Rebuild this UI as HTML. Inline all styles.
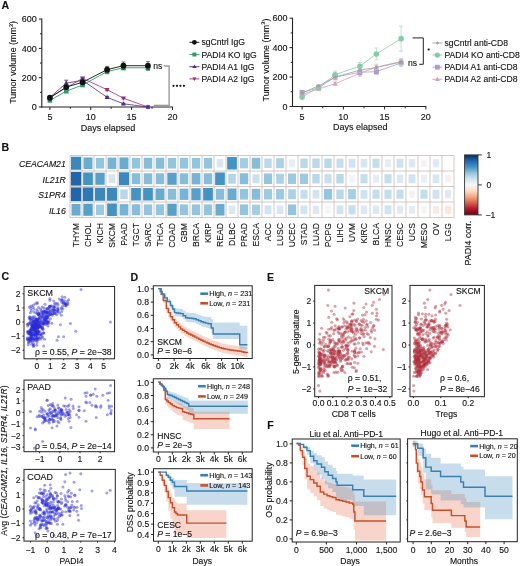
<!DOCTYPE html>
<html><head><meta charset="utf-8"><style>
html,body{margin:0;padding:0;background:#fff;width:520px;height:566px;overflow:hidden;}
svg{display:block;font-family:"Liberation Sans",sans-serif;filter:blur(0.3px);}
text{stroke:#111;stroke-width:0.12px;}
</style></head><body>
<svg width="520" height="566" viewBox="0 0 520 566" fill="#111">
<rect width="520" height="566" fill="#fff"/>
<line x1="41.8" y1="18.6" x2="41.8" y2="107.5" stroke="#222" stroke-width="1.1"/>
<line x1="41.3" y1="107" x2="172.95" y2="107" stroke="#222" stroke-width="1.1"/>
<line x1="38.8" y1="107" x2="41.8" y2="107" stroke="#222" stroke-width="1"/>
<line x1="40" y1="92.35" x2="41.8" y2="92.35" stroke="#222" stroke-width="1"/>
<line x1="38.8" y1="77.7" x2="41.8" y2="77.7" stroke="#222" stroke-width="1"/>
<line x1="40" y1="63.05" x2="41.8" y2="63.05" stroke="#222" stroke-width="1"/>
<line x1="38.8" y1="48.4" x2="41.8" y2="48.4" stroke="#222" stroke-width="1"/>
<line x1="40" y1="33.75" x2="41.8" y2="33.75" stroke="#222" stroke-width="1"/>
<line x1="38.8" y1="19.1" x2="41.8" y2="19.1" stroke="#222" stroke-width="1"/>
<text x="36.8" y="110.2" font-size="9" text-anchor="end">0</text>
<text x="36.8" y="80.9" font-size="9" text-anchor="end">200</text>
<text x="36.8" y="51.6" font-size="9" text-anchor="end">400</text>
<text x="36.8" y="22.3" font-size="9" text-anchor="end">600</text>
<line x1="49.9" y1="107" x2="49.9" y2="110" stroke="#222" stroke-width="1"/>
<line x1="70.33" y1="107" x2="70.33" y2="108.8" stroke="#222" stroke-width="1"/>
<line x1="90.75" y1="107" x2="90.75" y2="110" stroke="#222" stroke-width="1"/>
<line x1="111.17" y1="107" x2="111.17" y2="108.8" stroke="#222" stroke-width="1"/>
<line x1="131.6" y1="107" x2="131.6" y2="110" stroke="#222" stroke-width="1"/>
<line x1="152.03" y1="107" x2="152.03" y2="108.8" stroke="#222" stroke-width="1"/>
<line x1="172.45" y1="107" x2="172.45" y2="110" stroke="#222" stroke-width="1"/>
<text x="49.9" y="120" font-size="9" text-anchor="middle">5</text>
<text x="90.75" y="120" font-size="9" text-anchor="middle">10</text>
<text x="131.6" y="120" font-size="9" text-anchor="middle">15</text>
<text x="172.45" y="120" font-size="9" text-anchor="middle">20</text>
<text x="108.12" y="130.5" font-size="9" text-anchor="middle">Days elapsed</text>
<text x="16.4" y="62.4" font-size="8.9" text-anchor="middle" transform="rotate(-90 16.4 62.4)">Tumor volume (mm<tspan font-size="5.8" dy="-3.4">3</tspan><tspan dy="3.4">)</tspan></text>
<polyline points="49.9,97.33 66.24,87.66 82.58,78.43 107.09,89.71 123.43,98.21 147.94,107" fill="none" stroke="#9b2f6e" stroke-width="0.8"/>
<line x1="49.9" y1="96.6" x2="49.9" y2="98.06" stroke="#9b2f6e" stroke-width="0.8"/>
<line x1="47.9" y1="96.6" x2="51.9" y2="96.6" stroke="#9b2f6e" stroke-width="0.8"/>
<line x1="47.9" y1="98.06" x2="51.9" y2="98.06" stroke="#9b2f6e" stroke-width="0.8"/>
<line x1="66.24" y1="86.2" x2="66.24" y2="89.13" stroke="#9b2f6e" stroke-width="0.8"/>
<line x1="64.24" y1="86.2" x2="68.24" y2="86.2" stroke="#9b2f6e" stroke-width="0.8"/>
<line x1="64.24" y1="89.13" x2="68.24" y2="89.13" stroke="#9b2f6e" stroke-width="0.8"/>
<line x1="82.58" y1="76.97" x2="82.58" y2="79.9" stroke="#9b2f6e" stroke-width="0.8"/>
<line x1="80.58" y1="76.97" x2="84.58" y2="76.97" stroke="#9b2f6e" stroke-width="0.8"/>
<line x1="80.58" y1="79.9" x2="84.58" y2="79.9" stroke="#9b2f6e" stroke-width="0.8"/>
<line x1="107.09" y1="88.83" x2="107.09" y2="90.59" stroke="#9b2f6e" stroke-width="0.8"/>
<line x1="105.09" y1="88.83" x2="109.09" y2="88.83" stroke="#9b2f6e" stroke-width="0.8"/>
<line x1="105.09" y1="90.59" x2="109.09" y2="90.59" stroke="#9b2f6e" stroke-width="0.8"/>
<line x1="123.43" y1="97.48" x2="123.43" y2="98.94" stroke="#9b2f6e" stroke-width="0.8"/>
<line x1="121.43" y1="97.48" x2="125.43" y2="97.48" stroke="#9b2f6e" stroke-width="0.8"/>
<line x1="121.43" y1="98.94" x2="125.43" y2="98.94" stroke="#9b2f6e" stroke-width="0.8"/>
<polygon points="49.9,99.86 47.48,95.68 52.32,95.68" fill="#9b2f6e"/>
<polygon points="66.24,90.19 63.82,86.01 68.66,86.01" fill="#9b2f6e"/>
<polygon points="82.58,80.96 80.16,76.78 85,76.78" fill="#9b2f6e"/>
<polygon points="107.09,92.24 104.67,88.06 109.51,88.06" fill="#9b2f6e"/>
<polygon points="123.43,100.74 121.01,96.56 125.85,96.56" fill="#9b2f6e"/>
<polygon points="147.94,109.53 145.52,105.35 150.36,105.35" fill="#9b2f6e"/>
<polyline points="49.9,97.33 66.24,83.12 82.58,80.34 107.09,97.33 123.43,103.78 147.94,107" fill="none" stroke="#4b2a8c" stroke-width="0.8"/>
<line x1="49.9" y1="96.6" x2="49.9" y2="98.06" stroke="#4b2a8c" stroke-width="0.8"/>
<line x1="47.9" y1="96.6" x2="51.9" y2="96.6" stroke="#4b2a8c" stroke-width="0.8"/>
<line x1="47.9" y1="98.06" x2="51.9" y2="98.06" stroke="#4b2a8c" stroke-width="0.8"/>
<line x1="66.24" y1="80.19" x2="66.24" y2="86.05" stroke="#4b2a8c" stroke-width="0.8"/>
<line x1="64.24" y1="80.19" x2="68.24" y2="80.19" stroke="#4b2a8c" stroke-width="0.8"/>
<line x1="64.24" y1="86.05" x2="68.24" y2="86.05" stroke="#4b2a8c" stroke-width="0.8"/>
<line x1="82.58" y1="78.58" x2="82.58" y2="82.09" stroke="#4b2a8c" stroke-width="0.8"/>
<line x1="80.58" y1="78.58" x2="84.58" y2="78.58" stroke="#4b2a8c" stroke-width="0.8"/>
<line x1="80.58" y1="82.09" x2="84.58" y2="82.09" stroke="#4b2a8c" stroke-width="0.8"/>
<line x1="107.09" y1="96.45" x2="107.09" y2="98.21" stroke="#4b2a8c" stroke-width="0.8"/>
<line x1="105.09" y1="96.45" x2="109.09" y2="96.45" stroke="#4b2a8c" stroke-width="0.8"/>
<line x1="105.09" y1="98.21" x2="109.09" y2="98.21" stroke="#4b2a8c" stroke-width="0.8"/>
<line x1="123.43" y1="103.19" x2="123.43" y2="104.36" stroke="#4b2a8c" stroke-width="0.8"/>
<line x1="121.43" y1="103.19" x2="125.43" y2="103.19" stroke="#4b2a8c" stroke-width="0.8"/>
<line x1="121.43" y1="104.36" x2="125.43" y2="104.36" stroke="#4b2a8c" stroke-width="0.8"/>
<polygon points="49.9,94.8 47.48,98.98 52.32,98.98" fill="#4b2a8c"/>
<polygon points="66.24,80.59 63.82,84.77 68.66,84.77" fill="#4b2a8c"/>
<polygon points="82.58,77.81 80.16,81.99 85,81.99" fill="#4b2a8c"/>
<polygon points="107.09,94.8 104.67,98.98 109.51,98.98" fill="#4b2a8c"/>
<polygon points="123.43,101.25 121.01,105.43 125.85,105.43" fill="#4b2a8c"/>
<polygon points="147.94,104.47 145.52,108.65 150.36,108.65" fill="#4b2a8c"/>
<polyline points="49.9,100.41 66.24,91.18 82.58,85.03 107.09,71.55 123.43,67.74 147.94,67.74" fill="none" stroke="#2e9b6a" stroke-width="0.9"/>
<line x1="49.9" y1="99.53" x2="49.9" y2="101.29" stroke="#2e9b6a" stroke-width="0.8"/>
<line x1="47.9" y1="99.53" x2="51.9" y2="99.53" stroke="#2e9b6a" stroke-width="0.8"/>
<line x1="47.9" y1="101.29" x2="51.9" y2="101.29" stroke="#2e9b6a" stroke-width="0.8"/>
<line x1="66.24" y1="89.71" x2="66.24" y2="92.64" stroke="#2e9b6a" stroke-width="0.8"/>
<line x1="64.24" y1="89.71" x2="68.24" y2="89.71" stroke="#2e9b6a" stroke-width="0.8"/>
<line x1="64.24" y1="92.64" x2="68.24" y2="92.64" stroke="#2e9b6a" stroke-width="0.8"/>
<line x1="82.58" y1="83.56" x2="82.58" y2="86.49" stroke="#2e9b6a" stroke-width="0.8"/>
<line x1="80.58" y1="83.56" x2="84.58" y2="83.56" stroke="#2e9b6a" stroke-width="0.8"/>
<line x1="80.58" y1="86.49" x2="84.58" y2="86.49" stroke="#2e9b6a" stroke-width="0.8"/>
<line x1="107.09" y1="69.35" x2="107.09" y2="73.74" stroke="#2e9b6a" stroke-width="0.8"/>
<line x1="105.09" y1="69.35" x2="109.09" y2="69.35" stroke="#2e9b6a" stroke-width="0.8"/>
<line x1="105.09" y1="73.74" x2="109.09" y2="73.74" stroke="#2e9b6a" stroke-width="0.8"/>
<line x1="123.43" y1="65.54" x2="123.43" y2="69.94" stroke="#2e9b6a" stroke-width="0.8"/>
<line x1="121.43" y1="65.54" x2="125.43" y2="65.54" stroke="#2e9b6a" stroke-width="0.8"/>
<line x1="121.43" y1="69.94" x2="125.43" y2="69.94" stroke="#2e9b6a" stroke-width="0.8"/>
<line x1="147.94" y1="65.1" x2="147.94" y2="70.38" stroke="#2e9b6a" stroke-width="0.8"/>
<line x1="145.94" y1="65.1" x2="149.94" y2="65.1" stroke="#2e9b6a" stroke-width="0.8"/>
<line x1="145.94" y1="70.38" x2="149.94" y2="70.38" stroke="#2e9b6a" stroke-width="0.8"/>
<rect x="47.6" y="98.11" width="4.6" height="4.6" fill="#2e9b6a"/>
<rect x="63.94" y="88.88" width="4.6" height="4.6" fill="#2e9b6a"/>
<rect x="80.28" y="82.73" width="4.6" height="4.6" fill="#2e9b6a"/>
<rect x="104.79" y="69.25" width="4.6" height="4.6" fill="#2e9b6a"/>
<rect x="121.13" y="65.44" width="4.6" height="4.6" fill="#2e9b6a"/>
<rect x="145.64" y="65.44" width="4.6" height="4.6" fill="#2e9b6a"/>
<polyline points="49.9,97.77 66.24,87.08 82.58,82.24 107.09,69.64 123.43,65.69 147.94,65.69" fill="none" stroke="#111" stroke-width="0.9"/>
<line x1="49.9" y1="96.6" x2="49.9" y2="98.94" stroke="#555" stroke-width="0.8"/>
<line x1="47.9" y1="96.6" x2="51.9" y2="96.6" stroke="#555" stroke-width="0.8"/>
<line x1="47.9" y1="98.94" x2="51.9" y2="98.94" stroke="#555" stroke-width="0.8"/>
<line x1="66.24" y1="84.88" x2="66.24" y2="89.27" stroke="#555" stroke-width="0.8"/>
<line x1="64.24" y1="84.88" x2="68.24" y2="84.88" stroke="#555" stroke-width="0.8"/>
<line x1="64.24" y1="89.27" x2="68.24" y2="89.27" stroke="#555" stroke-width="0.8"/>
<line x1="82.58" y1="80.48" x2="82.58" y2="84" stroke="#555" stroke-width="0.8"/>
<line x1="80.58" y1="80.48" x2="84.58" y2="80.48" stroke="#555" stroke-width="0.8"/>
<line x1="80.58" y1="84" x2="84.58" y2="84" stroke="#555" stroke-width="0.8"/>
<line x1="107.09" y1="66.42" x2="107.09" y2="72.87" stroke="#555" stroke-width="0.8"/>
<line x1="105.09" y1="66.42" x2="109.09" y2="66.42" stroke="#555" stroke-width="0.8"/>
<line x1="105.09" y1="72.87" x2="109.09" y2="72.87" stroke="#555" stroke-width="0.8"/>
<line x1="123.43" y1="62.02" x2="123.43" y2="69.35" stroke="#555" stroke-width="0.8"/>
<line x1="121.43" y1="62.02" x2="125.43" y2="62.02" stroke="#555" stroke-width="0.8"/>
<line x1="121.43" y1="69.35" x2="125.43" y2="69.35" stroke="#555" stroke-width="0.8"/>
<line x1="147.94" y1="61.58" x2="147.94" y2="69.79" stroke="#555" stroke-width="0.8"/>
<line x1="145.94" y1="61.58" x2="149.94" y2="61.58" stroke="#555" stroke-width="0.8"/>
<line x1="145.94" y1="69.79" x2="149.94" y2="69.79" stroke="#555" stroke-width="0.8"/>
<circle cx="49.9" cy="97.77" r="2.9" fill="#111"/>
<circle cx="66.24" cy="87.08" r="2.9" fill="#111"/>
<circle cx="82.58" cy="82.24" r="2.9" fill="#111"/>
<circle cx="107.09" cy="69.64" r="2.9" fill="#111"/>
<circle cx="123.43" cy="65.69" r="2.9" fill="#111"/>
<circle cx="147.94" cy="65.69" r="2.9" fill="#111"/>
<line x1="189.4" y1="42.3" x2="199.4" y2="42.3" stroke="#111" stroke-width="0.9"/>
<circle cx="194.4" cy="42.3" r="2.4" fill="#111"/>
<text x="201.5" y="45.4" font-size="8.6">sgCntrl IgG</text>
<line x1="189.4" y1="54.5" x2="199.4" y2="54.5" stroke="#2e9b6a" stroke-width="0.9"/>
<rect x="192.4" y="52.5" width="4" height="4" fill="#2e9b6a"/>
<text x="201.5" y="57.6" font-size="8.6">PADI4 KO IgG</text>
<line x1="189.4" y1="66.7" x2="199.4" y2="66.7" stroke="#4b2a8c" stroke-width="0.9"/>
<polygon points="194.4,64.51 192.31,68.12 196.49,68.12" fill="#4b2a8c"/>
<text x="201.5" y="69.8" font-size="8.6">PADI4 A1 IgG</text>
<line x1="189.4" y1="78.9" x2="199.4" y2="78.9" stroke="#9b2f6e" stroke-width="0.9"/>
<polygon points="194.4,81.08 192.31,77.47 196.49,77.47" fill="#9b2f6e"/>
<text x="201.5" y="82" font-size="8.6">PADI4 A2 IgG</text>
<text x="153.2" y="68.6" font-size="8.6">ns</text>
<polyline points="163.8,66 169.1,66 169.1,105.8" fill="none" stroke="#9c9c9c" stroke-width="1.4"/>
<line x1="153.8" y1="105.6" x2="169.6" y2="105.6" stroke="#999" stroke-width="1.8"/>
<circle cx="173.5" cy="85.8" r="1.1" fill="#111"/>
<circle cx="176.97" cy="85.8" r="1.1" fill="#111"/>
<circle cx="180.44" cy="85.8" r="1.1" fill="#111"/>
<circle cx="183.91" cy="85.8" r="1.1" fill="#111"/>
<line x1="292.5" y1="17.7" x2="292.5" y2="107" stroke="#222" stroke-width="1.1"/>
<line x1="292" y1="106.5" x2="426.35" y2="106.5" stroke="#222" stroke-width="1.1"/>
<line x1="289.5" y1="106.5" x2="292.5" y2="106.5" stroke="#222" stroke-width="1"/>
<line x1="290.7" y1="91.78" x2="292.5" y2="91.78" stroke="#222" stroke-width="1"/>
<line x1="289.5" y1="77.07" x2="292.5" y2="77.07" stroke="#222" stroke-width="1"/>
<line x1="290.7" y1="62.35" x2="292.5" y2="62.35" stroke="#222" stroke-width="1"/>
<line x1="289.5" y1="47.63" x2="292.5" y2="47.63" stroke="#222" stroke-width="1"/>
<line x1="290.7" y1="32.92" x2="292.5" y2="32.92" stroke="#222" stroke-width="1"/>
<line x1="289.5" y1="18.2" x2="292.5" y2="18.2" stroke="#222" stroke-width="1"/>
<text x="287.5" y="109.7" font-size="9" text-anchor="end">0</text>
<text x="287.5" y="80.27" font-size="9" text-anchor="end">200</text>
<text x="287.5" y="50.83" font-size="9" text-anchor="end">400</text>
<text x="287.5" y="21.4" font-size="9" text-anchor="end">600</text>
<line x1="302.1" y1="106.5" x2="302.1" y2="109.5" stroke="#222" stroke-width="1"/>
<line x1="322.73" y1="106.5" x2="322.73" y2="108.3" stroke="#222" stroke-width="1"/>
<line x1="343.35" y1="106.5" x2="343.35" y2="109.5" stroke="#222" stroke-width="1"/>
<line x1="363.98" y1="106.5" x2="363.98" y2="108.3" stroke="#222" stroke-width="1"/>
<line x1="384.6" y1="106.5" x2="384.6" y2="109.5" stroke="#222" stroke-width="1"/>
<line x1="405.23" y1="106.5" x2="405.23" y2="108.3" stroke="#222" stroke-width="1"/>
<line x1="425.85" y1="106.5" x2="425.85" y2="109.5" stroke="#222" stroke-width="1"/>
<text x="302.1" y="119.5" font-size="9" text-anchor="middle">5</text>
<text x="343.35" y="119.5" font-size="9" text-anchor="middle">10</text>
<text x="384.6" y="119.5" font-size="9" text-anchor="middle">15</text>
<text x="425.85" y="119.5" font-size="9" text-anchor="middle">20</text>
<text x="360.18" y="130" font-size="9" text-anchor="middle">Days elapsed</text>
<text x="268.9" y="60" font-size="8.9" text-anchor="middle" transform="rotate(-90 268.9 60)">Tumor volume (mm<tspan font-size="5.8" dy="-3.4">3</tspan><tspan dy="3.4">)</tspan></text>
<polyline points="302.1,94.43 318.6,88.99 335.1,83.69 359.85,73.24 376.35,67.06 401.1,61.61" fill="none" stroke="#dca0ae" stroke-width="0.8"/>
<line x1="302.1" y1="93.55" x2="302.1" y2="95.32" stroke="#ecc0cc" stroke-width="0.8"/>
<line x1="300.1" y1="93.55" x2="304.1" y2="93.55" stroke="#ecc0cc" stroke-width="0.8"/>
<line x1="300.1" y1="95.32" x2="304.1" y2="95.32" stroke="#ecc0cc" stroke-width="0.8"/>
<line x1="318.6" y1="87.81" x2="318.6" y2="90.16" stroke="#ecc0cc" stroke-width="0.8"/>
<line x1="316.6" y1="87.81" x2="320.6" y2="87.81" stroke="#ecc0cc" stroke-width="0.8"/>
<line x1="316.6" y1="90.16" x2="320.6" y2="90.16" stroke="#ecc0cc" stroke-width="0.8"/>
<line x1="335.1" y1="81.92" x2="335.1" y2="85.46" stroke="#ecc0cc" stroke-width="0.8"/>
<line x1="333.1" y1="81.92" x2="337.1" y2="81.92" stroke="#ecc0cc" stroke-width="0.8"/>
<line x1="333.1" y1="85.46" x2="337.1" y2="85.46" stroke="#ecc0cc" stroke-width="0.8"/>
<line x1="359.85" y1="70.3" x2="359.85" y2="76.18" stroke="#ecc0cc" stroke-width="0.8"/>
<line x1="357.85" y1="70.3" x2="361.85" y2="70.3" stroke="#ecc0cc" stroke-width="0.8"/>
<line x1="357.85" y1="76.18" x2="361.85" y2="76.18" stroke="#ecc0cc" stroke-width="0.8"/>
<line x1="376.35" y1="64.12" x2="376.35" y2="70" stroke="#ecc0cc" stroke-width="0.8"/>
<line x1="374.35" y1="64.12" x2="378.35" y2="64.12" stroke="#ecc0cc" stroke-width="0.8"/>
<line x1="374.35" y1="70" x2="378.35" y2="70" stroke="#ecc0cc" stroke-width="0.8"/>
<line x1="401.1" y1="58.67" x2="401.1" y2="64.56" stroke="#ecc0cc" stroke-width="0.8"/>
<line x1="399.1" y1="58.67" x2="403.1" y2="58.67" stroke="#ecc0cc" stroke-width="0.8"/>
<line x1="399.1" y1="64.56" x2="403.1" y2="64.56" stroke="#ecc0cc" stroke-width="0.8"/>
<polygon points="302.1,91.79 299.57,96.16 304.63,96.16" fill="#dca0ae"/>
<polygon points="318.6,86.34 316.07,90.71 321.13,90.71" fill="#dca0ae"/>
<polygon points="335.1,81.04 332.57,85.41 337.63,85.41" fill="#dca0ae"/>
<polygon points="359.85,70.6 357.32,74.97 362.38,74.97" fill="#dca0ae"/>
<polygon points="376.35,64.41 373.82,68.78 378.88,68.78" fill="#dca0ae"/>
<polygon points="401.1,58.97 398.57,63.34 403.63,63.34" fill="#dca0ae"/>
<polyline points="302.1,92.52 318.6,87.66 335.1,77.07 359.85,72.36 376.35,71.62 401.1,62.94" fill="none" stroke="#aa9cd2" stroke-width="0.8"/>
<line x1="302.1" y1="91.34" x2="302.1" y2="93.7" stroke="#c8bee4" stroke-width="0.8"/>
<line x1="300.1" y1="91.34" x2="304.1" y2="91.34" stroke="#c8bee4" stroke-width="0.8"/>
<line x1="300.1" y1="93.7" x2="304.1" y2="93.7" stroke="#c8bee4" stroke-width="0.8"/>
<line x1="318.6" y1="86.19" x2="318.6" y2="89.13" stroke="#c8bee4" stroke-width="0.8"/>
<line x1="316.6" y1="86.19" x2="320.6" y2="86.19" stroke="#c8bee4" stroke-width="0.8"/>
<line x1="316.6" y1="89.13" x2="320.6" y2="89.13" stroke="#c8bee4" stroke-width="0.8"/>
<line x1="335.1" y1="74.12" x2="335.1" y2="80.01" stroke="#c8bee4" stroke-width="0.8"/>
<line x1="333.1" y1="74.12" x2="337.1" y2="74.12" stroke="#c8bee4" stroke-width="0.8"/>
<line x1="333.1" y1="80.01" x2="337.1" y2="80.01" stroke="#c8bee4" stroke-width="0.8"/>
<line x1="359.85" y1="68.68" x2="359.85" y2="76.04" stroke="#c8bee4" stroke-width="0.8"/>
<line x1="357.85" y1="68.68" x2="361.85" y2="68.68" stroke="#c8bee4" stroke-width="0.8"/>
<line x1="357.85" y1="76.04" x2="361.85" y2="76.04" stroke="#c8bee4" stroke-width="0.8"/>
<line x1="376.35" y1="68.68" x2="376.35" y2="74.56" stroke="#c8bee4" stroke-width="0.8"/>
<line x1="374.35" y1="68.68" x2="378.35" y2="68.68" stroke="#c8bee4" stroke-width="0.8"/>
<line x1="374.35" y1="74.56" x2="378.35" y2="74.56" stroke="#c8bee4" stroke-width="0.8"/>
<line x1="401.1" y1="59.26" x2="401.1" y2="66.62" stroke="#c8bee4" stroke-width="0.8"/>
<line x1="399.1" y1="59.26" x2="403.1" y2="59.26" stroke="#c8bee4" stroke-width="0.8"/>
<line x1="399.1" y1="66.62" x2="403.1" y2="66.62" stroke="#c8bee4" stroke-width="0.8"/>
<rect x="299.6" y="90.02" width="5" height="5" fill="#aa9cd2"/>
<rect x="316.1" y="85.16" width="5" height="5" fill="#aa9cd2"/>
<rect x="332.6" y="74.57" width="5" height="5" fill="#aa9cd2"/>
<rect x="357.35" y="69.86" width="5" height="5" fill="#aa9cd2"/>
<rect x="373.85" y="69.12" width="5" height="5" fill="#aa9cd2"/>
<rect x="398.6" y="60.44" width="5" height="5" fill="#aa9cd2"/>
<polyline points="302.1,97.08 318.6,87.22 335.1,74.71 359.85,66.18 376.35,53.96 401.1,38.66" fill="none" stroke="#86cba8" stroke-width="0.8"/>
<line x1="302.1" y1="96.2" x2="302.1" y2="97.96" stroke="#b0dcc6" stroke-width="0.8"/>
<line x1="300.1" y1="96.2" x2="304.1" y2="96.2" stroke="#b0dcc6" stroke-width="0.8"/>
<line x1="300.1" y1="97.96" x2="304.1" y2="97.96" stroke="#b0dcc6" stroke-width="0.8"/>
<line x1="318.6" y1="85.75" x2="318.6" y2="88.69" stroke="#b0dcc6" stroke-width="0.8"/>
<line x1="316.6" y1="85.75" x2="320.6" y2="85.75" stroke="#b0dcc6" stroke-width="0.8"/>
<line x1="316.6" y1="88.69" x2="320.6" y2="88.69" stroke="#b0dcc6" stroke-width="0.8"/>
<line x1="335.1" y1="71.03" x2="335.1" y2="78.39" stroke="#b0dcc6" stroke-width="0.8"/>
<line x1="333.1" y1="71.03" x2="337.1" y2="71.03" stroke="#b0dcc6" stroke-width="0.8"/>
<line x1="333.1" y1="78.39" x2="337.1" y2="78.39" stroke="#b0dcc6" stroke-width="0.8"/>
<line x1="359.85" y1="62.5" x2="359.85" y2="69.86" stroke="#b0dcc6" stroke-width="0.8"/>
<line x1="357.85" y1="62.5" x2="361.85" y2="62.5" stroke="#b0dcc6" stroke-width="0.8"/>
<line x1="357.85" y1="69.86" x2="361.85" y2="69.86" stroke="#b0dcc6" stroke-width="0.8"/>
<line x1="376.35" y1="48.07" x2="376.35" y2="59.85" stroke="#b0dcc6" stroke-width="0.8"/>
<line x1="374.35" y1="48.07" x2="378.35" y2="48.07" stroke="#b0dcc6" stroke-width="0.8"/>
<line x1="374.35" y1="59.85" x2="378.35" y2="59.85" stroke="#b0dcc6" stroke-width="0.8"/>
<line x1="401.1" y1="26.15" x2="401.1" y2="51.17" stroke="#b0dcc6" stroke-width="0.8"/>
<line x1="399.1" y1="26.15" x2="403.1" y2="26.15" stroke="#b0dcc6" stroke-width="0.8"/>
<line x1="399.1" y1="51.17" x2="403.1" y2="51.17" stroke="#b0dcc6" stroke-width="0.8"/>
<circle cx="302.1" cy="97.08" r="2.8" fill="#86cba8"/>
<circle cx="318.6" cy="87.22" r="2.8" fill="#86cba8"/>
<circle cx="335.1" cy="74.71" r="2.8" fill="#86cba8"/>
<circle cx="359.85" cy="66.18" r="2.8" fill="#86cba8"/>
<circle cx="376.35" cy="53.96" r="2.8" fill="#86cba8"/>
<circle cx="401.1" cy="38.66" r="2.8" fill="#86cba8"/>
<polyline points="302.1,92.96 318.6,85.9 335.1,77.07 359.85,70.15 376.35,67.5 401.1,62.06" fill="none" stroke="#a0a0a0" stroke-width="0.8"/>
<line x1="302.1" y1="92.08" x2="302.1" y2="93.84" stroke="#c0c0c0" stroke-width="0.8"/>
<line x1="300.1" y1="92.08" x2="304.1" y2="92.08" stroke="#c0c0c0" stroke-width="0.8"/>
<line x1="300.1" y1="93.84" x2="304.1" y2="93.84" stroke="#c0c0c0" stroke-width="0.8"/>
<line x1="318.6" y1="84.72" x2="318.6" y2="87.07" stroke="#c0c0c0" stroke-width="0.8"/>
<line x1="316.6" y1="84.72" x2="320.6" y2="84.72" stroke="#c0c0c0" stroke-width="0.8"/>
<line x1="316.6" y1="87.07" x2="320.6" y2="87.07" stroke="#c0c0c0" stroke-width="0.8"/>
<line x1="335.1" y1="75.3" x2="335.1" y2="78.83" stroke="#c0c0c0" stroke-width="0.8"/>
<line x1="333.1" y1="75.3" x2="337.1" y2="75.3" stroke="#c0c0c0" stroke-width="0.8"/>
<line x1="333.1" y1="78.83" x2="337.1" y2="78.83" stroke="#c0c0c0" stroke-width="0.8"/>
<line x1="359.85" y1="67.94" x2="359.85" y2="72.36" stroke="#c0c0c0" stroke-width="0.8"/>
<line x1="357.85" y1="67.94" x2="361.85" y2="67.94" stroke="#c0c0c0" stroke-width="0.8"/>
<line x1="357.85" y1="72.36" x2="361.85" y2="72.36" stroke="#c0c0c0" stroke-width="0.8"/>
<line x1="376.35" y1="65.29" x2="376.35" y2="69.71" stroke="#c0c0c0" stroke-width="0.8"/>
<line x1="374.35" y1="65.29" x2="378.35" y2="65.29" stroke="#c0c0c0" stroke-width="0.8"/>
<line x1="374.35" y1="69.71" x2="378.35" y2="69.71" stroke="#c0c0c0" stroke-width="0.8"/>
<line x1="401.1" y1="59.41" x2="401.1" y2="64.7" stroke="#c0c0c0" stroke-width="0.8"/>
<line x1="399.1" y1="59.41" x2="403.1" y2="59.41" stroke="#c0c0c0" stroke-width="0.8"/>
<line x1="399.1" y1="64.7" x2="403.1" y2="64.7" stroke="#c0c0c0" stroke-width="0.8"/>
<polygon points="302.1,90.96 304.1,92.96 302.1,94.96 300.1,92.96" fill="#a0a0a0"/>
<polygon points="318.6,83.9 320.6,85.9 318.6,87.9 316.6,85.9" fill="#a0a0a0"/>
<polygon points="335.1,75.07 337.1,77.07 335.1,79.07 333.1,77.07" fill="#a0a0a0"/>
<polygon points="359.85,68.15 361.85,70.15 359.85,72.15 357.85,70.15" fill="#a0a0a0"/>
<polygon points="376.35,65.5 378.35,67.5 376.35,69.5 374.35,67.5" fill="#a0a0a0"/>
<polygon points="401.1,60.06 403.1,62.06 401.1,64.06 399.1,62.06" fill="#a0a0a0"/>
<line x1="432.4" y1="43" x2="442.4" y2="43" stroke="#a0a0a0" stroke-width="0.9"/>
<polygon points="437.4,41.3 439.1,43 437.4,44.7 435.7,43" fill="#a0a0a0"/>
<text x="444.5" y="46.1" font-size="8.6">sgCntrl anti-CD8</text>
<line x1="432.4" y1="55.1" x2="442.4" y2="55.1" stroke="#86cba8" stroke-width="0.9"/>
<circle cx="437.4" cy="55.1" r="2.6" fill="#86cba8"/>
<text x="444.5" y="58.2" font-size="8.6">PADI4 KO anti-CD8</text>
<line x1="432.4" y1="67.2" x2="442.4" y2="67.2" stroke="#aa9cd2" stroke-width="0.9"/>
<rect x="435" y="64.8" width="4.8" height="4.8" fill="#aa9cd2"/>
<text x="444.5" y="70.3" font-size="8.6">PADI4 A1 anti-CD8</text>
<line x1="432.4" y1="79.3" x2="442.4" y2="79.3" stroke="#dca0ae" stroke-width="0.9"/>
<polygon points="437.4,76.77 434.98,80.95 439.82,80.95" fill="#dca0ae"/>
<text x="444.5" y="82.4" font-size="8.6">PADI4 A2 anti-CD8</text>
<polyline points="412.5,37.9 423.3,37.9 423.3,64.3 419.2,64.3" fill="none" stroke="#222" stroke-width="1"/>
<text x="407.9" y="65.8" font-size="8.6">ns</text>
<circle cx="428.7" cy="49.5" r="1.1" fill="#111"/>
<text x="1.4" y="8.9" font-size="10.6" font-weight="bold">A</text>
<text x="1.4" y="150.8" font-size="10.6" font-weight="bold">B</text>
<text x="1.4" y="280.4" font-size="10.6" font-weight="bold">C</text>
<text x="130.6" y="280.6" font-size="10.6" font-weight="bold">D</text>
<text x="266.9" y="280.7" font-size="10.6" font-weight="bold">E</text>
<text x="267.2" y="428.6" font-size="10.6" font-weight="bold">F</text>
<rect x="70" y="155.5" width="384" height="62" fill="#fff"/>
<rect x="70.96" y="156.74" width="10.08" height="13.02" fill="#3a88bd"/>
<rect x="83.5" y="157.44" width="9" height="11.62" fill="#6aacd0"/>
<rect x="95.86" y="157.9" width="8.28" height="10.69" fill="#92c5de"/>
<rect x="107.61" y="157.58" width="8.78" height="11.35" fill="#76b4d5"/>
<rect x="119.5" y="157.44" width="9" height="11.62" fill="#6aacd0"/>
<rect x="131.86" y="157.9" width="8.28" height="10.69" fill="#92c5de"/>
<rect x="143.75" y="157.76" width="8.5" height="10.97" fill="#86beda"/>
<rect x="155.75" y="157.76" width="8.5" height="10.97" fill="#86beda"/>
<rect x="167.86" y="157.9" width="8.28" height="10.69" fill="#92c5de"/>
<rect x="179.86" y="157.9" width="8.28" height="10.69" fill="#92c5de"/>
<rect x="191.86" y="157.9" width="8.28" height="10.69" fill="#92c5de"/>
<rect x="203.86" y="157.9" width="8.28" height="10.69" fill="#92c5de"/>
<rect x="216.72" y="159.02" width="6.55" height="8.46" fill="#d9e9f1"/>
<rect x="227.14" y="156.97" width="9.72" height="12.56" fill="#4393c3"/>
<rect x="240.04" y="158.13" width="7.92" height="10.23" fill="#a2cde2"/>
<rect x="251.75" y="157.76" width="8.5" height="10.97" fill="#86beda"/>
<rect x="264.31" y="158.48" width="7.39" height="9.54" fill="#b9d9e9"/>
<rect x="276.14" y="158.27" width="7.72" height="9.97" fill="#abd1e5"/>
<rect x="288.97" y="159.33" width="6.06" height="7.83" fill="#e6eff4"/>
<rect x="300.31" y="158.48" width="7.39" height="9.54" fill="#b9d9e9"/>
<rect x="312.31" y="158.48" width="7.39" height="9.54" fill="#b9d9e9"/>
<rect x="324.31" y="158.48" width="7.39" height="9.54" fill="#b9d9e9"/>
<rect x="336.44" y="158.65" width="7.12" height="9.2" fill="#c5dfec"/>
<rect x="348.57" y="158.82" width="6.86" height="8.86" fill="#d0e5f0"/>
<rect x="360.67" y="158.94" width="6.67" height="8.61" fill="#d6e7f1"/>
<rect x="372.44" y="158.65" width="7.13" height="9.21" fill="#c4dfec"/>
<rect x="384.93" y="159.28" width="6.15" height="7.94" fill="#e3eef3"/>
<rect x="396.55" y="158.8" width="6.9" height="8.91" fill="#cee4ef"/>
<rect x="408.75" y="159.06" width="6.49" height="8.39" fill="#dae9f2"/>
<rect x="421.21" y="159.65" width="5.57" height="7.2" fill="#f2f5f6"/>
<rect x="432.84" y="159.17" width="6.32" height="8.17" fill="#dfebf3"/>
<rect x="70.69" y="171.89" width="10.62" height="13.72" fill="#2166ac"/>
<rect x="83.14" y="172.47" width="9.72" height="12.56" fill="#4393c3"/>
<rect x="95.32" y="172.71" width="9.36" height="12.09" fill="#57a0ca"/>
<rect x="108.62" y="174.38" width="6.77" height="8.74" fill="#d3e6f0"/>
<rect x="118.96" y="172.24" width="10.08" height="13.02" fill="#3a88bd"/>
<rect x="131.75" y="173.26" width="8.5" height="10.97" fill="#86beda"/>
<rect x="143.75" y="173.26" width="8.5" height="10.97" fill="#86beda"/>
<rect x="155.75" y="173.26" width="8.5" height="10.97" fill="#86beda"/>
<rect x="167.32" y="172.71" width="9.36" height="12.09" fill="#57a0ca"/>
<rect x="179.75" y="173.26" width="8.5" height="10.97" fill="#86beda"/>
<rect x="191.61" y="173.08" width="8.78" height="11.35" fill="#76b4d5"/>
<rect x="203.75" y="173.26" width="8.5" height="10.97" fill="#86beda"/>
<rect x="215.14" y="172.47" width="9.72" height="12.56" fill="#4393c3"/>
<rect x="228.22" y="173.87" width="7.56" height="9.77" fill="#b2d5e7"/>
<rect x="239.75" y="173.26" width="8.5" height="10.97" fill="#86beda"/>
<rect x="252.51" y="174.24" width="6.98" height="9.02" fill="#cbe2ee"/>
<rect x="263.88" y="173.42" width="8.25" height="10.65" fill="#93c6de"/>
<rect x="276.14" y="173.77" width="7.72" height="9.97" fill="#abd1e5"/>
<rect x="287.98" y="173.55" width="8.05" height="10.4" fill="#9ccae1"/>
<rect x="299.98" y="173.55" width="8.05" height="10.4" fill="#9ccae1"/>
<rect x="312.31" y="173.98" width="7.39" height="9.54" fill="#b9d9e9"/>
<rect x="324.44" y="174.15" width="7.12" height="9.2" fill="#c5dfec"/>
<rect x="336.31" y="173.98" width="7.39" height="9.54" fill="#b9d9e9"/>
<rect x="349.2" y="175.13" width="5.6" height="7.23" fill="#f2f5f6"/>
<rect x="360.44" y="174.15" width="7.13" height="9.21" fill="#c4dfec"/>
<rect x="372.93" y="174.78" width="6.15" height="7.94" fill="#e3eef3"/>
<rect x="384.44" y="174.15" width="7.13" height="9.21" fill="#c4dfec"/>
<rect x="396.75" y="174.56" width="6.49" height="8.39" fill="#dae9f2"/>
<rect x="408.55" y="174.3" width="6.9" height="8.91" fill="#cee4ef"/>
<rect x="421.01" y="174.89" width="5.98" height="7.72" fill="#e8f0f4"/>
<rect x="432.67" y="174.44" width="6.67" height="8.61" fill="#d6e7f1"/>
<rect x="445.16" y="175.08" width="5.69" height="7.35" fill="#f8f1ed"/>
<rect x="70.69" y="187.39" width="10.62" height="13.72" fill="#2166ac"/>
<rect x="82.71" y="187.41" width="10.58" height="13.67" fill="#2f78b5"/>
<rect x="94.96" y="187.74" width="10.08" height="13.02" fill="#3a88bd"/>
<rect x="106.96" y="187.74" width="10.08" height="13.02" fill="#3a88bd"/>
<rect x="120.29" y="189.46" width="7.42" height="9.58" fill="#b8d8e9"/>
<rect x="131.14" y="187.97" width="9.72" height="12.56" fill="#4393c3"/>
<rect x="143.14" y="187.97" width="9.72" height="12.56" fill="#4393c3"/>
<rect x="155.5" y="188.44" width="9" height="11.62" fill="#6aacd0"/>
<rect x="167.75" y="188.76" width="8.5" height="10.97" fill="#86beda"/>
<rect x="179.61" y="188.58" width="8.78" height="11.35" fill="#76b4d5"/>
<rect x="191.32" y="188.21" width="9.36" height="12.09" fill="#57a0ca"/>
<rect x="203.14" y="187.97" width="9.72" height="12.56" fill="#4393c3"/>
<rect x="215.75" y="188.76" width="8.5" height="10.97" fill="#86beda"/>
<rect x="227.5" y="188.44" width="9" height="11.62" fill="#6aacd0"/>
<rect x="239.86" y="188.9" width="8.28" height="10.69" fill="#92c5de"/>
<rect x="251.75" y="188.76" width="8.5" height="10.97" fill="#86beda"/>
<rect x="263.98" y="189.05" width="8.05" height="10.4" fill="#9ccae1"/>
<rect x="275.98" y="189.05" width="8.05" height="10.4" fill="#9ccae1"/>
<rect x="288.14" y="189.27" width="7.72" height="9.97" fill="#abd1e5"/>
<rect x="300.44" y="189.65" width="7.12" height="9.2" fill="#c5dfec"/>
<rect x="312.57" y="189.82" width="6.86" height="8.86" fill="#d0e5f0"/>
<rect x="323.88" y="188.92" width="8.25" height="10.65" fill="#93c6de"/>
<rect x="336.31" y="189.48" width="7.39" height="9.54" fill="#b9d9e9"/>
<rect x="348.07" y="189.18" width="7.85" height="10.14" fill="#a5cfe3"/>
<rect x="360.55" y="189.8" width="6.9" height="8.91" fill="#cee4ef"/>
<rect x="372.44" y="189.65" width="7.13" height="9.21" fill="#c4dfec"/>
<rect x="384.44" y="189.65" width="7.13" height="9.21" fill="#c4dfec"/>
<rect x="396.44" y="189.65" width="7.13" height="9.21" fill="#c4dfec"/>
<rect x="409.16" y="190.58" width="5.69" height="7.35" fill="#f8f1ed"/>
<rect x="420.44" y="189.65" width="7.13" height="9.21" fill="#c4dfec"/>
<rect x="432.55" y="189.8" width="6.9" height="8.91" fill="#cee4ef"/>
<rect x="444.84" y="190.17" width="6.32" height="8.17" fill="#dfebf3"/>
<rect x="71.5" y="203.94" width="9" height="11.62" fill="#6aacd0"/>
<rect x="83.32" y="203.71" width="9.36" height="12.09" fill="#57a0ca"/>
<rect x="95.97" y="204.54" width="8.06" height="10.42" fill="#9bcae1"/>
<rect x="107.14" y="203.47" width="9.72" height="12.56" fill="#4393c3"/>
<rect x="119.61" y="204.08" width="8.78" height="11.35" fill="#76b4d5"/>
<rect x="131.75" y="204.26" width="8.5" height="10.97" fill="#86beda"/>
<rect x="143.86" y="204.4" width="8.28" height="10.69" fill="#92c5de"/>
<rect x="155.86" y="204.4" width="8.28" height="10.69" fill="#92c5de"/>
<rect x="167.32" y="203.71" width="9.36" height="12.09" fill="#57a0ca"/>
<rect x="179.86" y="204.4" width="8.28" height="10.69" fill="#92c5de"/>
<rect x="191.86" y="204.4" width="8.28" height="10.69" fill="#92c5de"/>
<rect x="203.86" y="204.4" width="8.28" height="10.69" fill="#92c5de"/>
<rect x="215.5" y="203.94" width="9" height="11.62" fill="#6aacd0"/>
<rect x="228.72" y="205.52" width="6.55" height="8.46" fill="#d9e9f1"/>
<rect x="239.86" y="204.4" width="8.28" height="10.69" fill="#92c5de"/>
<rect x="252.04" y="204.63" width="7.92" height="10.23" fill="#a2cde2"/>
<rect x="264.57" y="205.32" width="6.86" height="8.86" fill="#d0e5f0"/>
<rect x="276.67" y="205.45" width="6.66" height="8.6" fill="#d6e7f1"/>
<rect x="287.88" y="204.42" width="8.25" height="10.65" fill="#93c6de"/>
<rect x="300.57" y="205.32" width="6.86" height="8.86" fill="#d0e5f0"/>
<rect x="312.77" y="205.58" width="6.46" height="8.34" fill="#dbeaf2"/>
<rect x="325.2" y="206.13" width="5.6" height="7.23" fill="#f2f5f6"/>
<rect x="336.57" y="205.32" width="6.86" height="8.86" fill="#d0e5f0"/>
<rect x="348.44" y="205.15" width="7.12" height="9.2" fill="#c5dfec"/>
<rect x="360.75" y="205.56" width="6.49" height="8.39" fill="#dae9f2"/>
<rect x="372.75" y="205.56" width="6.49" height="8.39" fill="#dae9f2"/>
<rect x="384.55" y="205.3" width="6.9" height="8.91" fill="#cee4ef"/>
<rect x="396.84" y="205.67" width="6.32" height="8.17" fill="#dfebf3"/>
<rect x="408.93" y="205.78" width="6.15" height="7.94" fill="#e3eef3"/>
<rect x="421.24" y="206.19" width="5.52" height="7.12" fill="#f4f6f6"/>
<rect x="432.95" y="205.82" width="6.09" height="7.87" fill="#faeae0"/>
<rect x="444.87" y="205.7" width="6.26" height="8.09" fill="#fbe6da"/>
<path d="M70 155.5V217.5M82 155.5V217.5M94 155.5V217.5M106 155.5V217.5M118 155.5V217.5M130 155.5V217.5M142 155.5V217.5M154 155.5V217.5M166 155.5V217.5M178 155.5V217.5M190 155.5V217.5M202 155.5V217.5M214 155.5V217.5M226 155.5V217.5M238 155.5V217.5M250 155.5V217.5M262 155.5V217.5M274 155.5V217.5M286 155.5V217.5M298 155.5V217.5M310 155.5V217.5M322 155.5V217.5M334 155.5V217.5M346 155.5V217.5M358 155.5V217.5M370 155.5V217.5M382 155.5V217.5M394 155.5V217.5M406 155.5V217.5M418 155.5V217.5M430 155.5V217.5M442 155.5V217.5M454 155.5V217.5M70 155.5H454M70 171H454M70 186.5H454M70 202H454M70 217.5H454" stroke="#cdbdb9" stroke-width="0.85" fill="none"/>
<text x="65.8" y="167.35" font-size="8.7" text-anchor="end" font-style="italic">CEACAM21</text>
<text x="65.8" y="182.85" font-size="8.7" text-anchor="end" font-style="italic">IL21R</text>
<text x="65.8" y="198.35" font-size="8.7" text-anchor="end" font-style="italic">S1PR4</text>
<text x="65.8" y="213.85" font-size="8.7" text-anchor="end" font-style="italic">IL16</text>
<text x="79.1" y="223" font-size="8.6" text-anchor="end" transform="rotate(-90 79.1 223)">THYM</text>
<text x="91.1" y="223" font-size="8.6" text-anchor="end" transform="rotate(-90 91.1 223)">CHOL</text>
<text x="103.1" y="223" font-size="8.6" text-anchor="end" transform="rotate(-90 103.1 223)">KICH</text>
<text x="115.1" y="223" font-size="8.6" text-anchor="end" transform="rotate(-90 115.1 223)">SKCM</text>
<text x="127.1" y="223" font-size="8.6" text-anchor="end" transform="rotate(-90 127.1 223)">PAAD</text>
<text x="139.1" y="223" font-size="8.6" text-anchor="end" transform="rotate(-90 139.1 223)">TGCT</text>
<text x="151.1" y="223" font-size="8.6" text-anchor="end" transform="rotate(-90 151.1 223)">SARC</text>
<text x="163.1" y="223" font-size="8.6" text-anchor="end" transform="rotate(-90 163.1 223)">THCA</text>
<text x="175.1" y="223" font-size="8.6" text-anchor="end" transform="rotate(-90 175.1 223)">COAD</text>
<text x="187.1" y="223" font-size="8.6" text-anchor="end" transform="rotate(-90 187.1 223)">GBM</text>
<text x="199.1" y="223" font-size="8.6" text-anchor="end" transform="rotate(-90 199.1 223)">BRCA</text>
<text x="211.1" y="223" font-size="8.6" text-anchor="end" transform="rotate(-90 211.1 223)">KIRP</text>
<text x="223.1" y="223" font-size="8.6" text-anchor="end" transform="rotate(-90 223.1 223)">READ</text>
<text x="235.1" y="223" font-size="8.6" text-anchor="end" transform="rotate(-90 235.1 223)">DLBC</text>
<text x="247.1" y="223" font-size="8.6" text-anchor="end" transform="rotate(-90 247.1 223)">PRAD</text>
<text x="259.1" y="223" font-size="8.6" text-anchor="end" transform="rotate(-90 259.1 223)">ESCA</text>
<text x="271.1" y="223" font-size="8.6" text-anchor="end" transform="rotate(-90 271.1 223)">ACC</text>
<text x="283.1" y="223" font-size="8.6" text-anchor="end" transform="rotate(-90 283.1 223)">LUSC</text>
<text x="295.1" y="223" font-size="8.6" text-anchor="end" transform="rotate(-90 295.1 223)">UCEC</text>
<text x="307.1" y="223" font-size="8.6" text-anchor="end" transform="rotate(-90 307.1 223)">STAD</text>
<text x="319.1" y="223" font-size="8.6" text-anchor="end" transform="rotate(-90 319.1 223)">LUAD</text>
<text x="331.1" y="223" font-size="8.6" text-anchor="end" transform="rotate(-90 331.1 223)">PCPG</text>
<text x="343.1" y="223" font-size="8.6" text-anchor="end" transform="rotate(-90 343.1 223)">LIHC</text>
<text x="355.1" y="223" font-size="8.6" text-anchor="end" transform="rotate(-90 355.1 223)">UVM</text>
<text x="367.1" y="223" font-size="8.6" text-anchor="end" transform="rotate(-90 367.1 223)">KIRC</text>
<text x="379.1" y="223" font-size="8.6" text-anchor="end" transform="rotate(-90 379.1 223)">BLCA</text>
<text x="391.1" y="223" font-size="8.6" text-anchor="end" transform="rotate(-90 391.1 223)">HNSC</text>
<text x="403.1" y="223" font-size="8.6" text-anchor="end" transform="rotate(-90 403.1 223)">CESC</text>
<text x="415.1" y="223" font-size="8.6" text-anchor="end" transform="rotate(-90 415.1 223)">UCS</text>
<text x="427.1" y="223" font-size="8.6" text-anchor="end" transform="rotate(-90 427.1 223)">MESO</text>
<text x="439.1" y="223" font-size="8.6" text-anchor="end" transform="rotate(-90 439.1 223)">OV</text>
<text x="451.1" y="223" font-size="8.6" text-anchor="end" transform="rotate(-90 451.1 223)">LGG</text>
<defs><linearGradient id="cb" x1="0" y1="0" x2="0" y2="1"><stop offset="0" stop-color="#053061"/><stop offset="0.1" stop-color="#2166ac"/><stop offset="0.2" stop-color="#4393c3"/><stop offset="0.3" stop-color="#92c5de"/><stop offset="0.4" stop-color="#d1e5f0"/><stop offset="0.5" stop-color="#f7f7f7"/><stop offset="0.6" stop-color="#fddbc7"/><stop offset="0.7" stop-color="#f4a582"/><stop offset="0.8" stop-color="#d6604d"/><stop offset="0.9" stop-color="#b2182b"/><stop offset="1" stop-color="#67001f"/></linearGradient></defs>
<rect x="464.6" y="154.9" width="13.4" height="60" fill="url(#cb)" stroke="#333" stroke-width="0.9"/>
<line x1="478" y1="154.9" x2="481.8" y2="154.9" stroke="#333" stroke-width="1"/>
<line x1="478" y1="184.9" x2="481.8" y2="184.9" stroke="#333" stroke-width="1"/>
<line x1="478" y1="214.9" x2="481.8" y2="214.9" stroke="#333" stroke-width="1"/>
<text x="486.5" y="158.1" font-size="8.6">1</text>
<text x="486.5" y="188.1" font-size="8.6">0</text>
<text x="485.6" y="218.1" font-size="8.6">−1</text>
<text x="471.5" y="220.8" font-size="8.9" text-anchor="end" transform="rotate(-90 471.5 220.8)">PADI4 corr.</text>
<clipPath id="c1"><rect x="24" y="286.5" width="90.6" height="72.3"/></clipPath>
<g fill="#2c2cd8" fill-opacity="0.45" clip-path="url(#c1)">
<circle cx="37.36" cy="327.19" r="1.5"/>
<circle cx="31.72" cy="338.78" r="1.5"/>
<circle cx="37.83" cy="328.67" r="1.5"/>
<circle cx="33.15" cy="324.98" r="1.5"/>
<circle cx="38.2" cy="324.37" r="1.5"/>
<circle cx="43.77" cy="323.13" r="1.5"/>
<circle cx="28.28" cy="344.77" r="1.5"/>
<circle cx="39.62" cy="324.52" r="1.5"/>
<circle cx="36.97" cy="338.51" r="1.5"/>
<circle cx="34" cy="334.95" r="1.5"/>
<circle cx="47.97" cy="316.3" r="1.5"/>
<circle cx="45.87" cy="318.65" r="1.5"/>
<circle cx="38.24" cy="334.6" r="1.5"/>
<circle cx="37.96" cy="337.65" r="1.5"/>
<circle cx="45.58" cy="322.94" r="1.5"/>
<circle cx="61.74" cy="311.44" r="1.5"/>
<circle cx="37.94" cy="325.95" r="1.5"/>
<circle cx="43.64" cy="314.36" r="1.5"/>
<circle cx="52.97" cy="310.58" r="1.5"/>
<circle cx="34.09" cy="338.32" r="1.5"/>
<circle cx="33.39" cy="319.81" r="1.5"/>
<circle cx="49.03" cy="320.93" r="1.5"/>
<circle cx="43.26" cy="323.63" r="1.5"/>
<circle cx="36.6" cy="319.37" r="1.5"/>
<circle cx="34.97" cy="329.03" r="1.5"/>
<circle cx="54.19" cy="312.93" r="1.5"/>
<circle cx="40.36" cy="323.98" r="1.5"/>
<circle cx="30.7" cy="334.52" r="1.5"/>
<circle cx="49.29" cy="315.15" r="1.5"/>
<circle cx="43.48" cy="311.43" r="1.5"/>
<circle cx="37.3" cy="336.09" r="1.5"/>
<circle cx="40.3" cy="339.32" r="1.5"/>
<circle cx="35.12" cy="325.18" r="1.5"/>
<circle cx="66.09" cy="304.48" r="1.5"/>
<circle cx="39.04" cy="324.92" r="1.5"/>
<circle cx="35.81" cy="321.46" r="1.5"/>
<circle cx="31.05" cy="329.67" r="1.5"/>
<circle cx="30.96" cy="338.23" r="1.5"/>
<circle cx="46.89" cy="316.28" r="1.5"/>
<circle cx="33.32" cy="346.53" r="1.5"/>
<circle cx="45.43" cy="312.35" r="1.5"/>
<circle cx="31.95" cy="328.04" r="1.5"/>
<circle cx="29.14" cy="317.54" r="1.5"/>
<circle cx="36.84" cy="326.64" r="1.5"/>
<circle cx="31.32" cy="334.92" r="1.5"/>
<circle cx="36.95" cy="330.62" r="1.5"/>
<circle cx="30.04" cy="332.32" r="1.5"/>
<circle cx="46.82" cy="322.22" r="1.5"/>
<circle cx="34.97" cy="326.7" r="1.5"/>
<circle cx="34.65" cy="339.5" r="1.5"/>
<circle cx="32.14" cy="335.39" r="1.5"/>
<circle cx="30.96" cy="337.33" r="1.5"/>
<circle cx="52.53" cy="313.72" r="1.5"/>
<circle cx="33.09" cy="321.54" r="1.5"/>
<circle cx="37.16" cy="331.53" r="1.5"/>
<circle cx="41.32" cy="322.71" r="1.5"/>
<circle cx="30.73" cy="317.53" r="1.5"/>
<circle cx="33.82" cy="328.03" r="1.5"/>
<circle cx="34.23" cy="321.66" r="1.5"/>
<circle cx="35.14" cy="326.44" r="1.5"/>
<circle cx="49.43" cy="312.12" r="1.5"/>
<circle cx="33.48" cy="319.28" r="1.5"/>
<circle cx="46.83" cy="312.95" r="1.5"/>
<circle cx="44.7" cy="311.6" r="1.5"/>
<circle cx="34.14" cy="338.81" r="1.5"/>
<circle cx="45.61" cy="311.33" r="1.5"/>
<circle cx="59.7" cy="313.11" r="1.5"/>
<circle cx="28.69" cy="341.89" r="1.5"/>
<circle cx="37.25" cy="339.21" r="1.5"/>
<circle cx="27.69" cy="332.34" r="1.5"/>
<circle cx="35.53" cy="334" r="1.5"/>
<circle cx="29.21" cy="340.97" r="1.5"/>
<circle cx="28.82" cy="332.45" r="1.5"/>
<circle cx="40.86" cy="327.35" r="1.5"/>
<circle cx="31.21" cy="328.02" r="1.5"/>
<circle cx="32.27" cy="325.83" r="1.5"/>
<circle cx="62.17" cy="299.44" r="1.5"/>
<circle cx="36.66" cy="338.12" r="1.5"/>
<circle cx="34.11" cy="328.23" r="1.5"/>
<circle cx="38" cy="314.33" r="1.5"/>
<circle cx="37.18" cy="330.99" r="1.5"/>
<circle cx="27.98" cy="339.3" r="1.5"/>
<circle cx="33.68" cy="327.4" r="1.5"/>
<circle cx="30.46" cy="319.67" r="1.5"/>
<circle cx="38.63" cy="324.21" r="1.5"/>
<circle cx="37.65" cy="319.78" r="1.5"/>
<circle cx="39.13" cy="319.02" r="1.5"/>
<circle cx="32.79" cy="340.36" r="1.5"/>
<circle cx="36.3" cy="337.38" r="1.5"/>
<circle cx="57.19" cy="311.34" r="1.5"/>
<circle cx="44.6" cy="339.18" r="1.5"/>
<circle cx="39.44" cy="322.39" r="1.5"/>
<circle cx="30.86" cy="331.86" r="1.5"/>
<circle cx="49.58" cy="314.78" r="1.5"/>
<circle cx="54.27" cy="313.43" r="1.5"/>
<circle cx="46.8" cy="312.01" r="1.5"/>
<circle cx="38.24" cy="326.25" r="1.5"/>
<circle cx="35.82" cy="312.63" r="1.5"/>
<circle cx="42.32" cy="325.39" r="1.5"/>
<circle cx="33.07" cy="323.66" r="1.5"/>
<circle cx="37.89" cy="333.94" r="1.5"/>
<circle cx="36.83" cy="328.68" r="1.5"/>
<circle cx="35.66" cy="325.23" r="1.5"/>
<circle cx="28.97" cy="340.06" r="1.5"/>
<circle cx="45.87" cy="313.4" r="1.5"/>
<circle cx="54.2" cy="306.97" r="1.5"/>
<circle cx="33.26" cy="328.2" r="1.5"/>
<circle cx="31.23" cy="310.76" r="1.5"/>
<circle cx="35.44" cy="335.73" r="1.5"/>
<circle cx="40.05" cy="331.84" r="1.5"/>
<circle cx="50.78" cy="306.18" r="1.5"/>
<circle cx="54.2" cy="307.3" r="1.5"/>
<circle cx="60.92" cy="308.78" r="1.5"/>
<circle cx="29.76" cy="316.78" r="1.5"/>
<circle cx="46.74" cy="323.5" r="1.5"/>
<circle cx="33.84" cy="329.58" r="1.5"/>
<circle cx="39.12" cy="325.89" r="1.5"/>
<circle cx="37.03" cy="325.81" r="1.5"/>
<circle cx="41.8" cy="316.33" r="1.5"/>
<circle cx="37.79" cy="321.1" r="1.5"/>
<circle cx="28.03" cy="324.06" r="1.5"/>
<circle cx="43.88" cy="332.89" r="1.5"/>
<circle cx="34.68" cy="321.26" r="1.5"/>
<circle cx="66.33" cy="305.11" r="1.5"/>
<circle cx="30.47" cy="332.18" r="1.5"/>
<circle cx="30.54" cy="341.42" r="1.5"/>
<circle cx="48.61" cy="307.65" r="1.5"/>
<circle cx="34.02" cy="328.76" r="1.5"/>
<circle cx="34.56" cy="338.87" r="1.5"/>
<circle cx="29.44" cy="333.18" r="1.5"/>
<circle cx="39.14" cy="338.02" r="1.5"/>
<circle cx="32.26" cy="325.34" r="1.5"/>
<circle cx="34.64" cy="325.14" r="1.5"/>
<circle cx="30.29" cy="322.9" r="1.5"/>
<circle cx="41.41" cy="310.44" r="1.5"/>
<circle cx="42.75" cy="323.44" r="1.5"/>
<circle cx="35.18" cy="303.84" r="1.5"/>
<circle cx="36.02" cy="331.64" r="1.5"/>
<circle cx="38.69" cy="326.98" r="1.5"/>
<circle cx="47.03" cy="308.83" r="1.5"/>
<circle cx="40.22" cy="326.63" r="1.5"/>
<circle cx="34.12" cy="332.36" r="1.5"/>
<circle cx="32.04" cy="338.81" r="1.5"/>
<circle cx="30" cy="322.37" r="1.5"/>
<circle cx="29.16" cy="337.89" r="1.5"/>
<circle cx="31.31" cy="334.69" r="1.5"/>
<circle cx="53.82" cy="308.69" r="1.5"/>
<circle cx="35.65" cy="320.97" r="1.5"/>
<circle cx="36.17" cy="326.2" r="1.5"/>
<circle cx="30.82" cy="329.7" r="1.5"/>
<circle cx="46.73" cy="317.38" r="1.5"/>
<circle cx="28.59" cy="342.63" r="1.5"/>
<circle cx="28.37" cy="331.38" r="1.5"/>
<circle cx="48.53" cy="323.53" r="1.5"/>
<circle cx="32.47" cy="325.3" r="1.5"/>
<circle cx="32.14" cy="323.65" r="1.5"/>
<circle cx="32.41" cy="337.94" r="1.5"/>
<circle cx="30.3" cy="312.77" r="1.5"/>
<circle cx="35.02" cy="327.02" r="1.5"/>
<circle cx="38.65" cy="307.46" r="1.5"/>
<circle cx="31.03" cy="339.63" r="1.5"/>
<circle cx="29.83" cy="323.09" r="1.5"/>
<circle cx="31.38" cy="333.08" r="1.5"/>
<circle cx="52.3" cy="308.91" r="1.5"/>
<circle cx="30.87" cy="340.42" r="1.5"/>
<circle cx="35.25" cy="335.3" r="1.5"/>
<circle cx="52.23" cy="315.29" r="1.5"/>
<circle cx="31.82" cy="333.07" r="1.5"/>
<circle cx="37.11" cy="325.83" r="1.5"/>
<circle cx="30.67" cy="330.69" r="1.5"/>
<circle cx="50.93" cy="314.59" r="1.5"/>
<circle cx="32.35" cy="334.6" r="1.5"/>
<circle cx="32.48" cy="338.55" r="1.5"/>
<circle cx="42.83" cy="318.3" r="1.5"/>
<circle cx="35.97" cy="334.36" r="1.5"/>
<circle cx="35.58" cy="324.18" r="1.5"/>
<circle cx="37.31" cy="324.26" r="1.5"/>
<circle cx="29.8" cy="333.88" r="1.5"/>
<circle cx="27.75" cy="331.23" r="1.5"/>
<circle cx="36.15" cy="329.11" r="1.5"/>
<circle cx="31.31" cy="335.02" r="1.5"/>
<circle cx="38.08" cy="322.18" r="1.5"/>
<circle cx="38.51" cy="327.61" r="1.5"/>
<circle cx="42.29" cy="317.03" r="1.5"/>
<circle cx="39.37" cy="319.91" r="1.5"/>
<circle cx="32.96" cy="322.53" r="1.5"/>
<circle cx="41.09" cy="334.18" r="1.5"/>
<circle cx="42.14" cy="312.7" r="1.5"/>
<circle cx="39.29" cy="315.25" r="1.5"/>
<circle cx="36.23" cy="322.4" r="1.5"/>
<circle cx="29.28" cy="337.63" r="1.5"/>
<circle cx="50.69" cy="311.93" r="1.5"/>
<circle cx="57.59" cy="308.77" r="1.5"/>
<circle cx="35.55" cy="332.49" r="1.5"/>
<circle cx="41.04" cy="320.87" r="1.5"/>
<circle cx="47.16" cy="317.15" r="1.5"/>
<circle cx="44.15" cy="310.82" r="1.5"/>
<circle cx="40.77" cy="319" r="1.5"/>
<circle cx="31.19" cy="324.38" r="1.5"/>
<circle cx="36.92" cy="340.03" r="1.5"/>
<circle cx="34.72" cy="334.79" r="1.5"/>
<circle cx="27.42" cy="324.14" r="1.5"/>
<circle cx="40.62" cy="322.24" r="1.5"/>
<circle cx="44.43" cy="319.95" r="1.5"/>
<circle cx="42.19" cy="307.08" r="1.5"/>
<circle cx="48.9" cy="313.12" r="1.5"/>
<circle cx="44.76" cy="319.02" r="1.5"/>
<circle cx="46.12" cy="318.8" r="1.5"/>
<circle cx="36.97" cy="313.38" r="1.5"/>
<circle cx="37.11" cy="333.45" r="1.5"/>
<circle cx="35.95" cy="318.99" r="1.5"/>
<circle cx="47.78" cy="322.97" r="1.5"/>
<circle cx="40.21" cy="335.14" r="1.5"/>
<circle cx="47.69" cy="312.65" r="1.5"/>
<circle cx="34.02" cy="329.75" r="1.5"/>
<circle cx="48.41" cy="321.93" r="1.5"/>
<circle cx="39.04" cy="317.69" r="1.5"/>
<circle cx="39.52" cy="322.41" r="1.5"/>
<circle cx="34.81" cy="324.98" r="1.5"/>
<circle cx="46.23" cy="320.82" r="1.5"/>
<circle cx="49.88" cy="300.28" r="1.5"/>
<circle cx="37.85" cy="311.16" r="1.5"/>
<circle cx="36.4" cy="324.57" r="1.5"/>
<circle cx="41.29" cy="335.06" r="1.5"/>
<circle cx="29.47" cy="338.66" r="1.5"/>
<circle cx="36.27" cy="320.23" r="1.5"/>
<circle cx="34.92" cy="334.83" r="1.5"/>
<circle cx="34.74" cy="316.75" r="1.5"/>
<circle cx="37.14" cy="328.06" r="1.5"/>
<circle cx="35.69" cy="340.39" r="1.5"/>
<circle cx="31.04" cy="305.96" r="1.5"/>
<circle cx="46.7" cy="311.76" r="1.5"/>
<circle cx="62.73" cy="305.92" r="1.5"/>
<circle cx="49.89" cy="309.71" r="1.5"/>
<circle cx="33.81" cy="312.09" r="1.5"/>
<circle cx="42.42" cy="336.96" r="1.5"/>
<circle cx="43.16" cy="316.57" r="1.5"/>
<circle cx="43.63" cy="333" r="1.5"/>
<circle cx="40.5" cy="324.96" r="1.5"/>
<circle cx="49.95" cy="306.54" r="1.5"/>
<circle cx="61.39" cy="315.19" r="1.5"/>
<circle cx="31.71" cy="334.19" r="1.5"/>
<circle cx="37.99" cy="321.34" r="1.5"/>
<circle cx="29.22" cy="332.57" r="1.5"/>
<circle cx="35.06" cy="331.55" r="1.5"/>
<circle cx="33.2" cy="328.51" r="1.5"/>
<circle cx="59.16" cy="299.01" r="1.5"/>
<circle cx="43.88" cy="308.08" r="1.5"/>
<circle cx="36.91" cy="327.72" r="1.5"/>
<circle cx="38.09" cy="324.93" r="1.5"/>
<circle cx="30.83" cy="308.47" r="1.5"/>
<circle cx="36.81" cy="320.59" r="1.5"/>
<circle cx="43.9" cy="321.04" r="1.5"/>
<circle cx="46.26" cy="316.55" r="1.5"/>
<circle cx="54.64" cy="310.03" r="1.5"/>
<circle cx="33.74" cy="345.65" r="1.5"/>
<circle cx="32.87" cy="322.35" r="1.5"/>
<circle cx="42.83" cy="332.89" r="1.5"/>
<circle cx="44.36" cy="324.23" r="1.5"/>
<circle cx="42.16" cy="337.65" r="1.5"/>
<circle cx="34.68" cy="332.87" r="1.5"/>
<circle cx="40.53" cy="309.03" r="1.5"/>
<circle cx="35.85" cy="332.77" r="1.5"/>
<circle cx="31.58" cy="325.46" r="1.5"/>
<circle cx="33.01" cy="328.87" r="1.5"/>
<circle cx="27.96" cy="333.65" r="1.5"/>
<circle cx="40.4" cy="317.05" r="1.5"/>
<circle cx="37.65" cy="320.89" r="1.5"/>
<circle cx="40.73" cy="334.08" r="1.5"/>
<circle cx="36.1" cy="324" r="1.5"/>
<circle cx="29.74" cy="330.07" r="1.5"/>
<circle cx="30.3" cy="333.32" r="1.5"/>
<circle cx="36.66" cy="324.58" r="1.5"/>
<circle cx="33.03" cy="335.07" r="1.5"/>
<circle cx="37.05" cy="302.6" r="1.5"/>
<circle cx="31.17" cy="337.87" r="1.5"/>
<circle cx="44.74" cy="322.49" r="1.5"/>
<circle cx="37.12" cy="333.36" r="1.5"/>
<circle cx="34.01" cy="340.75" r="1.5"/>
<circle cx="34.41" cy="328.92" r="1.5"/>
<circle cx="28.45" cy="324.3" r="1.5"/>
<circle cx="42.32" cy="327.88" r="1.5"/>
<circle cx="43.09" cy="329.4" r="1.5"/>
<circle cx="32.17" cy="327.02" r="1.5"/>
<circle cx="49.2" cy="308.3" r="1.5"/>
<circle cx="33.26" cy="305.27" r="1.5"/>
<circle cx="44.55" cy="319.55" r="1.5"/>
<circle cx="40.12" cy="326.62" r="1.5"/>
<circle cx="28.54" cy="331.92" r="1.5"/>
<circle cx="38.23" cy="321.37" r="1.5"/>
<circle cx="45.05" cy="311.77" r="1.5"/>
<circle cx="63.41" cy="301.98" r="1.5"/>
<circle cx="38.6" cy="331.7" r="1.5"/>
<circle cx="36.5" cy="318.97" r="1.5"/>
<circle cx="34.25" cy="329.89" r="1.5"/>
<circle cx="38.32" cy="333.8" r="1.5"/>
<circle cx="37.18" cy="333.38" r="1.5"/>
<circle cx="35.56" cy="335.84" r="1.5"/>
<circle cx="38.85" cy="313.93" r="1.5"/>
<circle cx="67.36" cy="301.26" r="1.5"/>
<circle cx="44.25" cy="318.33" r="1.5"/>
<circle cx="54.54" cy="303.77" r="1.5"/>
<circle cx="36.97" cy="323.49" r="1.5"/>
<circle cx="32.86" cy="321.69" r="1.5"/>
<circle cx="37.63" cy="329.1" r="1.5"/>
<circle cx="27.64" cy="325.91" r="1.5"/>
<circle cx="38.55" cy="314.97" r="1.5"/>
<circle cx="34.13" cy="329.18" r="1.5"/>
<circle cx="49.59" cy="306.21" r="1.5"/>
<circle cx="33.05" cy="316.71" r="1.5"/>
<circle cx="36.6" cy="328.58" r="1.5"/>
<circle cx="46.41" cy="320.58" r="1.5"/>
<circle cx="40.86" cy="327.24" r="1.5"/>
<circle cx="40.38" cy="326.77" r="1.5"/>
<circle cx="33.91" cy="327.37" r="1.5"/>
<circle cx="33.47" cy="317.78" r="1.5"/>
<circle cx="39.12" cy="313.18" r="1.5"/>
<circle cx="42.66" cy="327.07" r="1.5"/>
<circle cx="45" cy="304.17" r="1.5"/>
<circle cx="56.85" cy="314.78" r="1.5"/>
<circle cx="43.44" cy="313.96" r="1.5"/>
<circle cx="36.8" cy="319.54" r="1.5"/>
<circle cx="36.75" cy="345.14" r="1.5"/>
<circle cx="43.12" cy="312.42" r="1.5"/>
<circle cx="35.64" cy="322.89" r="1.5"/>
<circle cx="31.62" cy="344.3" r="1.5"/>
<circle cx="37.14" cy="326.34" r="1.5"/>
<circle cx="47.51" cy="308.68" r="1.5"/>
<circle cx="37.49" cy="319.72" r="1.5"/>
<circle cx="47.94" cy="317.88" r="1.5"/>
<circle cx="36.13" cy="333.79" r="1.5"/>
<circle cx="47.57" cy="312.97" r="1.5"/>
<circle cx="32.05" cy="325.51" r="1.5"/>
<circle cx="34.36" cy="323.91" r="1.5"/>
<circle cx="58.05" cy="311.78" r="1.5"/>
<circle cx="34.61" cy="326.52" r="1.5"/>
<circle cx="37.74" cy="340.13" r="1.5"/>
<circle cx="35.67" cy="322.89" r="1.5"/>
<circle cx="32.57" cy="330.79" r="1.5"/>
<circle cx="39.63" cy="337.64" r="1.5"/>
<circle cx="30.91" cy="339.32" r="1.5"/>
<circle cx="55.18" cy="305.93" r="1.5"/>
<circle cx="29.7" cy="334.21" r="1.5"/>
<circle cx="36.88" cy="309.82" r="1.5"/>
<circle cx="38.95" cy="331.76" r="1.5"/>
<circle cx="42.6" cy="313.81" r="1.5"/>
<circle cx="37.01" cy="342.43" r="1.5"/>
<circle cx="35.18" cy="329.75" r="1.5"/>
<circle cx="32.22" cy="341.94" r="1.5"/>
<circle cx="38.31" cy="314.2" r="1.5"/>
<circle cx="30.72" cy="334.13" r="1.5"/>
<circle cx="47.28" cy="321.77" r="1.5"/>
<circle cx="45.87" cy="320.64" r="1.5"/>
<circle cx="30.69" cy="336.97" r="1.5"/>
<circle cx="27.46" cy="339.18" r="1.5"/>
<circle cx="41.58" cy="311.75" r="1.5"/>
<circle cx="30.55" cy="319.35" r="1.5"/>
<circle cx="32.46" cy="329.87" r="1.5"/>
<circle cx="35.36" cy="324.97" r="1.5"/>
<circle cx="39.62" cy="313.38" r="1.5"/>
<circle cx="27.63" cy="339.87" r="1.5"/>
<circle cx="38.42" cy="331.74" r="1.5"/>
<circle cx="33.04" cy="325.14" r="1.5"/>
<circle cx="32.82" cy="307.14" r="1.5"/>
<circle cx="29.38" cy="307.02" r="1.5"/>
<circle cx="44.73" cy="320.35" r="1.5"/>
<circle cx="33.62" cy="332.94" r="1.5"/>
<circle cx="44.3" cy="322.53" r="1.5"/>
<circle cx="30.34" cy="339.16" r="1.5"/>
<circle cx="35.99" cy="322.69" r="1.5"/>
<circle cx="41.81" cy="320.66" r="1.5"/>
<circle cx="36.38" cy="318.92" r="1.5"/>
<circle cx="30.83" cy="329.86" r="1.5"/>
<circle cx="32.45" cy="335.16" r="1.5"/>
<circle cx="38.66" cy="313.99" r="1.5"/>
<circle cx="32.27" cy="335.83" r="1.5"/>
<circle cx="47.95" cy="325.92" r="1.5"/>
<circle cx="32.37" cy="325.94" r="1.5"/>
<circle cx="37.38" cy="303.47" r="1.5"/>
<circle cx="51.01" cy="311.09" r="1.5"/>
<circle cx="42.95" cy="328.66" r="1.5"/>
<circle cx="37.76" cy="325" r="1.5"/>
<circle cx="38.12" cy="331.5" r="1.5"/>
<circle cx="36.42" cy="321.73" r="1.5"/>
<circle cx="47.8" cy="322.27" r="1.5"/>
<circle cx="42.13" cy="329.1" r="1.5"/>
<circle cx="34.67" cy="322.47" r="1.5"/>
<circle cx="33.31" cy="344.89" r="1.5"/>
<circle cx="34.9" cy="330.21" r="1.5"/>
<circle cx="32.13" cy="329.16" r="1.5"/>
<circle cx="36.71" cy="326.63" r="1.5"/>
<circle cx="31.9" cy="327.17" r="1.5"/>
<circle cx="43.19" cy="323.95" r="1.5"/>
<circle cx="46.33" cy="308.83" r="1.5"/>
<circle cx="52.28" cy="313.7" r="1.5"/>
<circle cx="45.19" cy="316.74" r="1.5"/>
<circle cx="33.68" cy="343.79" r="1.5"/>
<circle cx="31.72" cy="321.09" r="1.5"/>
<circle cx="47.11" cy="318.19" r="1.5"/>
<circle cx="32.02" cy="331.53" r="1.5"/>
<circle cx="42.83" cy="321.94" r="1.5"/>
<circle cx="37.09" cy="332.54" r="1.5"/>
<circle cx="29.4" cy="318.7" r="1.5"/>
<circle cx="39.23" cy="317.74" r="1.5"/>
<circle cx="50.52" cy="318.71" r="1.5"/>
<circle cx="34.9" cy="321.07" r="1.5"/>
<circle cx="49.5" cy="306.32" r="1.5"/>
<circle cx="51.9" cy="323.32" r="1.5"/>
<circle cx="36.35" cy="329.02" r="1.5"/>
<circle cx="46.18" cy="324.56" r="1.5"/>
<circle cx="53.05" cy="310.41" r="1.5"/>
<circle cx="46.36" cy="314.82" r="1.5"/>
<circle cx="27.11" cy="337.75" r="1.5"/>
<circle cx="31.28" cy="318.53" r="1.5"/>
<circle cx="33.96" cy="309.1" r="1.5"/>
<circle cx="34.16" cy="325.27" r="1.5"/>
<circle cx="41.04" cy="315.27" r="1.5"/>
<circle cx="33.94" cy="325.99" r="1.5"/>
<circle cx="44.59" cy="316.28" r="1.5"/>
<circle cx="36.63" cy="331.64" r="1.5"/>
<circle cx="64.89" cy="297.35" r="1.5"/>
<circle cx="67.8" cy="304.53" r="1.5"/>
<circle cx="65.4" cy="303.67" r="1.5"/>
<circle cx="61.04" cy="300.24" r="1.5"/>
<circle cx="50.59" cy="313.76" r="1.5"/>
<circle cx="65.02" cy="303.59" r="1.5"/>
<circle cx="62.87" cy="308.9" r="1.5"/>
<circle cx="63.3" cy="302.64" r="1.5"/>
<circle cx="62.17" cy="296.7" r="1.5"/>
<circle cx="65.18" cy="305.52" r="1.5"/>
<circle cx="53.1" cy="306.49" r="1.5"/>
<circle cx="61.61" cy="307.65" r="1.5"/>
<circle cx="58.09" cy="310.2" r="1.5"/>
<circle cx="54.01" cy="312.29" r="1.5"/>
<circle cx="53.76" cy="301.01" r="1.5"/>
<circle cx="49.87" cy="298.81" r="1.5"/>
<circle cx="57.5" cy="303.54" r="1.5"/>
<circle cx="54.71" cy="309.79" r="1.5"/>
<circle cx="55.91" cy="303.27" r="1.5"/>
<circle cx="65.67" cy="303.55" r="1.5"/>
<circle cx="61.81" cy="300.37" r="1.5"/>
<circle cx="61.78" cy="302.54" r="1.5"/>
<circle cx="68.68" cy="299.68" r="1.5"/>
<circle cx="51.29" cy="305.64" r="1.5"/>
<circle cx="57.87" cy="307.88" r="1.5"/>
<circle cx="48.44" cy="311.12" r="1.5"/>
<circle cx="55.26" cy="313.81" r="1.5"/>
<circle cx="67.91" cy="303.05" r="1.5"/>
<circle cx="48.29" cy="315.49" r="1.5"/>
<circle cx="63.54" cy="303.64" r="1.5"/>
<circle cx="65.99" cy="306.05" r="1.5"/>
<circle cx="57.9" cy="304.99" r="1.5"/>
<circle cx="64.45" cy="300.73" r="1.5"/>
<circle cx="56.35" cy="312.08" r="1.5"/>
<circle cx="54.36" cy="310.35" r="1.5"/>
<circle cx="57.82" cy="309.44" r="1.5"/>
<circle cx="81.06" cy="289.57" r="1.5"/>
<circle cx="110.42" cy="322" r="1.5"/>
<circle cx="70.38" cy="323.41" r="1.5"/>
<circle cx="75.72" cy="331.17" r="1.5"/>
<circle cx="60.36" cy="324.82" r="1.5"/>
<circle cx="58.36" cy="336.81" r="1.5"/>
<circle cx="63.7" cy="336.81" r="1.5"/>
<circle cx="57.02" cy="340.33" r="1.5"/>
<circle cx="43.67" cy="345.97" r="1.5"/>
</g>
<rect x="24" y="286.5" width="90.6" height="72.3" fill="none" stroke="#222" stroke-width="1"/>
<line x1="22.5" y1="293.8" x2="24" y2="293.8" stroke="#222" stroke-width="1"/>
<text x="20.5" y="296.9" font-size="8.6" text-anchor="end">2</text>
<line x1="22.5" y1="307.9" x2="24" y2="307.9" stroke="#222" stroke-width="1"/>
<text x="20.5" y="311" font-size="8.6" text-anchor="end">1</text>
<line x1="22.5" y1="322" x2="24" y2="322" stroke="#222" stroke-width="1"/>
<text x="20.5" y="325.1" font-size="8.6" text-anchor="end">0</text>
<line x1="22.5" y1="336.1" x2="24" y2="336.1" stroke="#222" stroke-width="1"/>
<text x="20.5" y="339.2" font-size="8.6" text-anchor="end">−1</text>
<line x1="22.5" y1="350.2" x2="24" y2="350.2" stroke="#222" stroke-width="1"/>
<text x="20.5" y="353.3" font-size="8.6" text-anchor="end">−2</text>
<line x1="37" y1="358.8" x2="37" y2="360.3" stroke="#222" stroke-width="1"/>
<text x="37" y="368.9" font-size="8.6" text-anchor="middle">0</text>
<line x1="50.35" y1="358.8" x2="50.35" y2="360.3" stroke="#222" stroke-width="1"/>
<text x="50.35" y="368.9" font-size="8.6" text-anchor="middle">1</text>
<line x1="63.7" y1="358.8" x2="63.7" y2="360.3" stroke="#222" stroke-width="1"/>
<text x="63.7" y="368.9" font-size="8.6" text-anchor="middle">2</text>
<line x1="77.05" y1="358.8" x2="77.05" y2="360.3" stroke="#222" stroke-width="1"/>
<text x="77.05" y="368.9" font-size="8.6" text-anchor="middle">3</text>
<line x1="90.4" y1="358.8" x2="90.4" y2="360.3" stroke="#222" stroke-width="1"/>
<text x="90.4" y="368.9" font-size="8.6" text-anchor="middle">4</text>
<line x1="103.75" y1="358.8" x2="103.75" y2="360.3" stroke="#222" stroke-width="1"/>
<text x="103.75" y="368.9" font-size="8.6" text-anchor="middle">5</text>
<text x="27.3" y="296.2" font-size="8.9">SKCM</text>
<text x="111.7" y="355.2" font-size="8.7" text-anchor="end">ρ = 0.55, <tspan font-style="italic">P</tspan> = 2e−38</text>
<clipPath id="c2"><rect x="24" y="380.1" width="90.6" height="71.6"/></clipPath>
<g fill="#2c2cd8" fill-opacity="0.45" clip-path="url(#c2)">
<circle cx="60.98" cy="411.67" r="1.5"/>
<circle cx="70.28" cy="417.51" r="1.5"/>
<circle cx="62" cy="414.66" r="1.5"/>
<circle cx="50.35" cy="408.8" r="1.5"/>
<circle cx="67.94" cy="406.34" r="1.5"/>
<circle cx="39.06" cy="416.38" r="1.5"/>
<circle cx="68.28" cy="414.83" r="1.5"/>
<circle cx="47.38" cy="413.9" r="1.5"/>
<circle cx="30.51" cy="427.88" r="1.5"/>
<circle cx="78.99" cy="417.13" r="1.5"/>
<circle cx="69.04" cy="405.12" r="1.5"/>
<circle cx="43.73" cy="417.81" r="1.5"/>
<circle cx="55.38" cy="410.23" r="1.5"/>
<circle cx="51.66" cy="405.36" r="1.5"/>
<circle cx="54.73" cy="408.55" r="1.5"/>
<circle cx="39.36" cy="415.29" r="1.5"/>
<circle cx="47.13" cy="400.2" r="1.5"/>
<circle cx="58.28" cy="407.82" r="1.5"/>
<circle cx="55.9" cy="414.91" r="1.5"/>
<circle cx="65.37" cy="406.19" r="1.5"/>
<circle cx="54.51" cy="410.17" r="1.5"/>
<circle cx="76.52" cy="414.64" r="1.5"/>
<circle cx="46.8" cy="413.68" r="1.5"/>
<circle cx="56.25" cy="413.61" r="1.5"/>
<circle cx="35.16" cy="428.99" r="1.5"/>
<circle cx="41.59" cy="416.17" r="1.5"/>
<circle cx="66.62" cy="412.6" r="1.5"/>
<circle cx="44.6" cy="417.39" r="1.5"/>
<circle cx="58.89" cy="422.82" r="1.5"/>
<circle cx="53.14" cy="415.38" r="1.5"/>
<circle cx="43.61" cy="414.96" r="1.5"/>
<circle cx="50.36" cy="412.88" r="1.5"/>
<circle cx="48.75" cy="421.23" r="1.5"/>
<circle cx="49.01" cy="409.64" r="1.5"/>
<circle cx="61.05" cy="419.65" r="1.5"/>
<circle cx="60.07" cy="413.34" r="1.5"/>
<circle cx="48.14" cy="405.4" r="1.5"/>
<circle cx="44.94" cy="418.99" r="1.5"/>
<circle cx="56.48" cy="415.83" r="1.5"/>
<circle cx="52.77" cy="406.12" r="1.5"/>
<circle cx="63.71" cy="413.76" r="1.5"/>
<circle cx="78.99" cy="410.57" r="1.5"/>
<circle cx="61.91" cy="410.12" r="1.5"/>
<circle cx="53.4" cy="406.17" r="1.5"/>
<circle cx="52.07" cy="427.63" r="1.5"/>
<circle cx="45.43" cy="419.79" r="1.5"/>
<circle cx="44.95" cy="421.04" r="1.5"/>
<circle cx="44.01" cy="421.71" r="1.5"/>
<circle cx="49.91" cy="419.2" r="1.5"/>
<circle cx="49.6" cy="419.15" r="1.5"/>
<circle cx="60.95" cy="409.76" r="1.5"/>
<circle cx="49.87" cy="419.42" r="1.5"/>
<circle cx="51.83" cy="412.49" r="1.5"/>
<circle cx="41.93" cy="412.37" r="1.5"/>
<circle cx="69.69" cy="414.98" r="1.5"/>
<circle cx="58.66" cy="411.27" r="1.5"/>
<circle cx="71.08" cy="399.33" r="1.5"/>
<circle cx="61.47" cy="409.54" r="1.5"/>
<circle cx="68.18" cy="414.63" r="1.5"/>
<circle cx="51.33" cy="413.8" r="1.5"/>
<circle cx="60.69" cy="417.73" r="1.5"/>
<circle cx="78.99" cy="406.87" r="1.5"/>
<circle cx="41.88" cy="409.39" r="1.5"/>
<circle cx="65.15" cy="416.33" r="1.5"/>
<circle cx="70.2" cy="411.5" r="1.5"/>
<circle cx="57.82" cy="405.04" r="1.5"/>
<circle cx="61.16" cy="414.92" r="1.5"/>
<circle cx="66.15" cy="409.61" r="1.5"/>
<circle cx="47.24" cy="420.72" r="1.5"/>
<circle cx="57.79" cy="417.58" r="1.5"/>
<circle cx="45.13" cy="417.76" r="1.5"/>
<circle cx="47.04" cy="400.29" r="1.5"/>
<circle cx="47.62" cy="416.61" r="1.5"/>
<circle cx="52.32" cy="416.57" r="1.5"/>
<circle cx="55.19" cy="416.29" r="1.5"/>
<circle cx="58.23" cy="413.24" r="1.5"/>
<circle cx="39.67" cy="411.21" r="1.5"/>
<circle cx="73.39" cy="408.39" r="1.5"/>
<circle cx="65.22" cy="397.92" r="1.5"/>
<circle cx="60.95" cy="410.37" r="1.5"/>
<circle cx="50.19" cy="404.38" r="1.5"/>
<circle cx="52.85" cy="411.36" r="1.5"/>
<circle cx="59.18" cy="408.18" r="1.5"/>
<circle cx="57.83" cy="421.43" r="1.5"/>
<circle cx="37.05" cy="416.63" r="1.5"/>
<circle cx="61.1" cy="412.14" r="1.5"/>
<circle cx="78.99" cy="410.17" r="1.5"/>
<circle cx="35.38" cy="429.79" r="1.5"/>
<circle cx="63.63" cy="405.67" r="1.5"/>
<circle cx="57.41" cy="414.79" r="1.5"/>
<circle cx="52.63" cy="415.94" r="1.5"/>
<circle cx="67.38" cy="412.24" r="1.5"/>
<circle cx="41.97" cy="416.43" r="1.5"/>
<circle cx="55.36" cy="410.1" r="1.5"/>
<circle cx="68.3" cy="418.54" r="1.5"/>
<circle cx="51.78" cy="419.21" r="1.5"/>
<circle cx="49.58" cy="411.83" r="1.5"/>
<circle cx="54.88" cy="411.84" r="1.5"/>
<circle cx="49.31" cy="416.11" r="1.5"/>
<circle cx="69.15" cy="413.96" r="1.5"/>
<circle cx="44.7" cy="419.81" r="1.5"/>
<circle cx="62.44" cy="411.84" r="1.5"/>
<circle cx="41.26" cy="407.6" r="1.5"/>
<circle cx="60.41" cy="418.54" r="1.5"/>
<circle cx="52.69" cy="403.46" r="1.5"/>
<circle cx="30.51" cy="411.59" r="1.5"/>
<circle cx="53.68" cy="415.85" r="1.5"/>
<circle cx="43.11" cy="409.81" r="1.5"/>
<circle cx="49.31" cy="423.03" r="1.5"/>
<circle cx="69.07" cy="421.33" r="1.5"/>
<circle cx="42.6" cy="423.07" r="1.5"/>
<circle cx="43.17" cy="417.38" r="1.5"/>
<circle cx="68.1" cy="412.57" r="1.5"/>
<circle cx="54.9" cy="416.04" r="1.5"/>
<circle cx="69.11" cy="409.69" r="1.5"/>
<circle cx="56.96" cy="425.97" r="1.5"/>
<circle cx="44.95" cy="411.32" r="1.5"/>
<circle cx="53.08" cy="422.09" r="1.5"/>
<circle cx="66" cy="415.06" r="1.5"/>
<circle cx="63.12" cy="413.98" r="1.5"/>
<circle cx="53.75" cy="420.31" r="1.5"/>
<circle cx="54.23" cy="421.59" r="1.5"/>
<circle cx="52.62" cy="419.55" r="1.5"/>
<circle cx="47.97" cy="414.03" r="1.5"/>
<circle cx="73" cy="405.91" r="1.5"/>
<circle cx="111.53" cy="406.24" r="1.5"/>
<circle cx="108.15" cy="400.32" r="1.5"/>
<circle cx="96.2" cy="417.43" r="1.5"/>
<circle cx="96.81" cy="396.3" r="1.5"/>
<circle cx="95.8" cy="405.54" r="1.5"/>
<circle cx="90.8" cy="394.91" r="1.5"/>
<circle cx="110.96" cy="413.72" r="1.5"/>
<circle cx="85.98" cy="396.15" r="1.5"/>
<circle cx="89.84" cy="402.59" r="1.5"/>
<circle cx="102.76" cy="395.35" r="1.5"/>
<circle cx="100.71" cy="407.37" r="1.5"/>
<circle cx="91.92" cy="405.24" r="1.5"/>
<circle cx="110.54" cy="385.41" r="1.5"/>
<circle cx="95.62" cy="406.7" r="1.5"/>
<circle cx="100.9" cy="405.84" r="1.5"/>
<circle cx="86.61" cy="402.87" r="1.5"/>
<circle cx="109.23" cy="408.04" r="1.5"/>
<circle cx="86.95" cy="392.7" r="1.5"/>
<circle cx="95.18" cy="389" r="1.5"/>
<circle cx="109.08" cy="405.83" r="1.5"/>
<circle cx="110.76" cy="412.91" r="1.5"/>
<circle cx="109.6" cy="392.83" r="1.5"/>
<circle cx="107.44" cy="393.27" r="1.5"/>
<circle cx="90.64" cy="395.26" r="1.5"/>
<circle cx="84.94" cy="392.94" r="1.5"/>
<circle cx="96.82" cy="406.96" r="1.5"/>
<circle cx="85.83" cy="402.12" r="1.5"/>
<circle cx="111.2" cy="410.54" r="1.5"/>
<circle cx="84.27" cy="410.78" r="1.5"/>
<circle cx="93.24" cy="394.15" r="1.5"/>
<circle cx="42.63" cy="441.38" r="1.5"/>
<circle cx="34.35" cy="447.96" r="1.5"/>
<circle cx="70.91" cy="427.51" r="1.5"/>
<circle cx="86.06" cy="421.16" r="1.5"/>
<circle cx="107.27" cy="414.81" r="1.5"/>
</g>
<rect x="24" y="380.1" width="90.6" height="71.6" fill="none" stroke="#222" stroke-width="1"/>
<line x1="22.5" y1="389.4" x2="24" y2="389.4" stroke="#222" stroke-width="1"/>
<text x="20.5" y="392.5" font-size="8.6" text-anchor="end">2</text>
<line x1="22.5" y1="400.95" x2="24" y2="400.95" stroke="#222" stroke-width="1"/>
<text x="20.5" y="404.05" font-size="8.6" text-anchor="end">1</text>
<line x1="22.5" y1="412.5" x2="24" y2="412.5" stroke="#222" stroke-width="1"/>
<text x="20.5" y="415.6" font-size="8.6" text-anchor="end">0</text>
<line x1="22.5" y1="424.05" x2="24" y2="424.05" stroke="#222" stroke-width="1"/>
<text x="20.5" y="427.15" font-size="8.6" text-anchor="end">−1</text>
<line x1="22.5" y1="435.6" x2="24" y2="435.6" stroke="#222" stroke-width="1"/>
<text x="20.5" y="438.7" font-size="8.6" text-anchor="end">−2</text>
<line x1="22.5" y1="447.15" x2="24" y2="447.15" stroke="#222" stroke-width="1"/>
<text x="20.5" y="450.25" font-size="8.6" text-anchor="end">−3</text>
<line x1="39.6" y1="451.7" x2="39.6" y2="453.2" stroke="#222" stroke-width="1"/>
<text x="39.6" y="462" font-size="8.6" text-anchor="middle">−1</text>
<line x1="59.8" y1="451.7" x2="59.8" y2="453.2" stroke="#222" stroke-width="1"/>
<text x="59.8" y="462" font-size="8.6" text-anchor="middle">0</text>
<line x1="80" y1="451.7" x2="80" y2="453.2" stroke="#222" stroke-width="1"/>
<text x="80" y="462" font-size="8.6" text-anchor="middle">1</text>
<line x1="100.2" y1="451.7" x2="100.2" y2="453.2" stroke="#222" stroke-width="1"/>
<text x="100.2" y="462" font-size="8.6" text-anchor="middle">2</text>
<text x="27.3" y="390.4" font-size="8.9">PAAD</text>
<text x="111.7" y="449.4" font-size="8.7" text-anchor="end">ρ = 0.54, <tspan font-style="italic">P</tspan> = 2e−14</text>
<clipPath id="c3"><rect x="24" y="469.4" width="91.3" height="71.7"/></clipPath>
<g fill="#2c2cd8" fill-opacity="0.45" clip-path="url(#c3)">
<circle cx="40.43" cy="524.92" r="1.5"/>
<circle cx="70.18" cy="511.5" r="1.5"/>
<circle cx="47.95" cy="503.17" r="1.5"/>
<circle cx="40.74" cy="527.16" r="1.5"/>
<circle cx="55.24" cy="508.35" r="1.5"/>
<circle cx="65.36" cy="498.06" r="1.5"/>
<circle cx="52.1" cy="512.14" r="1.5"/>
<circle cx="34.93" cy="510.52" r="1.5"/>
<circle cx="50.94" cy="519.66" r="1.5"/>
<circle cx="61.07" cy="493.38" r="1.5"/>
<circle cx="42.23" cy="500.25" r="1.5"/>
<circle cx="39.4" cy="509.42" r="1.5"/>
<circle cx="57.45" cy="524.22" r="1.5"/>
<circle cx="48.61" cy="519.56" r="1.5"/>
<circle cx="36.09" cy="503.03" r="1.5"/>
<circle cx="43.37" cy="493.98" r="1.5"/>
<circle cx="39.58" cy="508.78" r="1.5"/>
<circle cx="50.19" cy="496.78" r="1.5"/>
<circle cx="48.31" cy="515.36" r="1.5"/>
<circle cx="58.8" cy="508.59" r="1.5"/>
<circle cx="54.35" cy="507.87" r="1.5"/>
<circle cx="31.44" cy="509.63" r="1.5"/>
<circle cx="51.3" cy="523.58" r="1.5"/>
<circle cx="56.24" cy="498.22" r="1.5"/>
<circle cx="51.8" cy="495.63" r="1.5"/>
<circle cx="57.58" cy="518.27" r="1.5"/>
<circle cx="41.66" cy="524.36" r="1.5"/>
<circle cx="37.62" cy="508.75" r="1.5"/>
<circle cx="56.58" cy="513.7" r="1.5"/>
<circle cx="36.46" cy="535.6" r="1.5"/>
<circle cx="30.4" cy="506.13" r="1.5"/>
<circle cx="57.54" cy="505.55" r="1.5"/>
<circle cx="39.9" cy="516.24" r="1.5"/>
<circle cx="44.11" cy="489.89" r="1.5"/>
<circle cx="33.11" cy="511.97" r="1.5"/>
<circle cx="33.84" cy="520.49" r="1.5"/>
<circle cx="35.54" cy="511.72" r="1.5"/>
<circle cx="43.56" cy="520.8" r="1.5"/>
<circle cx="50.93" cy="516.19" r="1.5"/>
<circle cx="30.4" cy="510.25" r="1.5"/>
<circle cx="54.78" cy="513.18" r="1.5"/>
<circle cx="35.29" cy="517.17" r="1.5"/>
<circle cx="36.45" cy="496.19" r="1.5"/>
<circle cx="54.03" cy="499.58" r="1.5"/>
<circle cx="46.45" cy="502.08" r="1.5"/>
<circle cx="31.71" cy="508.53" r="1.5"/>
<circle cx="65.79" cy="500.23" r="1.5"/>
<circle cx="38.52" cy="497.73" r="1.5"/>
<circle cx="49.69" cy="509.27" r="1.5"/>
<circle cx="49.21" cy="491.1" r="1.5"/>
<circle cx="61.43" cy="515.36" r="1.5"/>
<circle cx="42.61" cy="513.38" r="1.5"/>
<circle cx="57.36" cy="520.57" r="1.5"/>
<circle cx="39.72" cy="514.99" r="1.5"/>
<circle cx="58.51" cy="501.76" r="1.5"/>
<circle cx="39.51" cy="497.53" r="1.5"/>
<circle cx="43.55" cy="517.13" r="1.5"/>
<circle cx="66.31" cy="504.77" r="1.5"/>
<circle cx="50.4" cy="512.4" r="1.5"/>
<circle cx="48.31" cy="516.64" r="1.5"/>
<circle cx="69.8" cy="515.53" r="1.5"/>
<circle cx="50.84" cy="508.19" r="1.5"/>
<circle cx="38.97" cy="528.73" r="1.5"/>
<circle cx="54.61" cy="506.74" r="1.5"/>
<circle cx="35.29" cy="512.57" r="1.5"/>
<circle cx="58.57" cy="513.22" r="1.5"/>
<circle cx="59.36" cy="516.47" r="1.5"/>
<circle cx="41.42" cy="524.71" r="1.5"/>
<circle cx="40.87" cy="493.08" r="1.5"/>
<circle cx="48.98" cy="522.36" r="1.5"/>
<circle cx="47.34" cy="494.48" r="1.5"/>
<circle cx="37.34" cy="506.39" r="1.5"/>
<circle cx="52.93" cy="511.8" r="1.5"/>
<circle cx="30.4" cy="525.31" r="1.5"/>
<circle cx="42.84" cy="500.66" r="1.5"/>
<circle cx="43.13" cy="493.88" r="1.5"/>
<circle cx="44.45" cy="519.54" r="1.5"/>
<circle cx="50.3" cy="511.84" r="1.5"/>
<circle cx="34.82" cy="502.63" r="1.5"/>
<circle cx="53.13" cy="504.92" r="1.5"/>
<circle cx="45.38" cy="490.67" r="1.5"/>
<circle cx="40.65" cy="516.96" r="1.5"/>
<circle cx="33.42" cy="507.96" r="1.5"/>
<circle cx="35.27" cy="524.98" r="1.5"/>
<circle cx="50.83" cy="488.34" r="1.5"/>
<circle cx="37.48" cy="519.33" r="1.5"/>
<circle cx="47.85" cy="531.1" r="1.5"/>
<circle cx="57.9" cy="508.2" r="1.5"/>
<circle cx="57.61" cy="508.41" r="1.5"/>
<circle cx="62.93" cy="486.99" r="1.5"/>
<circle cx="44.21" cy="513.79" r="1.5"/>
<circle cx="36.26" cy="512.64" r="1.5"/>
<circle cx="57.49" cy="501.29" r="1.5"/>
<circle cx="50.32" cy="493.44" r="1.5"/>
<circle cx="58.53" cy="507.43" r="1.5"/>
<circle cx="47.31" cy="499.55" r="1.5"/>
<circle cx="59.25" cy="501.57" r="1.5"/>
<circle cx="55.73" cy="510.42" r="1.5"/>
<circle cx="54.42" cy="507.11" r="1.5"/>
<circle cx="52.28" cy="508.14" r="1.5"/>
<circle cx="51.21" cy="517.63" r="1.5"/>
<circle cx="49.55" cy="497.27" r="1.5"/>
<circle cx="49.48" cy="522.65" r="1.5"/>
<circle cx="57.18" cy="495.73" r="1.5"/>
<circle cx="42.04" cy="501.73" r="1.5"/>
<circle cx="64.7" cy="506.14" r="1.5"/>
<circle cx="46.13" cy="517.46" r="1.5"/>
<circle cx="57.13" cy="509.38" r="1.5"/>
<circle cx="46.29" cy="505.34" r="1.5"/>
<circle cx="44.71" cy="503.1" r="1.5"/>
<circle cx="67.68" cy="501.67" r="1.5"/>
<circle cx="44.08" cy="500.84" r="1.5"/>
<circle cx="34.33" cy="518.46" r="1.5"/>
<circle cx="40" cy="509.27" r="1.5"/>
<circle cx="44" cy="525.84" r="1.5"/>
<circle cx="68.92" cy="496.7" r="1.5"/>
<circle cx="49.28" cy="507.69" r="1.5"/>
<circle cx="56.62" cy="511.36" r="1.5"/>
<circle cx="37.1" cy="500.97" r="1.5"/>
<circle cx="50.75" cy="502.06" r="1.5"/>
<circle cx="53.97" cy="535.47" r="1.5"/>
<circle cx="65.36" cy="504.67" r="1.5"/>
<circle cx="40.18" cy="525.71" r="1.5"/>
<circle cx="53.28" cy="497.75" r="1.5"/>
<circle cx="50.25" cy="484.65" r="1.5"/>
<circle cx="36.9" cy="517.42" r="1.5"/>
<circle cx="47" cy="509.04" r="1.5"/>
<circle cx="44.54" cy="512.85" r="1.5"/>
<circle cx="30.4" cy="510.6" r="1.5"/>
<circle cx="53.23" cy="501.88" r="1.5"/>
<circle cx="52.65" cy="495.76" r="1.5"/>
<circle cx="42.78" cy="520.49" r="1.5"/>
<circle cx="33.71" cy="497.84" r="1.5"/>
<circle cx="62.12" cy="514.98" r="1.5"/>
<circle cx="49.88" cy="506.33" r="1.5"/>
<circle cx="57.45" cy="495.79" r="1.5"/>
<circle cx="61.42" cy="499.12" r="1.5"/>
<circle cx="41.95" cy="520.22" r="1.5"/>
<circle cx="55.39" cy="514.47" r="1.5"/>
<circle cx="44.77" cy="514.85" r="1.5"/>
<circle cx="46.57" cy="510.38" r="1.5"/>
<circle cx="46.34" cy="498.75" r="1.5"/>
<circle cx="47.19" cy="522.33" r="1.5"/>
<circle cx="58.43" cy="502.29" r="1.5"/>
<circle cx="48.45" cy="503.45" r="1.5"/>
<circle cx="45.65" cy="504.67" r="1.5"/>
<circle cx="44.41" cy="505.88" r="1.5"/>
<circle cx="50.64" cy="494.02" r="1.5"/>
<circle cx="38.18" cy="507.27" r="1.5"/>
<circle cx="42.13" cy="502.65" r="1.5"/>
<circle cx="46.67" cy="504.35" r="1.5"/>
<circle cx="41.5" cy="493.68" r="1.5"/>
<circle cx="46.01" cy="528.56" r="1.5"/>
<circle cx="41.04" cy="498.78" r="1.5"/>
<circle cx="67.4" cy="507.09" r="1.5"/>
<circle cx="60.6" cy="509.02" r="1.5"/>
<circle cx="51.74" cy="518.02" r="1.5"/>
<circle cx="46.66" cy="528.09" r="1.5"/>
<circle cx="69.28" cy="507.79" r="1.5"/>
<circle cx="50.46" cy="515.59" r="1.5"/>
<circle cx="46.32" cy="505.12" r="1.5"/>
<circle cx="50.26" cy="523.3" r="1.5"/>
<circle cx="50.28" cy="494.96" r="1.5"/>
<circle cx="61.42" cy="503.42" r="1.5"/>
<circle cx="47.01" cy="512.19" r="1.5"/>
<circle cx="68.36" cy="511.22" r="1.5"/>
<circle cx="38.31" cy="519.68" r="1.5"/>
<circle cx="54.2" cy="518.95" r="1.5"/>
<circle cx="37.1" cy="517.62" r="1.5"/>
<circle cx="65.52" cy="504.96" r="1.5"/>
<circle cx="43.87" cy="512.3" r="1.5"/>
<circle cx="46.61" cy="523.67" r="1.5"/>
<circle cx="56.52" cy="509.92" r="1.5"/>
<circle cx="59.85" cy="515.19" r="1.5"/>
<circle cx="35.99" cy="511.03" r="1.5"/>
<circle cx="43.71" cy="492.42" r="1.5"/>
<circle cx="33.14" cy="507.22" r="1.5"/>
<circle cx="48.58" cy="512.42" r="1.5"/>
<circle cx="46.18" cy="525.83" r="1.5"/>
<circle cx="43.68" cy="524.42" r="1.5"/>
<circle cx="40.3" cy="527.94" r="1.5"/>
<circle cx="43.31" cy="503.63" r="1.5"/>
<circle cx="39.68" cy="519.11" r="1.5"/>
<circle cx="52.53" cy="507.74" r="1.5"/>
<circle cx="62.48" cy="511.87" r="1.5"/>
<circle cx="30.4" cy="513.13" r="1.5"/>
<circle cx="46.03" cy="496.34" r="1.5"/>
<circle cx="42.98" cy="517.48" r="1.5"/>
<circle cx="52.16" cy="511.77" r="1.5"/>
<circle cx="37.61" cy="520.04" r="1.5"/>
<circle cx="45.72" cy="501.56" r="1.5"/>
<circle cx="36.72" cy="522.41" r="1.5"/>
<circle cx="54.22" cy="518.97" r="1.5"/>
<circle cx="48.2" cy="523" r="1.5"/>
<circle cx="45.57" cy="523.88" r="1.5"/>
<circle cx="50.93" cy="504.17" r="1.5"/>
<circle cx="44.72" cy="485.28" r="1.5"/>
<circle cx="31.54" cy="523.44" r="1.5"/>
<circle cx="53.2" cy="498.89" r="1.5"/>
<circle cx="50.11" cy="506.52" r="1.5"/>
<circle cx="45.65" cy="520.87" r="1.5"/>
<circle cx="57.13" cy="509.87" r="1.5"/>
<circle cx="59.48" cy="508.84" r="1.5"/>
<circle cx="36.19" cy="519.28" r="1.5"/>
<circle cx="39.33" cy="492.9" r="1.5"/>
<circle cx="62.8" cy="524.32" r="1.5"/>
<circle cx="61.5" cy="502.33" r="1.5"/>
<circle cx="39.76" cy="508.39" r="1.5"/>
<circle cx="35.3" cy="518.42" r="1.5"/>
<circle cx="40.77" cy="509.91" r="1.5"/>
<circle cx="42.18" cy="502.44" r="1.5"/>
<circle cx="31.23" cy="512.32" r="1.5"/>
<circle cx="47.51" cy="505.56" r="1.5"/>
<circle cx="34.3" cy="506.26" r="1.5"/>
<circle cx="35" cy="532.67" r="1.5"/>
<circle cx="56.43" cy="492.93" r="1.5"/>
<circle cx="40.31" cy="489.25" r="1.5"/>
<circle cx="46.48" cy="500.33" r="1.5"/>
<circle cx="53.54" cy="498.2" r="1.5"/>
<circle cx="55.4" cy="521.36" r="1.5"/>
<circle cx="43.8" cy="511.74" r="1.5"/>
<circle cx="47.64" cy="517.53" r="1.5"/>
<circle cx="38.88" cy="517.58" r="1.5"/>
<circle cx="64.81" cy="495.77" r="1.5"/>
<circle cx="53.75" cy="515.88" r="1.5"/>
<circle cx="36.08" cy="513.84" r="1.5"/>
<circle cx="47.24" cy="528.33" r="1.5"/>
<circle cx="54.39" cy="509.42" r="1.5"/>
<circle cx="52.03" cy="507.6" r="1.5"/>
<circle cx="65.64" cy="511.87" r="1.5"/>
<circle cx="61.03" cy="513.2" r="1.5"/>
<circle cx="41.76" cy="492.7" r="1.5"/>
<circle cx="46.3" cy="521.75" r="1.5"/>
<circle cx="34.28" cy="523.28" r="1.5"/>
<circle cx="49.71" cy="516.97" r="1.5"/>
<circle cx="48.72" cy="497.63" r="1.5"/>
<circle cx="74.08" cy="482.32" r="1.5"/>
<circle cx="48.18" cy="506.22" r="1.5"/>
<circle cx="30.4" cy="521.02" r="1.5"/>
<circle cx="40.43" cy="515.63" r="1.5"/>
<circle cx="48.33" cy="499.04" r="1.5"/>
<circle cx="34.54" cy="521.85" r="1.5"/>
<circle cx="38.46" cy="497.78" r="1.5"/>
<circle cx="43.51" cy="496.84" r="1.5"/>
<circle cx="50.65" cy="508.15" r="1.5"/>
<circle cx="45.53" cy="503.84" r="1.5"/>
<circle cx="38.24" cy="504.7" r="1.5"/>
<circle cx="55.14" cy="492.52" r="1.5"/>
<circle cx="41.76" cy="521.37" r="1.5"/>
<circle cx="42.17" cy="499.48" r="1.5"/>
<circle cx="71.77" cy="504.99" r="1.5"/>
<circle cx="73.77" cy="509.97" r="1.5"/>
<circle cx="76.98" cy="507.3" r="1.5"/>
<circle cx="68.05" cy="495.73" r="1.5"/>
<circle cx="70.74" cy="496.77" r="1.5"/>
<circle cx="68.93" cy="490.34" r="1.5"/>
<circle cx="78.54" cy="520.27" r="1.5"/>
<circle cx="70.71" cy="507.21" r="1.5"/>
<circle cx="74.89" cy="507.42" r="1.5"/>
<circle cx="72.33" cy="501.53" r="1.5"/>
<circle cx="70.93" cy="507.8" r="1.5"/>
<circle cx="81.5" cy="508.41" r="1.5"/>
<circle cx="75.03" cy="495.4" r="1.5"/>
<circle cx="77.2" cy="501.47" r="1.5"/>
<circle cx="78.01" cy="514.98" r="1.5"/>
<circle cx="79.78" cy="489.85" r="1.5"/>
<circle cx="71.34" cy="493.25" r="1.5"/>
<circle cx="68.55" cy="509.03" r="1.5"/>
<circle cx="74.42" cy="494.91" r="1.5"/>
<circle cx="69.93" cy="510.64" r="1.5"/>
<circle cx="67.67" cy="491.95" r="1.5"/>
<circle cx="81.27" cy="505.45" r="1.5"/>
<circle cx="76.83" cy="511.32" r="1.5"/>
<circle cx="73.63" cy="507.01" r="1.5"/>
<circle cx="69.42" cy="510.95" r="1.5"/>
<circle cx="92.06" cy="491.06" r="1.5"/>
<circle cx="106.84" cy="492.93" r="1.5"/>
<circle cx="110.2" cy="490.35" r="1.5"/>
<circle cx="65.68" cy="474.56" r="1.5"/>
<circle cx="70.05" cy="473.12" r="1.5"/>
<circle cx="80.8" cy="473.84" r="1.5"/>
<circle cx="64.84" cy="481.74" r="1.5"/>
</g>
<rect x="24" y="469.4" width="91.3" height="71.7" fill="none" stroke="#222" stroke-width="1"/>
<line x1="22.5" y1="480.3" x2="24" y2="480.3" stroke="#222" stroke-width="1"/>
<text x="20.5" y="483.4" font-size="8.6" text-anchor="end">2</text>
<line x1="22.5" y1="494.65" x2="24" y2="494.65" stroke="#222" stroke-width="1"/>
<text x="20.5" y="497.75" font-size="8.6" text-anchor="end">1</text>
<line x1="22.5" y1="509" x2="24" y2="509" stroke="#222" stroke-width="1"/>
<text x="20.5" y="512.1" font-size="8.6" text-anchor="end">0</text>
<line x1="22.5" y1="523.35" x2="24" y2="523.35" stroke="#222" stroke-width="1"/>
<text x="20.5" y="526.45" font-size="8.6" text-anchor="end">−1</text>
<line x1="22.5" y1="537.7" x2="24" y2="537.7" stroke="#222" stroke-width="1"/>
<text x="20.5" y="540.8" font-size="8.6" text-anchor="end">−2</text>
<line x1="30.4" y1="541.1" x2="30.4" y2="542.6" stroke="#222" stroke-width="1"/>
<text x="30.4" y="552.8" font-size="8.6" text-anchor="middle">−1</text>
<line x1="47.2" y1="541.1" x2="47.2" y2="542.6" stroke="#222" stroke-width="1"/>
<text x="47.2" y="552.8" font-size="8.6" text-anchor="middle">0</text>
<line x1="64" y1="541.1" x2="64" y2="542.6" stroke="#222" stroke-width="1"/>
<text x="64" y="552.8" font-size="8.6" text-anchor="middle">1</text>
<line x1="80.8" y1="541.1" x2="80.8" y2="542.6" stroke="#222" stroke-width="1"/>
<text x="80.8" y="552.8" font-size="8.6" text-anchor="middle">2</text>
<line x1="97.6" y1="541.1" x2="97.6" y2="542.6" stroke="#222" stroke-width="1"/>
<text x="97.6" y="552.8" font-size="8.6" text-anchor="middle">3</text>
<line x1="114.4" y1="541.1" x2="114.4" y2="542.6" stroke="#222" stroke-width="1"/>
<text x="114.4" y="552.8" font-size="8.6" text-anchor="middle">4</text>
<text x="27.3" y="480" font-size="8.9">COAD</text>
<text x="111.7" y="538.2" font-size="8.7" text-anchor="end">ρ = 0.48, <tspan font-style="italic">P</tspan> = 7e−17</text>
<text x="71.5" y="564" font-size="8.6" text-anchor="middle">PADI4</text>
<text x="7.4" y="460.5" font-size="8.6" text-anchor="middle" transform="rotate(-90 7.4 460.5)">Avg (<tspan font-style="italic">CEACAM21, IL16, S1PR4, IL21R</tspan>)</text>
<clipPath id="k1"><rect x="153.3" y="285.8" width="98.9" height="72.7"/></clipPath>
<g clip-path="url(#k1)">
<polygon points="158.2,288.6 161.2,288.6 161.2,293.12 163.2,293.12 163.2,297.96 166.3,297.96 166.3,304.49 168.35,304.49 168.35,308.5 170.4,308.5 170.4,312.51 172.45,312.51 172.45,315.49 174.5,315.49 174.5,318.47 176.53,318.47 176.53,320.46 178.57,320.46 178.57,322.45 180.6,322.45 180.6,324.43 182.63,324.43 182.63,325.77 184.67,325.77 184.67,327.11 186.7,327.11 186.7,328.44 188.72,328.44 188.72,329.45 190.75,329.45 190.75,330.45 192.78,330.45 192.78,331.45 194.8,331.45 194.8,332.45 196.85,332.45 196.85,333.45 198.9,333.45 198.9,334.46 200.95,334.46 200.95,335.46 203,335.46 203,336.46 205.05,336.46 205.05,337.34 207.1,337.34 207.1,338.22 209.15,338.22 209.15,339.1 211.2,339.1 211.2,339.98 213.22,339.98 213.22,340.67 215.24,340.67 215.24,341.35 217.26,341.35 217.26,342.04 219.28,342.04 219.28,342.72 221.3,342.72 221.3,343.4 223.34,343.4 223.34,343.8 225.38,343.8 225.38,344.19 227.42,344.19 227.42,344.58 229.46,344.58 229.46,344.97 231.5,344.97 231.5,345.36 233.55,345.36 233.55,345.6 235.6,345.6 235.6,345.85 237.65,345.85 237.65,346.09 239.7,346.09 239.7,346.34 241.62,346.34 241.62,346.75 243.55,346.75 243.55,347.17 245.47,347.17 245.47,347.58 247.4,347.58 247.4,348 247.4,357.5 247.4,357.07 245.47,357.07 245.47,356.64 243.55,356.64 243.55,356.21 241.62,356.21 241.62,355.78 239.7,355.78 239.7,355.53 237.65,355.53 237.65,355.28 235.6,355.28 235.6,355.02 233.55,355.02 233.55,354.77 231.5,354.77 231.5,354.37 229.46,354.37 229.46,353.96 227.42,353.96 227.42,353.56 225.38,353.56 225.38,353.15 223.34,353.15 223.34,352.75 221.3,352.75 221.3,352.04 219.28,352.04 219.28,351.33 217.26,351.33 217.26,350.62 215.24,350.62 215.24,349.92 213.22,349.92 213.22,349.21 211.2,349.21 211.2,348.3 209.15,348.3 209.15,347.39 207.1,347.39 207.1,346.48 205.05,346.48 205.05,345.57 203,345.57 203,344.53 200.95,344.53 200.95,343.5 198.9,343.5 198.9,342.46 196.85,342.46 196.85,341.42 194.8,341.42 194.8,340.39 192.78,340.39 192.78,339.35 190.75,339.35 190.75,338.31 188.72,338.31 188.72,337.28 186.7,337.28 186.7,335.9 184.67,335.9 184.67,334.51 182.63,334.51 182.63,333.13 180.6,333.13 180.6,331.08 178.57,331.08 178.57,329.02 176.53,329.02 176.53,326.97 174.5,326.97 174.5,323.88 172.45,323.88 172.45,320.8 170.4,320.8 170.4,316.65 168.35,316.65 168.35,312.51 166.3,312.51 166.3,302.84 163.2,302.84 163.2,295.48 161.2,295.48 161.2,288.6 158.2,288.6" fill="#e8704e" fill-opacity="0.3"/>
<polygon points="158.2,288.6 160.2,288.6 160.2,290.93 162.2,290.93 162.2,293.26 164.75,293.26 164.75,296.17 167.3,296.17 167.3,299.07 170.4,299.07 170.4,302.42 172.45,302.42 172.45,305.33 174.5,305.33 174.5,308.23 176.53,308.23 176.53,308.51 178.57,308.51 178.57,308.78 180.6,308.78 180.6,309.05 183.15,309.05 183.15,310.76 185.7,310.76 185.7,312.47 187.72,312.47 187.72,312.68 189.75,312.68 189.75,312.89 191.78,312.89 191.78,313.1 193.8,313.1 193.8,313.3 196.2,313.3 196.2,314.16 198.6,314.16 198.6,315.03 201,315.03 201,315.89 203.37,315.89 203.37,316.4 205.73,316.4 205.73,316.75 208.1,316.75 208.1,317.11 211.2,317.11 211.2,319.3 213.2,319.3 213.2,322.56 239.7,322.56 239.7,325.8 247.4,325.8 247.4,349.3 239.7,349.3 239.7,338.99 213.2,338.99 213.2,332.64 211.2,332.64 211.2,328.36 208.1,328.36 208.1,327.67 205.73,327.67 205.73,326.97 203.37,326.97 203.37,326.24 201,326.24 201,325.09 198.6,325.09 198.6,323.95 196.2,323.95 196.2,322.8 193.8,322.8 193.8,322.52 191.78,322.52 191.78,322.24 189.75,322.24 189.75,321.96 187.72,321.96 187.72,321.69 185.7,321.69 185.7,319.41 183.15,319.41 183.15,317.13 180.6,317.13 180.6,316.76 178.57,316.76 178.57,316.38 176.53,316.38 176.53,316 174.5,316 174.5,311.94 172.45,311.94 172.45,307.89 170.4,307.89 170.4,303.21 167.3,303.21 167.3,299.16 164.75,299.16 164.75,295.11 162.2,295.11 162.2,291.85 160.2,291.85 160.2,288.6 158.2,288.6" fill="#4a8fc0" fill-opacity="0.3"/>
<polyline points="158.2,288.6 161.2,288.6 161.2,294.3 163.2,294.3 163.2,300.4 166.3,300.4 166.3,308.5 168.35,308.5 168.35,312.6 170.4,312.6 170.4,316.7 172.45,316.7 172.45,319.75 174.5,319.75 174.5,322.8 176.53,322.8 176.53,324.83 178.57,324.83 178.57,326.87 180.6,326.87 180.6,328.9 182.63,328.9 182.63,330.27 184.67,330.27 184.67,331.63 186.7,331.63 186.7,333 188.72,333 188.72,334.02 190.75,334.02 190.75,335.05 192.78,335.05 192.78,336.08 194.8,336.08 194.8,337.1 196.85,337.1 196.85,338.12 198.9,338.12 198.9,339.15 200.95,339.15 200.95,340.18 203,340.18 203,341.2 205.05,341.2 205.05,342.1 207.1,342.1 207.1,343 209.15,343 209.15,343.9 211.2,343.9 211.2,344.8 213.22,344.8 213.22,345.5 215.24,345.5 215.24,346.2 217.26,346.2 217.26,346.9 219.28,346.9 219.28,347.6 221.3,347.6 221.3,348.3 223.34,348.3 223.34,348.7 225.38,348.7 225.38,349.1 227.42,349.1 227.42,349.5 229.46,349.5 229.46,349.9 231.5,349.9 231.5,350.3 233.55,350.3 233.55,350.55 235.6,350.55 235.6,350.8 237.65,350.8 237.65,351.05 239.7,351.05 239.7,351.3 241.62,351.3 241.62,351.73 243.55,351.73 243.55,352.15 245.47,352.15 245.47,352.57 247.4,352.57 247.4,353" fill="none" stroke="#c4512a" stroke-width="1.45" stroke-linejoin="miter"/>
<polyline points="158.2,288.6 160.2,288.6 160.2,291.45 162.2,291.45 162.2,294.3 164.75,294.3 164.75,297.85 167.3,297.85 167.3,301.4 170.4,301.4 170.4,305.5 172.45,305.5 172.45,309.05 174.5,309.05 174.5,312.6 176.53,312.6 176.53,312.93 178.57,312.93 178.57,313.27 180.6,313.27 180.6,313.6 183.15,313.6 183.15,315.65 185.7,315.65 185.7,317.7 187.72,317.7 187.72,317.95 189.75,317.95 189.75,318.2 191.78,318.2 191.78,318.45 193.8,318.45 193.8,318.7 196.2,318.7 196.2,319.73 198.6,319.73 198.6,320.77 201,320.77 201,321.8 203.37,321.8 203.37,322.47 205.73,322.47 205.73,323.13 208.1,323.13 208.1,323.8 211.2,323.8 211.2,327.9 213.2,327.9 213.2,334 239.7,334 239.7,344.8 247.4,344.8" fill="none" stroke="#3a80b0" stroke-width="1.45" stroke-linejoin="miter"/>
</g>
<rect x="153.3" y="285.8" width="98.9" height="72.7" fill="none" stroke="#222" stroke-width="1"/>
<line x1="150.8" y1="288.9" x2="153.3" y2="288.9" stroke="#222" stroke-width="1"/>
<text x="149" y="292" font-size="8.6" text-anchor="end">1.0</text>
<line x1="150.8" y1="302.1" x2="153.3" y2="302.1" stroke="#222" stroke-width="1"/>
<text x="149" y="305.2" font-size="8.6" text-anchor="end">0.8</text>
<line x1="150.8" y1="315.3" x2="153.3" y2="315.3" stroke="#222" stroke-width="1"/>
<text x="149" y="318.4" font-size="8.6" text-anchor="end">0.6</text>
<line x1="150.8" y1="328.5" x2="153.3" y2="328.5" stroke="#222" stroke-width="1"/>
<text x="149" y="331.6" font-size="8.6" text-anchor="end">0.4</text>
<line x1="150.8" y1="341.7" x2="153.3" y2="341.7" stroke="#222" stroke-width="1"/>
<text x="149" y="344.8" font-size="8.6" text-anchor="end">0.2</text>
<line x1="150.8" y1="354.9" x2="153.3" y2="354.9" stroke="#222" stroke-width="1"/>
<text x="149" y="358" font-size="8.6" text-anchor="end">0.0</text>
<line x1="158.4" y1="358.5" x2="158.4" y2="361" stroke="#222" stroke-width="1"/>
<text x="158.4" y="369" font-size="8.6" text-anchor="middle">0</text>
<line x1="174.2" y1="358.5" x2="174.2" y2="361" stroke="#222" stroke-width="1"/>
<text x="174.2" y="369" font-size="8.6" text-anchor="middle">2k</text>
<line x1="190" y1="358.5" x2="190" y2="361" stroke="#222" stroke-width="1"/>
<text x="190" y="369" font-size="8.6" text-anchor="middle">4k</text>
<line x1="205.8" y1="358.5" x2="205.8" y2="361" stroke="#222" stroke-width="1"/>
<text x="205.8" y="369" font-size="8.6" text-anchor="middle">6k</text>
<line x1="221.6" y1="358.5" x2="221.6" y2="361" stroke="#222" stroke-width="1"/>
<text x="221.6" y="369" font-size="8.6" text-anchor="middle">8k</text>
<line x1="237.4" y1="358.5" x2="237.4" y2="361" stroke="#222" stroke-width="1"/>
<text x="237.4" y="369" font-size="8.6" text-anchor="middle">10k</text>
<line x1="200.3" y1="293.7" x2="208.1" y2="293.7" stroke="#3a80b0" stroke-width="2.6"/>
<text x="209.3" y="296.3" font-size="7.2">High, <tspan font-style="italic">n</tspan> = 231</text>
<line x1="200.3" y1="303.3" x2="208.1" y2="303.3" stroke="#c4512a" stroke-width="2.6"/>
<text x="209.3" y="305.9" font-size="7.2">Low, <tspan font-style="italic">n</tspan> = 231</text>
<text x="157.2" y="344.5" font-size="8.6">SKCM</text>
<text x="157.2" y="354.3" font-size="8.6"><tspan font-style="italic">P</tspan> = 9e−6</text>
<clipPath id="k2"><rect x="153.3" y="378.8" width="98.9" height="73.2"/></clipPath>
<g clip-path="url(#k2)">
<polygon points="158.2,382.1 160.2,382.1 160.2,383.7 162.2,383.7 162.2,385.31 163.9,385.31 163.9,388.51 165.3,388.51 165.3,395.71 166.8,395.71 166.8,396.91 168.3,396.91 168.3,398.15 170.35,398.15 170.35,399.44 172.4,399.44 172.4,400.73 174.45,400.73 174.45,401.56 176.5,401.56 176.5,402.39 178.55,402.39 178.55,402.81 180.6,402.81 180.6,403.22 182.6,403.22 182.6,405.8 184.63,405.8 184.63,406.35 186.67,406.35 186.67,406.91 188.7,406.91 188.7,407.46 190.75,407.46 190.75,407.88 192.8,407.88 192.8,408.29 193.8,408.29 193.8,411.7 229.5,411.7 229.5,429 193.8,429 193.8,423.74 192.8,423.74 192.8,423.1 190.75,423.1 190.75,422.45 188.7,422.45 188.7,421.6 186.67,421.6 186.67,420.74 184.63,420.74 184.63,419.89 182.6,419.89 182.6,415.91 180.6,415.91 180.6,415.27 178.55,415.27 178.55,414.63 176.5,414.63 176.5,413.34 174.45,413.34 174.45,412.06 172.4,412.06 172.4,410.07 170.35,410.07 170.35,408.08 168.3,408.08 168.3,406.16 166.8,406.16 166.8,404.24 165.3,404.24 165.3,392.53 163.9,392.53 163.9,387.32 162.2,387.32 162.2,384.71 160.2,384.71 160.2,382.1 158.2,382.1" fill="#e8704e" fill-opacity="0.3"/>
<polygon points="158.2,382.1 159.7,382.1 159.7,383.2 161.2,383.2 161.2,384.3 162.75,384.3 162.75,385.36 164.3,385.36 164.3,386.43 165.8,386.43 165.8,388.63 167.3,388.63 167.3,390.85 168.85,390.85 168.85,391.26 170.4,391.26 170.4,391.67 172.45,391.67 172.45,392.49 174.5,392.49 174.5,393.31 176.5,393.31 176.5,394.16 178.5,394.16 178.5,395.02 180.55,395.02 180.55,395.84 182.6,395.84 182.6,396.66 184.65,396.66 184.65,397.48 186.7,397.48 186.7,398.29 188.7,398.29 188.7,400.5 247.8,400.5 247.8,413.7 188.7,413.7 188.7,410.22 186.7,410.22 186.7,408.93 184.65,408.93 184.65,407.63 182.6,407.63 182.6,406.34 180.55,406.34 180.55,405.05 178.5,405.05 178.5,403.7 176.5,403.7 176.5,402.34 174.5,402.34 174.5,401.05 172.45,401.05 172.45,399.76 170.4,399.76 170.4,399.12 168.85,399.12 168.85,398.47 167.3,398.47 167.3,394.35 165.8,394.35 165.8,390.22 164.3,390.22 164.3,388.23 162.75,388.23 162.75,386.23 161.2,386.23 161.2,384.16 159.7,384.16 159.7,382.1 158.2,382.1" fill="#4a8fc0" fill-opacity="0.3"/>
<polyline points="158.2,382.1 160.2,382.1 160.2,384.15 162.2,384.15 162.2,386.2 163.9,386.2 163.9,390.3 165.3,390.3 165.3,399.5 166.8,399.5 166.8,401 168.3,401 168.3,402.5 170.35,402.5 170.35,404.05 172.4,404.05 172.4,405.6 174.45,405.6 174.45,406.6 176.5,406.6 176.5,407.6 178.55,407.6 178.55,408.1 180.6,408.1 180.6,408.6 182.6,408.6 182.6,411.7 184.63,411.7 184.63,412.37 186.67,412.37 186.67,413.03 188.7,413.03 188.7,413.7 190.75,413.7 190.75,414.2 192.8,414.2 192.8,414.7 193.8,414.7 193.8,418.8 229.5,418.8" fill="none" stroke="#c4512a" stroke-width="1.45" stroke-linejoin="miter"/>
<polyline points="158.2,382.1 159.7,382.1 159.7,383.65 161.2,383.65 161.2,385.2 162.75,385.2 162.75,386.7 164.3,386.7 164.3,388.2 165.8,388.2 165.8,391.3 167.3,391.3 167.3,394.4 168.85,394.4 168.85,394.9 170.4,394.9 170.4,395.4 172.45,395.4 172.45,396.4 174.5,396.4 174.5,397.4 176.5,397.4 176.5,398.45 178.5,398.45 178.5,399.5 180.55,399.5 180.55,400.5 182.6,400.5 182.6,401.5 184.65,401.5 184.65,402.5 186.7,402.5 186.7,403.5 188.7,403.5 188.7,406.2 247.8,406.2" fill="none" stroke="#3a80b0" stroke-width="1.45" stroke-linejoin="miter"/>
</g>
<rect x="153.3" y="378.8" width="98.9" height="73.2" fill="none" stroke="#222" stroke-width="1"/>
<line x1="150.8" y1="382.4" x2="153.3" y2="382.4" stroke="#222" stroke-width="1"/>
<text x="149" y="385.5" font-size="8.6" text-anchor="end">1.0</text>
<line x1="150.8" y1="395.5" x2="153.3" y2="395.5" stroke="#222" stroke-width="1"/>
<text x="149" y="398.6" font-size="8.6" text-anchor="end">0.8</text>
<line x1="150.8" y1="408.6" x2="153.3" y2="408.6" stroke="#222" stroke-width="1"/>
<text x="149" y="411.7" font-size="8.6" text-anchor="end">0.6</text>
<line x1="150.8" y1="421.7" x2="153.3" y2="421.7" stroke="#222" stroke-width="1"/>
<text x="149" y="424.8" font-size="8.6" text-anchor="end">0.4</text>
<line x1="150.8" y1="434.8" x2="153.3" y2="434.8" stroke="#222" stroke-width="1"/>
<text x="149" y="437.9" font-size="8.6" text-anchor="end">0.2</text>
<line x1="150.8" y1="447.9" x2="153.3" y2="447.9" stroke="#222" stroke-width="1"/>
<text x="149" y="451" font-size="8.6" text-anchor="end">0.0</text>
<line x1="158.3" y1="452" x2="158.3" y2="454.5" stroke="#222" stroke-width="1"/>
<text x="158.3" y="461.9" font-size="8.6" text-anchor="middle">0</text>
<line x1="172.3" y1="452" x2="172.3" y2="454.5" stroke="#222" stroke-width="1"/>
<text x="172.3" y="461.9" font-size="8.6" text-anchor="middle">1k</text>
<line x1="186.3" y1="452" x2="186.3" y2="454.5" stroke="#222" stroke-width="1"/>
<text x="186.3" y="461.9" font-size="8.6" text-anchor="middle">2k</text>
<line x1="200.3" y1="452" x2="200.3" y2="454.5" stroke="#222" stroke-width="1"/>
<text x="200.3" y="461.9" font-size="8.6" text-anchor="middle">3k</text>
<line x1="214.3" y1="452" x2="214.3" y2="454.5" stroke="#222" stroke-width="1"/>
<text x="214.3" y="461.9" font-size="8.6" text-anchor="middle">4k</text>
<line x1="228.3" y1="452" x2="228.3" y2="454.5" stroke="#222" stroke-width="1"/>
<text x="228.3" y="461.9" font-size="8.6" text-anchor="middle">5k</text>
<line x1="242.3" y1="452" x2="242.3" y2="454.5" stroke="#222" stroke-width="1"/>
<text x="242.3" y="461.9" font-size="8.6" text-anchor="middle">6k</text>
<line x1="198" y1="386.2" x2="205.8" y2="386.2" stroke="#3a80b0" stroke-width="2.6"/>
<text x="207" y="388.8" font-size="7.2">High, <tspan font-style="italic">n</tspan> = 248</text>
<line x1="198" y1="396.4" x2="205.8" y2="396.4" stroke="#c4512a" stroke-width="2.6"/>
<text x="207" y="399" font-size="7.2">Low, <tspan font-style="italic">n</tspan> = 249</text>
<text x="157.2" y="438.6" font-size="8.6">HNSC</text>
<text x="157.2" y="448.4" font-size="8.6"><tspan font-style="italic">P</tspan> = 2e−3</text>
<clipPath id="k3"><rect x="153.5" y="468.7" width="98.7" height="72.5"/></clipPath>
<g clip-path="url(#k3)">
<polygon points="158.2,472.1 160.2,472.1 160.2,474.19 162.2,474.19 162.2,477.62 164.3,477.62 164.3,481.05 166.3,481.05 166.3,485.54 168.3,485.54 168.3,490.2 170.4,490.2 170.4,494.1 172.4,494.1 172.4,498 174.5,498 174.5,501.14 176,501.14 176,502.35 177.5,502.35 177.5,503.61 185.7,503.61 186.7,503.61 186.7,510.2 226.4,510.2 226.4,538.1 186.7,538.1 186.7,534.76 185.7,534.76 177.5,534.76 177.5,534.13 176,534.13 176,532.39 174.5,532.39 174.5,526.2 172.4,526.2 172.4,518.5 170.4,518.5 170.4,510.8 168.3,510.8 168.3,501.59 166.3,501.59 166.3,492.35 164.3,492.35 164.3,484.59 162.2,484.59 162.2,476.82 160.2,476.82 160.2,472.1 158.2,472.1" fill="#e8704e" fill-opacity="0.3"/>
<polygon points="158.2,472.1 165.3,472.1 166.3,472.1 166.3,473.88 168.3,473.88 168.3,475.03 170.4,475.03 170.4,476.81 172.4,476.81 172.4,477.91 174.5,477.91 174.5,479.99 186.7,479.99 186.7,483 247.4,483 247.4,504.7 186.7,504.7 186.7,496.65 174.5,496.65 174.5,488.99 172.4,488.99 172.4,485.53 170.4,485.53 170.4,480.46 168.3,480.46 168.3,477.18 166.3,477.18 166.3,472.1 165.3,472.1 158.2,472.1" fill="#4a8fc0" fill-opacity="0.3"/>
<polyline points="158.2,472.1 160.2,472.1 160.2,475.2 162.2,475.2 162.2,480.3 164.3,480.3 164.3,485.4 166.3,485.4 166.3,491.5 168.3,491.5 168.3,497.6 170.4,497.6 170.4,502.7 172.4,502.7 172.4,507.8 174.5,507.8 174.5,511.9 176,511.9 176,513.45 177.5,513.45 177.5,515 185.7,515 186.7,515 186.7,523.1 226.4,523.1" fill="none" stroke="#c4512a" stroke-width="1.45" stroke-linejoin="miter"/>
<polyline points="158.2,472.1 165.3,472.1 166.3,472.1 166.3,475.2 168.3,475.2 168.3,477.2 170.4,477.2 170.4,480.3 172.4,480.3 172.4,482.3 174.5,482.3 174.5,486.4 186.7,486.4 186.7,490.9 247.4,490.9" fill="none" stroke="#3a80b0" stroke-width="1.45" stroke-linejoin="miter"/>
</g>
<rect x="153.5" y="468.7" width="98.7" height="72.5" fill="none" stroke="#222" stroke-width="1"/>
<line x1="151" y1="472.1" x2="153.5" y2="472.1" stroke="#222" stroke-width="1"/>
<text x="149.2" y="475.2" font-size="8.6" text-anchor="end">1.0</text>
<line x1="151" y1="482.5" x2="153.5" y2="482.5" stroke="#222" stroke-width="1"/>
<text x="149.2" y="485.6" font-size="8.6" text-anchor="end">0.9</text>
<line x1="151" y1="492.9" x2="153.5" y2="492.9" stroke="#222" stroke-width="1"/>
<text x="149.2" y="496" font-size="8.6" text-anchor="end">0.8</text>
<line x1="151" y1="503.3" x2="153.5" y2="503.3" stroke="#222" stroke-width="1"/>
<text x="149.2" y="506.4" font-size="8.6" text-anchor="end">0.7</text>
<line x1="151" y1="513.7" x2="153.5" y2="513.7" stroke="#222" stroke-width="1"/>
<text x="149.2" y="516.8" font-size="8.6" text-anchor="end">0.6</text>
<line x1="151" y1="524.1" x2="153.5" y2="524.1" stroke="#222" stroke-width="1"/>
<text x="149.2" y="527.2" font-size="8.6" text-anchor="end">0.5</text>
<line x1="151" y1="534.5" x2="153.5" y2="534.5" stroke="#222" stroke-width="1"/>
<text x="149.2" y="537.6" font-size="8.6" text-anchor="end">0.4</text>
<line x1="158.3" y1="541.2" x2="158.3" y2="543.7" stroke="#222" stroke-width="1"/>
<text x="158.3" y="552" font-size="8.6" text-anchor="middle">0</text>
<line x1="172.3" y1="541.2" x2="172.3" y2="543.7" stroke="#222" stroke-width="1"/>
<text x="172.3" y="552" font-size="8.6" text-anchor="middle">1k</text>
<line x1="186.3" y1="541.2" x2="186.3" y2="543.7" stroke="#222" stroke-width="1"/>
<text x="186.3" y="552" font-size="8.6" text-anchor="middle">2k</text>
<line x1="200.3" y1="541.2" x2="200.3" y2="543.7" stroke="#222" stroke-width="1"/>
<text x="200.3" y="552" font-size="8.6" text-anchor="middle">3k</text>
<line x1="214.3" y1="541.2" x2="214.3" y2="543.7" stroke="#222" stroke-width="1"/>
<text x="214.3" y="552" font-size="8.6" text-anchor="middle">4k</text>
<line x1="228.3" y1="541.2" x2="228.3" y2="543.7" stroke="#222" stroke-width="1"/>
<text x="228.3" y="552" font-size="8.6" text-anchor="middle">5k</text>
<line x1="242.3" y1="541.2" x2="242.3" y2="543.7" stroke="#222" stroke-width="1"/>
<text x="242.3" y="552" font-size="8.6" text-anchor="middle">6k</text>
<line x1="200.3" y1="475.2" x2="208.1" y2="475.2" stroke="#3a80b0" stroke-width="2.6"/>
<text x="209.3" y="477.8" font-size="7.2">High, <tspan font-style="italic">n</tspan> = 143</text>
<line x1="200.3" y1="485.4" x2="208.1" y2="485.4" stroke="#c4512a" stroke-width="2.6"/>
<text x="209.3" y="488" font-size="7.2">Low, <tspan font-style="italic">n</tspan> = 143</text>
<text x="157.2" y="527.7" font-size="8.6">CESC</text>
<text x="157.2" y="537.3" font-size="8.6"><tspan font-style="italic">P</tspan> = 1e−5</text>
<text x="202.2" y="564" font-size="8.6" text-anchor="middle">Days</text>
<text x="133.4" y="502.4" font-size="8.7" text-anchor="middle" transform="rotate(-90 133.4 502.4)">DSS probability</text>
<clipPath id="e1"><rect x="314.7" y="285.4" width="77.3" height="111.3"/></clipPath>
<g fill="#b0303f" fill-opacity="0.45" clip-path="url(#e1)">
<circle cx="328.48" cy="290.12" r="1.55"/>
<circle cx="327.86" cy="305.49" r="1.55"/>
<circle cx="319.93" cy="391.1" r="1.55"/>
<circle cx="318.5" cy="385.61" r="1.55"/>
<circle cx="327.05" cy="374.11" r="1.55"/>
<circle cx="320.53" cy="359.59" r="1.55"/>
<circle cx="322.37" cy="376.18" r="1.55"/>
<circle cx="342.37" cy="358.33" r="1.55"/>
<circle cx="340.05" cy="350.93" r="1.55"/>
<circle cx="319.67" cy="358.08" r="1.55"/>
<circle cx="347.94" cy="363.61" r="1.55"/>
<circle cx="321.01" cy="361.87" r="1.55"/>
<circle cx="319.94" cy="361.47" r="1.55"/>
<circle cx="320.49" cy="364.95" r="1.55"/>
<circle cx="328.65" cy="365.23" r="1.55"/>
<circle cx="341.11" cy="368.07" r="1.55"/>
<circle cx="354.58" cy="350.45" r="1.55"/>
<circle cx="334.77" cy="360.49" r="1.55"/>
<circle cx="319.77" cy="352.39" r="1.55"/>
<circle cx="321.21" cy="362.45" r="1.55"/>
<circle cx="319.43" cy="359.76" r="1.55"/>
<circle cx="328.43" cy="361.79" r="1.55"/>
<circle cx="319.2" cy="356.5" r="1.55"/>
<circle cx="337.68" cy="353.47" r="1.55"/>
<circle cx="342.27" cy="358.37" r="1.55"/>
<circle cx="326.25" cy="365.99" r="1.55"/>
<circle cx="334.39" cy="366.87" r="1.55"/>
<circle cx="327" cy="346.53" r="1.55"/>
<circle cx="318.67" cy="362.7" r="1.55"/>
<circle cx="321.26" cy="362.79" r="1.55"/>
<circle cx="355.86" cy="348.15" r="1.55"/>
<circle cx="352.11" cy="351.29" r="1.55"/>
<circle cx="328.07" cy="355.91" r="1.55"/>
<circle cx="346.94" cy="363.7" r="1.55"/>
<circle cx="339.31" cy="340.74" r="1.55"/>
<circle cx="355.4" cy="357.09" r="1.55"/>
<circle cx="341.53" cy="355.8" r="1.55"/>
<circle cx="324.51" cy="361.79" r="1.55"/>
<circle cx="335.89" cy="372.16" r="1.55"/>
<circle cx="321" cy="371.5" r="1.55"/>
<circle cx="320.59" cy="356.97" r="1.55"/>
<circle cx="319.91" cy="357.1" r="1.55"/>
<circle cx="334.27" cy="362.37" r="1.55"/>
<circle cx="325.04" cy="370.14" r="1.55"/>
<circle cx="323.31" cy="372.39" r="1.55"/>
<circle cx="324.3" cy="363.1" r="1.55"/>
<circle cx="344.82" cy="372.51" r="1.55"/>
<circle cx="330.41" cy="352.87" r="1.55"/>
<circle cx="327.44" cy="350.75" r="1.55"/>
<circle cx="364.13" cy="336.77" r="1.55"/>
<circle cx="356.6" cy="353.04" r="1.55"/>
<circle cx="333.6" cy="365.31" r="1.55"/>
<circle cx="318.77" cy="367.64" r="1.55"/>
<circle cx="319.43" cy="376.21" r="1.55"/>
<circle cx="337.5" cy="365.33" r="1.55"/>
<circle cx="331.17" cy="361.84" r="1.55"/>
<circle cx="358.95" cy="352.29" r="1.55"/>
<circle cx="319.02" cy="355.26" r="1.55"/>
<circle cx="344.52" cy="355.46" r="1.55"/>
<circle cx="323.99" cy="358.58" r="1.55"/>
<circle cx="354.08" cy="354.85" r="1.55"/>
<circle cx="338.2" cy="348.29" r="1.55"/>
<circle cx="341.03" cy="369.25" r="1.55"/>
<circle cx="320.24" cy="364.18" r="1.55"/>
<circle cx="319.39" cy="371.95" r="1.55"/>
<circle cx="324.33" cy="346.86" r="1.55"/>
<circle cx="329.85" cy="349.55" r="1.55"/>
<circle cx="321.09" cy="354.09" r="1.55"/>
<circle cx="342.76" cy="370.36" r="1.55"/>
<circle cx="351.79" cy="358.92" r="1.55"/>
<circle cx="334.51" cy="362.32" r="1.55"/>
<circle cx="319.48" cy="359.69" r="1.55"/>
<circle cx="329.17" cy="361.93" r="1.55"/>
<circle cx="324.72" cy="356.03" r="1.55"/>
<circle cx="350.51" cy="363.66" r="1.55"/>
<circle cx="340.72" cy="353.24" r="1.55"/>
<circle cx="340.04" cy="358.35" r="1.55"/>
<circle cx="324.62" cy="362.81" r="1.55"/>
<circle cx="319.19" cy="361.3" r="1.55"/>
<circle cx="318.57" cy="364.04" r="1.55"/>
<circle cx="320.1" cy="353.58" r="1.55"/>
<circle cx="335.7" cy="362.63" r="1.55"/>
<circle cx="334.72" cy="357.91" r="1.55"/>
<circle cx="320.23" cy="363.64" r="1.55"/>
<circle cx="318.65" cy="372.75" r="1.55"/>
<circle cx="358.81" cy="352.81" r="1.55"/>
<circle cx="320.05" cy="369.19" r="1.55"/>
<circle cx="322.24" cy="354.7" r="1.55"/>
<circle cx="330.73" cy="356.86" r="1.55"/>
<circle cx="318.71" cy="374.18" r="1.55"/>
<circle cx="320.85" cy="368.24" r="1.55"/>
<circle cx="336.75" cy="364.65" r="1.55"/>
<circle cx="352.29" cy="367.21" r="1.55"/>
<circle cx="320.33" cy="370.22" r="1.55"/>
<circle cx="335.37" cy="354.19" r="1.55"/>
<circle cx="331.18" cy="362.36" r="1.55"/>
<circle cx="332.61" cy="357.15" r="1.55"/>
<circle cx="326.94" cy="363.96" r="1.55"/>
<circle cx="328.54" cy="357.82" r="1.55"/>
<circle cx="342.27" cy="366.63" r="1.55"/>
<circle cx="325.06" cy="360.59" r="1.55"/>
<circle cx="333" cy="355.51" r="1.55"/>
<circle cx="332.05" cy="359.99" r="1.55"/>
<circle cx="331" cy="364.18" r="1.55"/>
<circle cx="323.8" cy="369.43" r="1.55"/>
<circle cx="346.93" cy="358.97" r="1.55"/>
<circle cx="333.47" cy="357.49" r="1.55"/>
<circle cx="332.98" cy="362.52" r="1.55"/>
<circle cx="327.13" cy="366.78" r="1.55"/>
<circle cx="320.32" cy="355.84" r="1.55"/>
<circle cx="332.76" cy="339.66" r="1.55"/>
<circle cx="320.52" cy="362.89" r="1.55"/>
<circle cx="336.3" cy="357.56" r="1.55"/>
<circle cx="323.6" cy="357.22" r="1.55"/>
<circle cx="318.6" cy="366.87" r="1.55"/>
<circle cx="335.85" cy="359.33" r="1.55"/>
<circle cx="335.67" cy="366.26" r="1.55"/>
<circle cx="320.22" cy="348.82" r="1.55"/>
<circle cx="354.6" cy="362.48" r="1.55"/>
<circle cx="328.28" cy="366.85" r="1.55"/>
<circle cx="329.2" cy="362.19" r="1.55"/>
<circle cx="347.88" cy="358.98" r="1.55"/>
<circle cx="329.94" cy="365.04" r="1.55"/>
<circle cx="322.95" cy="360.8" r="1.55"/>
<circle cx="356.13" cy="371.66" r="1.55"/>
<circle cx="319.28" cy="362.24" r="1.55"/>
<circle cx="334.42" cy="353.9" r="1.55"/>
<circle cx="354.03" cy="343.94" r="1.55"/>
<circle cx="320.22" cy="354.47" r="1.55"/>
<circle cx="331.77" cy="358.1" r="1.55"/>
<circle cx="343.42" cy="350.49" r="1.55"/>
<circle cx="371.29" cy="351.86" r="1.55"/>
<circle cx="327.66" cy="346.49" r="1.55"/>
<circle cx="336.71" cy="351.33" r="1.55"/>
<circle cx="340.6" cy="361.35" r="1.55"/>
<circle cx="334.31" cy="358.21" r="1.55"/>
<circle cx="320.01" cy="358.87" r="1.55"/>
<circle cx="339.19" cy="357.84" r="1.55"/>
<circle cx="334.39" cy="358.69" r="1.55"/>
<circle cx="334.15" cy="366.89" r="1.55"/>
<circle cx="341.5" cy="370.82" r="1.55"/>
<circle cx="342.81" cy="365.97" r="1.55"/>
<circle cx="327.83" cy="376.27" r="1.55"/>
<circle cx="336.6" cy="359.8" r="1.55"/>
<circle cx="321.31" cy="360.33" r="1.55"/>
<circle cx="321.29" cy="374.34" r="1.55"/>
<circle cx="338.5" cy="354.62" r="1.55"/>
<circle cx="330.57" cy="353.13" r="1.55"/>
<circle cx="333.71" cy="359.57" r="1.55"/>
<circle cx="328.64" cy="346.45" r="1.55"/>
<circle cx="363.32" cy="344.75" r="1.55"/>
<circle cx="356.29" cy="370.42" r="1.55"/>
<circle cx="331.61" cy="351.72" r="1.55"/>
<circle cx="339.8" cy="356.69" r="1.55"/>
<circle cx="330.64" cy="356.88" r="1.55"/>
<circle cx="354.63" cy="352.57" r="1.55"/>
<circle cx="334.32" cy="366.36" r="1.55"/>
<circle cx="329.88" cy="365.31" r="1.55"/>
<circle cx="324.38" cy="367.26" r="1.55"/>
<circle cx="329.74" cy="366.66" r="1.55"/>
<circle cx="320.98" cy="361.19" r="1.55"/>
<circle cx="333.98" cy="372.47" r="1.55"/>
<circle cx="320.08" cy="369.09" r="1.55"/>
<circle cx="342.42" cy="355.55" r="1.55"/>
<circle cx="333.31" cy="360.96" r="1.55"/>
<circle cx="349.4" cy="357.17" r="1.55"/>
<circle cx="321.86" cy="376.12" r="1.55"/>
<circle cx="342.37" cy="366.9" r="1.55"/>
<circle cx="319.26" cy="365" r="1.55"/>
<circle cx="340.68" cy="360.09" r="1.55"/>
<circle cx="325.61" cy="365.26" r="1.55"/>
<circle cx="339.39" cy="352.58" r="1.55"/>
<circle cx="332.55" cy="360.85" r="1.55"/>
<circle cx="345.25" cy="360.22" r="1.55"/>
<circle cx="319.06" cy="360.25" r="1.55"/>
<circle cx="340.07" cy="354.46" r="1.55"/>
<circle cx="320.25" cy="364.3" r="1.55"/>
<circle cx="354.79" cy="351" r="1.55"/>
<circle cx="318.54" cy="356.53" r="1.55"/>
<circle cx="321.02" cy="359.08" r="1.55"/>
<circle cx="319.17" cy="360.02" r="1.55"/>
<circle cx="357.86" cy="356.03" r="1.55"/>
<circle cx="318.68" cy="351.9" r="1.55"/>
<circle cx="338.31" cy="352.48" r="1.55"/>
<circle cx="326.12" cy="357.23" r="1.55"/>
<circle cx="319.93" cy="353.05" r="1.55"/>
<circle cx="327.63" cy="359.38" r="1.55"/>
<circle cx="347.71" cy="349.92" r="1.55"/>
<circle cx="329.06" cy="360.59" r="1.55"/>
<circle cx="337.89" cy="372.27" r="1.55"/>
<circle cx="333.55" cy="349.21" r="1.55"/>
<circle cx="332.48" cy="359.47" r="1.55"/>
<circle cx="320.32" cy="370.13" r="1.55"/>
<circle cx="335.7" cy="362.02" r="1.55"/>
<circle cx="354.34" cy="367.74" r="1.55"/>
<circle cx="347.79" cy="342.85" r="1.55"/>
<circle cx="337.15" cy="356.21" r="1.55"/>
<circle cx="319.29" cy="373.45" r="1.55"/>
<circle cx="323.87" cy="355.81" r="1.55"/>
<circle cx="350.64" cy="363.69" r="1.55"/>
<circle cx="325.83" cy="344.38" r="1.55"/>
<circle cx="321.12" cy="369.15" r="1.55"/>
<circle cx="323.79" cy="371.15" r="1.55"/>
<circle cx="326.09" cy="359.82" r="1.55"/>
<circle cx="357.91" cy="363.27" r="1.55"/>
<circle cx="319.29" cy="363.84" r="1.55"/>
<circle cx="328.06" cy="374.82" r="1.55"/>
<circle cx="344.18" cy="356.8" r="1.55"/>
<circle cx="324.46" cy="346.41" r="1.55"/>
<circle cx="318.75" cy="376.29" r="1.55"/>
<circle cx="363.39" cy="319.18" r="1.55"/>
<circle cx="365.84" cy="342.86" r="1.55"/>
<circle cx="353.99" cy="303.15" r="1.55"/>
<circle cx="328.55" cy="329.19" r="1.55"/>
<circle cx="359.67" cy="337.68" r="1.55"/>
<circle cx="378.38" cy="320.08" r="1.55"/>
<circle cx="347.03" cy="327.96" r="1.55"/>
<circle cx="319.56" cy="343.19" r="1.55"/>
<circle cx="374.04" cy="325.46" r="1.55"/>
<circle cx="340.28" cy="342.07" r="1.55"/>
<circle cx="348.4" cy="359.46" r="1.55"/>
<circle cx="363.82" cy="307.47" r="1.55"/>
<circle cx="339.1" cy="339.88" r="1.55"/>
<circle cx="335.84" cy="343.41" r="1.55"/>
<circle cx="371.23" cy="330.51" r="1.55"/>
<circle cx="354.74" cy="356.35" r="1.55"/>
<circle cx="319.21" cy="353.54" r="1.55"/>
<circle cx="329.86" cy="341.92" r="1.55"/>
<circle cx="368.35" cy="342.2" r="1.55"/>
<circle cx="342.76" cy="334.14" r="1.55"/>
<circle cx="337.43" cy="319.85" r="1.55"/>
<circle cx="343.48" cy="341.57" r="1.55"/>
<circle cx="349.98" cy="328.42" r="1.55"/>
<circle cx="351.05" cy="326.94" r="1.55"/>
<circle cx="331.46" cy="349.88" r="1.55"/>
<circle cx="344.89" cy="332.01" r="1.55"/>
<circle cx="332.98" cy="347.95" r="1.55"/>
<circle cx="361.08" cy="320.64" r="1.55"/>
<circle cx="339.63" cy="328.93" r="1.55"/>
<circle cx="343.4" cy="334.9" r="1.55"/>
<circle cx="334.09" cy="353.35" r="1.55"/>
<circle cx="366.97" cy="333.54" r="1.55"/>
<circle cx="346.28" cy="345.56" r="1.55"/>
<circle cx="351.75" cy="325.52" r="1.55"/>
<circle cx="354.03" cy="336.75" r="1.55"/>
<circle cx="346.36" cy="346.18" r="1.55"/>
<circle cx="370.66" cy="322.53" r="1.55"/>
<circle cx="360.67" cy="325.3" r="1.55"/>
<circle cx="367.98" cy="343.2" r="1.55"/>
<circle cx="376.31" cy="319.31" r="1.55"/>
<circle cx="344.3" cy="339.18" r="1.55"/>
<circle cx="338.89" cy="339.33" r="1.55"/>
<circle cx="361.01" cy="333.44" r="1.55"/>
<circle cx="348.44" cy="345.37" r="1.55"/>
<circle cx="342.34" cy="341.13" r="1.55"/>
<circle cx="325" cy="337.31" r="1.55"/>
<circle cx="334.12" cy="314.3" r="1.55"/>
<circle cx="364.94" cy="314.71" r="1.55"/>
<circle cx="356.2" cy="338.65" r="1.55"/>
<circle cx="372.36" cy="313.21" r="1.55"/>
<circle cx="328.69" cy="335.71" r="1.55"/>
<circle cx="365.37" cy="329.94" r="1.55"/>
<circle cx="347.2" cy="323.1" r="1.55"/>
<circle cx="355.38" cy="331.15" r="1.55"/>
<circle cx="373.6" cy="302.25" r="1.55"/>
<circle cx="338" cy="331.81" r="1.55"/>
<circle cx="328.91" cy="351.42" r="1.55"/>
<circle cx="328.81" cy="317.36" r="1.55"/>
<circle cx="330.87" cy="340.73" r="1.55"/>
<circle cx="319.15" cy="339.26" r="1.55"/>
<circle cx="328.51" cy="375.84" r="1.55"/>
<circle cx="356.67" cy="321.5" r="1.55"/>
<circle cx="367.29" cy="323.98" r="1.55"/>
<circle cx="359.18" cy="324.25" r="1.55"/>
<circle cx="346.56" cy="321.81" r="1.55"/>
<circle cx="366.52" cy="312.11" r="1.55"/>
<circle cx="341.44" cy="335.75" r="1.55"/>
<circle cx="363.94" cy="322.36" r="1.55"/>
<circle cx="345.64" cy="345.25" r="1.55"/>
<circle cx="330.34" cy="339.94" r="1.55"/>
<circle cx="356.29" cy="320.74" r="1.55"/>
<circle cx="351.46" cy="329.8" r="1.55"/>
<circle cx="331.82" cy="353.27" r="1.55"/>
<circle cx="363.18" cy="330.21" r="1.55"/>
<circle cx="370.27" cy="337.61" r="1.55"/>
<circle cx="335.28" cy="346.26" r="1.55"/>
<circle cx="346.04" cy="329.21" r="1.55"/>
<circle cx="320.28" cy="340.63" r="1.55"/>
<circle cx="332.37" cy="356.5" r="1.55"/>
<circle cx="331.85" cy="350.24" r="1.55"/>
<circle cx="331.44" cy="311.05" r="1.55"/>
<circle cx="338.79" cy="355.74" r="1.55"/>
<circle cx="357.68" cy="332.09" r="1.55"/>
<circle cx="342.05" cy="326.82" r="1.55"/>
<circle cx="347.45" cy="326.42" r="1.55"/>
<circle cx="323.33" cy="351.8" r="1.55"/>
<circle cx="355.56" cy="339.5" r="1.55"/>
<circle cx="326.95" cy="333.21" r="1.55"/>
<circle cx="349.64" cy="324.23" r="1.55"/>
<circle cx="369.78" cy="343.9" r="1.55"/>
<circle cx="338.36" cy="350.96" r="1.55"/>
<circle cx="362.47" cy="321.48" r="1.55"/>
<circle cx="354.58" cy="320.08" r="1.55"/>
<circle cx="333.76" cy="330.09" r="1.55"/>
<circle cx="341.82" cy="343.41" r="1.55"/>
<circle cx="356.6" cy="329.59" r="1.55"/>
<circle cx="333.74" cy="333.63" r="1.55"/>
<circle cx="359.29" cy="323.72" r="1.55"/>
<circle cx="354.65" cy="352.12" r="1.55"/>
<circle cx="363.61" cy="333.54" r="1.55"/>
<circle cx="323.5" cy="337.29" r="1.55"/>
<circle cx="324.18" cy="350.22" r="1.55"/>
<circle cx="326.21" cy="332.19" r="1.55"/>
<circle cx="362.95" cy="334.65" r="1.55"/>
<circle cx="352.64" cy="340.71" r="1.55"/>
<circle cx="360.74" cy="329.73" r="1.55"/>
<circle cx="322.97" cy="354.43" r="1.55"/>
<circle cx="330.32" cy="335.85" r="1.55"/>
<circle cx="352.11" cy="329.25" r="1.55"/>
<circle cx="351.21" cy="331.26" r="1.55"/>
<circle cx="344.25" cy="320.47" r="1.55"/>
<circle cx="339.34" cy="351.47" r="1.55"/>
<circle cx="343.92" cy="355.64" r="1.55"/>
<circle cx="352.65" cy="331.87" r="1.55"/>
<circle cx="336.4" cy="328.93" r="1.55"/>
<circle cx="335.08" cy="306.27" r="1.55"/>
<circle cx="348.88" cy="326.73" r="1.55"/>
<circle cx="342.4" cy="347.02" r="1.55"/>
<circle cx="350.45" cy="324.15" r="1.55"/>
<circle cx="334.19" cy="346.63" r="1.55"/>
<circle cx="325.07" cy="355.34" r="1.55"/>
<circle cx="379.49" cy="299.62" r="1.55"/>
<circle cx="349.38" cy="330.69" r="1.55"/>
<circle cx="355.15" cy="325.39" r="1.55"/>
<circle cx="338.28" cy="327.45" r="1.55"/>
<circle cx="353.76" cy="310.46" r="1.55"/>
<circle cx="352.11" cy="331.26" r="1.55"/>
<circle cx="343.29" cy="318.55" r="1.55"/>
<circle cx="320.82" cy="349.1" r="1.55"/>
<circle cx="331.02" cy="354.07" r="1.55"/>
<circle cx="376.48" cy="315.71" r="1.55"/>
<circle cx="362.49" cy="315.05" r="1.55"/>
<circle cx="372.48" cy="328.17" r="1.55"/>
<circle cx="347.42" cy="332.05" r="1.55"/>
<circle cx="344.37" cy="332.86" r="1.55"/>
<circle cx="321.78" cy="344.49" r="1.55"/>
<circle cx="352.09" cy="314.18" r="1.55"/>
<circle cx="373.37" cy="326.16" r="1.55"/>
<circle cx="356.31" cy="328.24" r="1.55"/>
<circle cx="361" cy="330" r="1.55"/>
<circle cx="366.23" cy="320.86" r="1.55"/>
<circle cx="351.49" cy="328.25" r="1.55"/>
<circle cx="350.73" cy="324.98" r="1.55"/>
<circle cx="339.28" cy="351.03" r="1.55"/>
<circle cx="361.24" cy="328.18" r="1.55"/>
<circle cx="372.27" cy="305.36" r="1.55"/>
<circle cx="350.05" cy="342.18" r="1.55"/>
<circle cx="348.51" cy="336.88" r="1.55"/>
<circle cx="343.91" cy="322.98" r="1.55"/>
<circle cx="351.7" cy="322.09" r="1.55"/>
<circle cx="339.22" cy="326.62" r="1.55"/>
<circle cx="348.13" cy="357.14" r="1.55"/>
<circle cx="321.65" cy="328.29" r="1.55"/>
<circle cx="334.35" cy="351.23" r="1.55"/>
<circle cx="374.49" cy="346.35" r="1.55"/>
<circle cx="347.12" cy="327.66" r="1.55"/>
<circle cx="328.74" cy="339.15" r="1.55"/>
<circle cx="353.93" cy="324.1" r="1.55"/>
<circle cx="384.05" cy="294.51" r="1.55"/>
<circle cx="351.63" cy="324.55" r="1.55"/>
<circle cx="362.2" cy="325.29" r="1.55"/>
<circle cx="341.3" cy="347.31" r="1.55"/>
<circle cx="336.68" cy="343.87" r="1.55"/>
<circle cx="383.36" cy="349.6" r="1.55"/>
<circle cx="343.94" cy="342.37" r="1.55"/>
<circle cx="330.57" cy="349.98" r="1.55"/>
<circle cx="334.87" cy="344.1" r="1.55"/>
<circle cx="351.06" cy="337.96" r="1.55"/>
<circle cx="344.83" cy="348.74" r="1.55"/>
<circle cx="346.48" cy="354.43" r="1.55"/>
<circle cx="337.98" cy="353.65" r="1.55"/>
<circle cx="330.8" cy="328.95" r="1.55"/>
<circle cx="355.47" cy="334.31" r="1.55"/>
<circle cx="351.6" cy="321.16" r="1.55"/>
<circle cx="352.08" cy="320.91" r="1.55"/>
<circle cx="323.4" cy="339.76" r="1.55"/>
<circle cx="344.84" cy="326" r="1.55"/>
<circle cx="324.94" cy="354.73" r="1.55"/>
<circle cx="366.03" cy="304.05" r="1.55"/>
<circle cx="336.71" cy="318.85" r="1.55"/>
<circle cx="346.31" cy="338.05" r="1.55"/>
<circle cx="339.4" cy="350.95" r="1.55"/>
<circle cx="334.63" cy="329.95" r="1.55"/>
<circle cx="322.79" cy="360.57" r="1.55"/>
<circle cx="328.63" cy="345.73" r="1.55"/>
<circle cx="366.61" cy="324.93" r="1.55"/>
<circle cx="319.87" cy="334.1" r="1.55"/>
<circle cx="338.38" cy="341.8" r="1.55"/>
<circle cx="331.71" cy="322.18" r="1.55"/>
<circle cx="332.52" cy="349.26" r="1.55"/>
<circle cx="361.85" cy="331.25" r="1.55"/>
<circle cx="334.23" cy="341.9" r="1.55"/>
<circle cx="342.25" cy="346.65" r="1.55"/>
<circle cx="339.24" cy="328.82" r="1.55"/>
<circle cx="366.7" cy="348.63" r="1.55"/>
<circle cx="376.37" cy="309.24" r="1.55"/>
<circle cx="358.55" cy="343.08" r="1.55"/>
<circle cx="345.17" cy="308.04" r="1.55"/>
<circle cx="322.52" cy="350.01" r="1.55"/>
<circle cx="367.86" cy="326.88" r="1.55"/>
<circle cx="334.55" cy="351.45" r="1.55"/>
<circle cx="332.46" cy="353.37" r="1.55"/>
<circle cx="353.49" cy="332.95" r="1.55"/>
<circle cx="335.19" cy="325.9" r="1.55"/>
<circle cx="347.71" cy="352.46" r="1.55"/>
<circle cx="357.59" cy="319.01" r="1.55"/>
<circle cx="347.53" cy="345.98" r="1.55"/>
<circle cx="338.94" cy="333.34" r="1.55"/>
<circle cx="357.89" cy="329.95" r="1.55"/>
<circle cx="342.34" cy="327.03" r="1.55"/>
<circle cx="345.9" cy="359.59" r="1.55"/>
<circle cx="377.07" cy="313.1" r="1.55"/>
<circle cx="365.1" cy="327.48" r="1.55"/>
<circle cx="351.18" cy="340.91" r="1.55"/>
<circle cx="347.83" cy="349.06" r="1.55"/>
<circle cx="320.09" cy="358.18" r="1.55"/>
<circle cx="347.86" cy="353.65" r="1.55"/>
<circle cx="348.06" cy="327.71" r="1.55"/>
<circle cx="345.88" cy="339.76" r="1.55"/>
<circle cx="333.85" cy="350.52" r="1.55"/>
<circle cx="323.15" cy="342.29" r="1.55"/>
<circle cx="352.84" cy="313.84" r="1.55"/>
<circle cx="354" cy="339.62" r="1.55"/>
<circle cx="362.68" cy="343.08" r="1.55"/>
<circle cx="349.85" cy="316.74" r="1.55"/>
<circle cx="338.39" cy="328.84" r="1.55"/>
<circle cx="368.45" cy="334.52" r="1.55"/>
<circle cx="329.71" cy="343.39" r="1.55"/>
<circle cx="363.91" cy="356.25" r="1.55"/>
<circle cx="338.29" cy="351.05" r="1.55"/>
<circle cx="330.77" cy="341.66" r="1.55"/>
<circle cx="359.58" cy="338.11" r="1.55"/>
<circle cx="374.51" cy="330.27" r="1.55"/>
<circle cx="331.58" cy="327.61" r="1.55"/>
<circle cx="371.48" cy="332.09" r="1.55"/>
<circle cx="345.23" cy="332.12" r="1.55"/>
<circle cx="360.12" cy="348.83" r="1.55"/>
<circle cx="323.88" cy="364.45" r="1.55"/>
<circle cx="320.55" cy="342.21" r="1.55"/>
<circle cx="346.54" cy="348.11" r="1.55"/>
<circle cx="355.12" cy="344" r="1.55"/>
<circle cx="374.95" cy="338.86" r="1.55"/>
<circle cx="361.52" cy="352.05" r="1.55"/>
<circle cx="347.98" cy="350.24" r="1.55"/>
<circle cx="343.16" cy="336.49" r="1.55"/>
<circle cx="340.94" cy="333.55" r="1.55"/>
<circle cx="337.68" cy="344.05" r="1.55"/>
<circle cx="339.73" cy="328.34" r="1.55"/>
<circle cx="341.64" cy="338.11" r="1.55"/>
<circle cx="318.59" cy="349" r="1.55"/>
</g>
<rect x="314.7" y="285.4" width="77.3" height="111.3" fill="none" stroke="#222" stroke-width="1"/>
<line x1="313.2" y1="301.1" x2="314.7" y2="301.1" stroke="#222" stroke-width="1"/>
<text x="311.2" y="304.2" font-size="8.6" text-anchor="end">2</text>
<line x1="313.2" y1="323.05" x2="314.7" y2="323.05" stroke="#222" stroke-width="1"/>
<text x="311.2" y="326.15" font-size="8.6" text-anchor="end">1</text>
<line x1="313.2" y1="345" x2="314.7" y2="345" stroke="#222" stroke-width="1"/>
<text x="311.2" y="348.1" font-size="8.6" text-anchor="end">0</text>
<line x1="313.2" y1="366.95" x2="314.7" y2="366.95" stroke="#222" stroke-width="1"/>
<text x="311.2" y="370.05" font-size="8.6" text-anchor="end">−1</text>
<line x1="313.2" y1="388.9" x2="314.7" y2="388.9" stroke="#222" stroke-width="1"/>
<text x="311.2" y="392" font-size="8.6" text-anchor="end">−2</text>
<line x1="318.5" y1="396.7" x2="318.5" y2="398.2" stroke="#222" stroke-width="1"/>
<text x="318.5" y="406.4" font-size="8.6" text-anchor="middle">0.0</text>
<line x1="332.75" y1="396.7" x2="332.75" y2="398.2" stroke="#222" stroke-width="1"/>
<text x="332.75" y="406.4" font-size="8.6" text-anchor="middle">0.1</text>
<line x1="347" y1="396.7" x2="347" y2="398.2" stroke="#222" stroke-width="1"/>
<text x="347" y="406.4" font-size="8.6" text-anchor="middle">0.2</text>
<line x1="361.25" y1="396.7" x2="361.25" y2="398.2" stroke="#222" stroke-width="1"/>
<text x="361.25" y="406.4" font-size="8.6" text-anchor="middle">0.3</text>
<line x1="375.5" y1="396.7" x2="375.5" y2="398.2" stroke="#222" stroke-width="1"/>
<text x="375.5" y="406.4" font-size="8.6" text-anchor="middle">0.4</text>
<line x1="389.75" y1="396.7" x2="389.75" y2="398.2" stroke="#222" stroke-width="1"/>
<text x="389.75" y="406.4" font-size="8.6" text-anchor="middle">0.5</text>
<text x="389.2" y="294" font-size="8.6" text-anchor="end">SKCM</text>
<text x="347.7" y="381.2" font-size="8.6">ρ = 0.51,</text>
<text x="347.7" y="392.3" font-size="8.6"><tspan font-style="italic">P</tspan> = 1e−32</text>
<text x="353.7" y="417" font-size="8.6" text-anchor="middle">CD8 T cells</text>
<text x="298.8" y="341.7" font-size="8.6" text-anchor="middle" transform="rotate(-90 298.8 341.7)">5-gene signature</text>
<clipPath id="e2"><rect x="410" y="285.4" width="74.4" height="111.3"/></clipPath>
<g fill="#b0303f" fill-opacity="0.45" clip-path="url(#e2)">
<circle cx="429.84" cy="290.12" r="1.55"/>
<circle cx="459.98" cy="305.49" r="1.55"/>
<circle cx="413.95" cy="391.1" r="1.55"/>
<circle cx="413.67" cy="385.61" r="1.55"/>
<circle cx="420.46" cy="374.11" r="1.55"/>
<circle cx="415.91" cy="359.59" r="1.55"/>
<circle cx="419.29" cy="376.18" r="1.55"/>
<circle cx="416.43" cy="358.33" r="1.55"/>
<circle cx="419.05" cy="350.93" r="1.55"/>
<circle cx="414.74" cy="358.08" r="1.55"/>
<circle cx="428.1" cy="363.61" r="1.55"/>
<circle cx="428.19" cy="361.87" r="1.55"/>
<circle cx="413.98" cy="361.47" r="1.55"/>
<circle cx="420.14" cy="364.95" r="1.55"/>
<circle cx="419.25" cy="365.23" r="1.55"/>
<circle cx="419.33" cy="368.07" r="1.55"/>
<circle cx="420.1" cy="350.45" r="1.55"/>
<circle cx="428.58" cy="360.49" r="1.55"/>
<circle cx="417.86" cy="352.39" r="1.55"/>
<circle cx="426.1" cy="362.45" r="1.55"/>
<circle cx="417.2" cy="359.76" r="1.55"/>
<circle cx="421.82" cy="361.79" r="1.55"/>
<circle cx="422.43" cy="356.5" r="1.55"/>
<circle cx="423.17" cy="353.47" r="1.55"/>
<circle cx="422.52" cy="358.37" r="1.55"/>
<circle cx="420.66" cy="365.99" r="1.55"/>
<circle cx="415.91" cy="366.87" r="1.55"/>
<circle cx="418.13" cy="346.53" r="1.55"/>
<circle cx="430.05" cy="362.7" r="1.55"/>
<circle cx="418.49" cy="362.79" r="1.55"/>
<circle cx="421.08" cy="348.15" r="1.55"/>
<circle cx="417.15" cy="351.29" r="1.55"/>
<circle cx="424.36" cy="355.91" r="1.55"/>
<circle cx="426.12" cy="363.7" r="1.55"/>
<circle cx="424.43" cy="340.74" r="1.55"/>
<circle cx="418.61" cy="357.09" r="1.55"/>
<circle cx="420.87" cy="355.8" r="1.55"/>
<circle cx="415.94" cy="361.79" r="1.55"/>
<circle cx="417.77" cy="372.16" r="1.55"/>
<circle cx="418.07" cy="371.5" r="1.55"/>
<circle cx="418.11" cy="356.97" r="1.55"/>
<circle cx="433.64" cy="357.1" r="1.55"/>
<circle cx="415.53" cy="362.37" r="1.55"/>
<circle cx="418.78" cy="370.14" r="1.55"/>
<circle cx="414.29" cy="372.39" r="1.55"/>
<circle cx="415.27" cy="363.1" r="1.55"/>
<circle cx="420.72" cy="372.51" r="1.55"/>
<circle cx="416.72" cy="352.87" r="1.55"/>
<circle cx="416.71" cy="350.75" r="1.55"/>
<circle cx="439.54" cy="336.77" r="1.55"/>
<circle cx="419.09" cy="353.04" r="1.55"/>
<circle cx="417.61" cy="365.31" r="1.55"/>
<circle cx="423.26" cy="367.64" r="1.55"/>
<circle cx="416.89" cy="376.21" r="1.55"/>
<circle cx="423.39" cy="365.33" r="1.55"/>
<circle cx="420.06" cy="361.84" r="1.55"/>
<circle cx="425.21" cy="352.29" r="1.55"/>
<circle cx="418.29" cy="355.26" r="1.55"/>
<circle cx="422.93" cy="355.46" r="1.55"/>
<circle cx="430.67" cy="358.58" r="1.55"/>
<circle cx="432.39" cy="354.85" r="1.55"/>
<circle cx="417.25" cy="348.29" r="1.55"/>
<circle cx="419.3" cy="369.25" r="1.55"/>
<circle cx="414.64" cy="364.18" r="1.55"/>
<circle cx="417.78" cy="371.95" r="1.55"/>
<circle cx="416.13" cy="346.86" r="1.55"/>
<circle cx="428.05" cy="349.55" r="1.55"/>
<circle cx="429.9" cy="354.09" r="1.55"/>
<circle cx="419.78" cy="370.36" r="1.55"/>
<circle cx="426.21" cy="358.92" r="1.55"/>
<circle cx="418.55" cy="362.32" r="1.55"/>
<circle cx="417.28" cy="359.69" r="1.55"/>
<circle cx="414.1" cy="361.93" r="1.55"/>
<circle cx="422.06" cy="356.03" r="1.55"/>
<circle cx="425.55" cy="363.66" r="1.55"/>
<circle cx="422.2" cy="353.24" r="1.55"/>
<circle cx="423.61" cy="358.35" r="1.55"/>
<circle cx="426.2" cy="362.81" r="1.55"/>
<circle cx="428.56" cy="361.3" r="1.55"/>
<circle cx="423.93" cy="364.04" r="1.55"/>
<circle cx="424.34" cy="353.58" r="1.55"/>
<circle cx="417.48" cy="362.63" r="1.55"/>
<circle cx="429.23" cy="357.91" r="1.55"/>
<circle cx="420.9" cy="363.64" r="1.55"/>
<circle cx="421.44" cy="372.75" r="1.55"/>
<circle cx="418.31" cy="352.81" r="1.55"/>
<circle cx="423.49" cy="369.19" r="1.55"/>
<circle cx="416.53" cy="354.7" r="1.55"/>
<circle cx="426.86" cy="356.86" r="1.55"/>
<circle cx="418.39" cy="374.18" r="1.55"/>
<circle cx="415.76" cy="368.24" r="1.55"/>
<circle cx="424.1" cy="364.65" r="1.55"/>
<circle cx="420.06" cy="367.21" r="1.55"/>
<circle cx="417.9" cy="370.22" r="1.55"/>
<circle cx="421.2" cy="354.19" r="1.55"/>
<circle cx="417.58" cy="362.36" r="1.55"/>
<circle cx="418.91" cy="357.15" r="1.55"/>
<circle cx="418.71" cy="363.96" r="1.55"/>
<circle cx="423.7" cy="357.82" r="1.55"/>
<circle cx="421.74" cy="366.63" r="1.55"/>
<circle cx="424.15" cy="360.59" r="1.55"/>
<circle cx="420.61" cy="355.51" r="1.55"/>
<circle cx="417.91" cy="359.99" r="1.55"/>
<circle cx="424.27" cy="364.18" r="1.55"/>
<circle cx="427.64" cy="369.43" r="1.55"/>
<circle cx="416.99" cy="358.97" r="1.55"/>
<circle cx="422.96" cy="357.49" r="1.55"/>
<circle cx="419.65" cy="362.52" r="1.55"/>
<circle cx="425.13" cy="366.78" r="1.55"/>
<circle cx="414.87" cy="355.84" r="1.55"/>
<circle cx="443.83" cy="339.66" r="1.55"/>
<circle cx="424.7" cy="362.89" r="1.55"/>
<circle cx="418.68" cy="357.56" r="1.55"/>
<circle cx="425.84" cy="357.22" r="1.55"/>
<circle cx="417.83" cy="366.87" r="1.55"/>
<circle cx="425.69" cy="359.33" r="1.55"/>
<circle cx="419.46" cy="366.26" r="1.55"/>
<circle cx="437.63" cy="348.82" r="1.55"/>
<circle cx="420.71" cy="362.48" r="1.55"/>
<circle cx="423.17" cy="366.85" r="1.55"/>
<circle cx="422.98" cy="362.19" r="1.55"/>
<circle cx="420.38" cy="358.98" r="1.55"/>
<circle cx="426.58" cy="365.04" r="1.55"/>
<circle cx="415.73" cy="360.8" r="1.55"/>
<circle cx="420.15" cy="371.66" r="1.55"/>
<circle cx="428.67" cy="362.24" r="1.55"/>
<circle cx="431.22" cy="353.9" r="1.55"/>
<circle cx="430.79" cy="343.94" r="1.55"/>
<circle cx="425.29" cy="354.47" r="1.55"/>
<circle cx="429" cy="358.1" r="1.55"/>
<circle cx="423.18" cy="350.49" r="1.55"/>
<circle cx="430.98" cy="351.86" r="1.55"/>
<circle cx="435.58" cy="346.49" r="1.55"/>
<circle cx="432.8" cy="351.33" r="1.55"/>
<circle cx="418.71" cy="361.35" r="1.55"/>
<circle cx="425.92" cy="358.21" r="1.55"/>
<circle cx="415.5" cy="358.87" r="1.55"/>
<circle cx="415.69" cy="357.84" r="1.55"/>
<circle cx="416.54" cy="358.69" r="1.55"/>
<circle cx="421.26" cy="366.89" r="1.55"/>
<circle cx="416.42" cy="370.82" r="1.55"/>
<circle cx="423.6" cy="365.97" r="1.55"/>
<circle cx="413.68" cy="376.27" r="1.55"/>
<circle cx="417.56" cy="359.8" r="1.55"/>
<circle cx="427.32" cy="360.33" r="1.55"/>
<circle cx="417.97" cy="374.34" r="1.55"/>
<circle cx="416.42" cy="354.62" r="1.55"/>
<circle cx="428.8" cy="353.13" r="1.55"/>
<circle cx="417.34" cy="359.57" r="1.55"/>
<circle cx="438.78" cy="346.45" r="1.55"/>
<circle cx="420.07" cy="344.75" r="1.55"/>
<circle cx="420.78" cy="370.42" r="1.55"/>
<circle cx="425.57" cy="351.72" r="1.55"/>
<circle cx="430.15" cy="356.69" r="1.55"/>
<circle cx="418.52" cy="356.88" r="1.55"/>
<circle cx="433.46" cy="352.57" r="1.55"/>
<circle cx="417.86" cy="366.36" r="1.55"/>
<circle cx="418.56" cy="365.31" r="1.55"/>
<circle cx="421.08" cy="367.26" r="1.55"/>
<circle cx="420.59" cy="366.66" r="1.55"/>
<circle cx="423.62" cy="361.19" r="1.55"/>
<circle cx="418.34" cy="372.47" r="1.55"/>
<circle cx="415.88" cy="369.09" r="1.55"/>
<circle cx="415.66" cy="355.55" r="1.55"/>
<circle cx="423.46" cy="360.96" r="1.55"/>
<circle cx="426.08" cy="357.17" r="1.55"/>
<circle cx="417.06" cy="376.12" r="1.55"/>
<circle cx="418.78" cy="366.9" r="1.55"/>
<circle cx="425.26" cy="365" r="1.55"/>
<circle cx="417.08" cy="360.09" r="1.55"/>
<circle cx="424.22" cy="365.26" r="1.55"/>
<circle cx="417.2" cy="352.58" r="1.55"/>
<circle cx="423.19" cy="360.85" r="1.55"/>
<circle cx="428.68" cy="360.22" r="1.55"/>
<circle cx="416.28" cy="360.25" r="1.55"/>
<circle cx="427.87" cy="354.46" r="1.55"/>
<circle cx="416.49" cy="364.3" r="1.55"/>
<circle cx="414.59" cy="351" r="1.55"/>
<circle cx="420.65" cy="356.53" r="1.55"/>
<circle cx="424.48" cy="359.08" r="1.55"/>
<circle cx="418.67" cy="360.02" r="1.55"/>
<circle cx="432.4" cy="356.03" r="1.55"/>
<circle cx="414.23" cy="351.9" r="1.55"/>
<circle cx="420.04" cy="352.48" r="1.55"/>
<circle cx="418.21" cy="357.23" r="1.55"/>
<circle cx="419.75" cy="353.05" r="1.55"/>
<circle cx="419" cy="359.38" r="1.55"/>
<circle cx="414.41" cy="349.92" r="1.55"/>
<circle cx="416.05" cy="360.59" r="1.55"/>
<circle cx="415.92" cy="372.27" r="1.55"/>
<circle cx="428.84" cy="349.21" r="1.55"/>
<circle cx="418.53" cy="359.47" r="1.55"/>
<circle cx="421.94" cy="370.13" r="1.55"/>
<circle cx="421.25" cy="362.02" r="1.55"/>
<circle cx="417.07" cy="367.74" r="1.55"/>
<circle cx="416.68" cy="342.85" r="1.55"/>
<circle cx="418.26" cy="356.21" r="1.55"/>
<circle cx="419.25" cy="373.45" r="1.55"/>
<circle cx="420.43" cy="355.81" r="1.55"/>
<circle cx="416.75" cy="363.69" r="1.55"/>
<circle cx="418.56" cy="344.38" r="1.55"/>
<circle cx="420.95" cy="369.15" r="1.55"/>
<circle cx="418.53" cy="371.15" r="1.55"/>
<circle cx="423.9" cy="359.82" r="1.55"/>
<circle cx="426.08" cy="363.27" r="1.55"/>
<circle cx="416.16" cy="363.84" r="1.55"/>
<circle cx="420.37" cy="374.82" r="1.55"/>
<circle cx="416.01" cy="356.8" r="1.55"/>
<circle cx="432.01" cy="346.41" r="1.55"/>
<circle cx="416.34" cy="376.29" r="1.55"/>
<circle cx="435.64" cy="319.18" r="1.55"/>
<circle cx="418.53" cy="342.86" r="1.55"/>
<circle cx="424.35" cy="303.15" r="1.55"/>
<circle cx="435.42" cy="329.19" r="1.55"/>
<circle cx="444.85" cy="337.68" r="1.55"/>
<circle cx="425.48" cy="320.08" r="1.55"/>
<circle cx="420.05" cy="327.96" r="1.55"/>
<circle cx="417.22" cy="343.19" r="1.55"/>
<circle cx="437.67" cy="325.46" r="1.55"/>
<circle cx="441.32" cy="342.07" r="1.55"/>
<circle cx="415.79" cy="359.46" r="1.55"/>
<circle cx="425.26" cy="307.47" r="1.55"/>
<circle cx="417.17" cy="339.88" r="1.55"/>
<circle cx="440.05" cy="343.41" r="1.55"/>
<circle cx="417.51" cy="330.51" r="1.55"/>
<circle cx="414.19" cy="356.35" r="1.55"/>
<circle cx="429.27" cy="353.54" r="1.55"/>
<circle cx="442.6" cy="341.92" r="1.55"/>
<circle cx="436.22" cy="342.2" r="1.55"/>
<circle cx="417.91" cy="334.14" r="1.55"/>
<circle cx="425.57" cy="319.85" r="1.55"/>
<circle cx="426.92" cy="341.57" r="1.55"/>
<circle cx="444.79" cy="328.42" r="1.55"/>
<circle cx="438.96" cy="326.94" r="1.55"/>
<circle cx="416.32" cy="349.88" r="1.55"/>
<circle cx="427.32" cy="332.01" r="1.55"/>
<circle cx="431.72" cy="347.95" r="1.55"/>
<circle cx="431.76" cy="320.64" r="1.55"/>
<circle cx="438.88" cy="328.93" r="1.55"/>
<circle cx="448.38" cy="334.9" r="1.55"/>
<circle cx="435.21" cy="353.35" r="1.55"/>
<circle cx="442.2" cy="333.54" r="1.55"/>
<circle cx="430.35" cy="345.56" r="1.55"/>
<circle cx="423.17" cy="325.52" r="1.55"/>
<circle cx="419.75" cy="336.75" r="1.55"/>
<circle cx="418.13" cy="346.18" r="1.55"/>
<circle cx="434.16" cy="322.53" r="1.55"/>
<circle cx="439.72" cy="325.3" r="1.55"/>
<circle cx="438.72" cy="343.2" r="1.55"/>
<circle cx="446.68" cy="319.31" r="1.55"/>
<circle cx="422.15" cy="339.18" r="1.55"/>
<circle cx="422.33" cy="339.33" r="1.55"/>
<circle cx="419.04" cy="333.44" r="1.55"/>
<circle cx="427.85" cy="345.37" r="1.55"/>
<circle cx="442.22" cy="341.13" r="1.55"/>
<circle cx="437.73" cy="337.31" r="1.55"/>
<circle cx="428.87" cy="314.3" r="1.55"/>
<circle cx="418.38" cy="314.71" r="1.55"/>
<circle cx="439.24" cy="338.65" r="1.55"/>
<circle cx="445.8" cy="313.21" r="1.55"/>
<circle cx="439.29" cy="335.71" r="1.55"/>
<circle cx="423.76" cy="329.94" r="1.55"/>
<circle cx="424.67" cy="323.1" r="1.55"/>
<circle cx="433.93" cy="331.15" r="1.55"/>
<circle cx="445.53" cy="302.25" r="1.55"/>
<circle cx="420.86" cy="331.81" r="1.55"/>
<circle cx="423.34" cy="351.42" r="1.55"/>
<circle cx="415.35" cy="317.36" r="1.55"/>
<circle cx="415.08" cy="340.73" r="1.55"/>
<circle cx="418.87" cy="339.26" r="1.55"/>
<circle cx="420.03" cy="375.84" r="1.55"/>
<circle cx="435.24" cy="321.5" r="1.55"/>
<circle cx="428.45" cy="323.98" r="1.55"/>
<circle cx="425.47" cy="324.25" r="1.55"/>
<circle cx="423.97" cy="321.81" r="1.55"/>
<circle cx="439.68" cy="312.11" r="1.55"/>
<circle cx="428.04" cy="335.75" r="1.55"/>
<circle cx="415.16" cy="322.36" r="1.55"/>
<circle cx="430.4" cy="345.25" r="1.55"/>
<circle cx="446.35" cy="339.94" r="1.55"/>
<circle cx="415.64" cy="320.74" r="1.55"/>
<circle cx="450.25" cy="329.8" r="1.55"/>
<circle cx="414.82" cy="353.27" r="1.55"/>
<circle cx="422.23" cy="330.21" r="1.55"/>
<circle cx="446.04" cy="337.61" r="1.55"/>
<circle cx="439.62" cy="346.26" r="1.55"/>
<circle cx="417.96" cy="329.21" r="1.55"/>
<circle cx="435.74" cy="340.63" r="1.55"/>
<circle cx="426.1" cy="356.5" r="1.55"/>
<circle cx="421.6" cy="350.24" r="1.55"/>
<circle cx="439.88" cy="311.05" r="1.55"/>
<circle cx="427.27" cy="355.74" r="1.55"/>
<circle cx="420.66" cy="332.09" r="1.55"/>
<circle cx="428.08" cy="326.82" r="1.55"/>
<circle cx="439.47" cy="326.42" r="1.55"/>
<circle cx="427.3" cy="351.8" r="1.55"/>
<circle cx="429.26" cy="339.5" r="1.55"/>
<circle cx="441.28" cy="333.21" r="1.55"/>
<circle cx="416.61" cy="324.23" r="1.55"/>
<circle cx="414.74" cy="343.9" r="1.55"/>
<circle cx="414.36" cy="350.96" r="1.55"/>
<circle cx="433.7" cy="321.48" r="1.55"/>
<circle cx="426.52" cy="320.08" r="1.55"/>
<circle cx="445.12" cy="330.09" r="1.55"/>
<circle cx="443.17" cy="343.41" r="1.55"/>
<circle cx="416" cy="329.59" r="1.55"/>
<circle cx="425.9" cy="333.63" r="1.55"/>
<circle cx="429.25" cy="323.72" r="1.55"/>
<circle cx="424.68" cy="352.12" r="1.55"/>
<circle cx="447.06" cy="333.54" r="1.55"/>
<circle cx="434.18" cy="337.29" r="1.55"/>
<circle cx="420.52" cy="350.22" r="1.55"/>
<circle cx="435.15" cy="332.19" r="1.55"/>
<circle cx="422.8" cy="334.65" r="1.55"/>
<circle cx="428.69" cy="340.71" r="1.55"/>
<circle cx="415.87" cy="329.73" r="1.55"/>
<circle cx="426.69" cy="354.43" r="1.55"/>
<circle cx="427.83" cy="335.85" r="1.55"/>
<circle cx="434.14" cy="329.25" r="1.55"/>
<circle cx="432.96" cy="331.26" r="1.55"/>
<circle cx="431.78" cy="320.47" r="1.55"/>
<circle cx="429.25" cy="351.47" r="1.55"/>
<circle cx="419.1" cy="355.64" r="1.55"/>
<circle cx="440.01" cy="331.87" r="1.55"/>
<circle cx="434.2" cy="328.93" r="1.55"/>
<circle cx="435.77" cy="306.27" r="1.55"/>
<circle cx="426.86" cy="326.73" r="1.55"/>
<circle cx="418.72" cy="347.02" r="1.55"/>
<circle cx="447.5" cy="324.15" r="1.55"/>
<circle cx="435.23" cy="346.63" r="1.55"/>
<circle cx="433.09" cy="355.34" r="1.55"/>
<circle cx="427.73" cy="299.62" r="1.55"/>
<circle cx="445.96" cy="330.69" r="1.55"/>
<circle cx="445.57" cy="325.39" r="1.55"/>
<circle cx="430.46" cy="327.45" r="1.55"/>
<circle cx="449.13" cy="310.46" r="1.55"/>
<circle cx="442.27" cy="331.26" r="1.55"/>
<circle cx="416.79" cy="318.55" r="1.55"/>
<circle cx="418.32" cy="349.1" r="1.55"/>
<circle cx="420.09" cy="354.07" r="1.55"/>
<circle cx="432" cy="315.71" r="1.55"/>
<circle cx="435.66" cy="315.05" r="1.55"/>
<circle cx="431.37" cy="328.17" r="1.55"/>
<circle cx="443.63" cy="332.05" r="1.55"/>
<circle cx="440.66" cy="332.86" r="1.55"/>
<circle cx="416.21" cy="344.49" r="1.55"/>
<circle cx="425.65" cy="314.18" r="1.55"/>
<circle cx="445.1" cy="326.16" r="1.55"/>
<circle cx="441.24" cy="328.24" r="1.55"/>
<circle cx="415.98" cy="330" r="1.55"/>
<circle cx="433.95" cy="320.86" r="1.55"/>
<circle cx="417.55" cy="328.25" r="1.55"/>
<circle cx="428.89" cy="324.98" r="1.55"/>
<circle cx="437.4" cy="351.03" r="1.55"/>
<circle cx="415.17" cy="328.18" r="1.55"/>
<circle cx="441.61" cy="305.36" r="1.55"/>
<circle cx="425.15" cy="342.18" r="1.55"/>
<circle cx="447" cy="336.88" r="1.55"/>
<circle cx="446.53" cy="322.98" r="1.55"/>
<circle cx="415.16" cy="322.09" r="1.55"/>
<circle cx="435.82" cy="326.62" r="1.55"/>
<circle cx="430.59" cy="357.14" r="1.55"/>
<circle cx="420.73" cy="328.29" r="1.55"/>
<circle cx="428.58" cy="351.23" r="1.55"/>
<circle cx="419.07" cy="346.35" r="1.55"/>
<circle cx="420.32" cy="327.66" r="1.55"/>
<circle cx="425.85" cy="339.15" r="1.55"/>
<circle cx="421.33" cy="324.1" r="1.55"/>
<circle cx="451" cy="294.51" r="1.55"/>
<circle cx="420.78" cy="324.55" r="1.55"/>
<circle cx="428.27" cy="325.29" r="1.55"/>
<circle cx="423.67" cy="347.31" r="1.55"/>
<circle cx="433.72" cy="343.87" r="1.55"/>
<circle cx="438.2" cy="349.6" r="1.55"/>
<circle cx="430.31" cy="342.37" r="1.55"/>
<circle cx="434.29" cy="349.98" r="1.55"/>
<circle cx="417.09" cy="344.1" r="1.55"/>
<circle cx="433.19" cy="337.96" r="1.55"/>
<circle cx="416.46" cy="348.74" r="1.55"/>
<circle cx="433.53" cy="354.43" r="1.55"/>
<circle cx="424.84" cy="353.65" r="1.55"/>
<circle cx="419.34" cy="328.95" r="1.55"/>
<circle cx="445.93" cy="334.31" r="1.55"/>
<circle cx="429.64" cy="321.16" r="1.55"/>
<circle cx="431.24" cy="320.91" r="1.55"/>
<circle cx="415.85" cy="339.76" r="1.55"/>
<circle cx="446.59" cy="326" r="1.55"/>
<circle cx="426.32" cy="354.73" r="1.55"/>
<circle cx="444.82" cy="304.05" r="1.55"/>
<circle cx="415.63" cy="318.85" r="1.55"/>
<circle cx="437.56" cy="338.05" r="1.55"/>
<circle cx="420.51" cy="350.95" r="1.55"/>
<circle cx="430.01" cy="329.95" r="1.55"/>
<circle cx="425.41" cy="360.57" r="1.55"/>
<circle cx="436.87" cy="345.73" r="1.55"/>
<circle cx="446.44" cy="324.93" r="1.55"/>
<circle cx="417.55" cy="334.1" r="1.55"/>
<circle cx="441.95" cy="341.8" r="1.55"/>
<circle cx="417.5" cy="322.18" r="1.55"/>
<circle cx="415.27" cy="349.26" r="1.55"/>
<circle cx="422.62" cy="331.25" r="1.55"/>
<circle cx="419.53" cy="341.9" r="1.55"/>
<circle cx="432.55" cy="346.65" r="1.55"/>
<circle cx="432.41" cy="328.82" r="1.55"/>
<circle cx="420.88" cy="348.63" r="1.55"/>
<circle cx="443.15" cy="309.24" r="1.55"/>
<circle cx="440.01" cy="343.08" r="1.55"/>
<circle cx="435.11" cy="308.04" r="1.55"/>
<circle cx="427.96" cy="350.01" r="1.55"/>
<circle cx="447.95" cy="326.88" r="1.55"/>
<circle cx="419.8" cy="351.45" r="1.55"/>
<circle cx="435.7" cy="353.37" r="1.55"/>
<circle cx="417.87" cy="332.95" r="1.55"/>
<circle cx="415.82" cy="325.9" r="1.55"/>
<circle cx="430.63" cy="352.46" r="1.55"/>
<circle cx="421.39" cy="319.01" r="1.55"/>
<circle cx="420.72" cy="345.98" r="1.55"/>
<circle cx="429.76" cy="333.34" r="1.55"/>
<circle cx="416.92" cy="329.95" r="1.55"/>
<circle cx="427.17" cy="327.03" r="1.55"/>
<circle cx="419.39" cy="359.59" r="1.55"/>
<circle cx="418.53" cy="313.1" r="1.55"/>
<circle cx="433.25" cy="327.48" r="1.55"/>
<circle cx="425.77" cy="340.91" r="1.55"/>
<circle cx="418.9" cy="349.06" r="1.55"/>
<circle cx="429.88" cy="358.18" r="1.55"/>
<circle cx="421.16" cy="353.65" r="1.55"/>
<circle cx="413.79" cy="327.71" r="1.55"/>
<circle cx="439.89" cy="339.76" r="1.55"/>
<circle cx="422.05" cy="350.52" r="1.55"/>
<circle cx="415.53" cy="342.29" r="1.55"/>
<circle cx="422.4" cy="313.84" r="1.55"/>
<circle cx="422.19" cy="339.62" r="1.55"/>
<circle cx="414.49" cy="343.08" r="1.55"/>
<circle cx="425.61" cy="316.74" r="1.55"/>
<circle cx="419.6" cy="328.84" r="1.55"/>
<circle cx="419.5" cy="334.52" r="1.55"/>
<circle cx="431.75" cy="343.39" r="1.55"/>
<circle cx="415.49" cy="356.25" r="1.55"/>
<circle cx="417.94" cy="351.05" r="1.55"/>
<circle cx="416.85" cy="341.66" r="1.55"/>
<circle cx="421.26" cy="338.11" r="1.55"/>
<circle cx="420.8" cy="330.27" r="1.55"/>
<circle cx="433.31" cy="327.61" r="1.55"/>
<circle cx="445.16" cy="332.09" r="1.55"/>
<circle cx="441.8" cy="332.12" r="1.55"/>
<circle cx="423.31" cy="348.83" r="1.55"/>
<circle cx="424.02" cy="364.45" r="1.55"/>
<circle cx="438.19" cy="342.21" r="1.55"/>
<circle cx="429.44" cy="348.11" r="1.55"/>
<circle cx="435.33" cy="344" r="1.55"/>
<circle cx="423.1" cy="338.86" r="1.55"/>
<circle cx="430.9" cy="352.05" r="1.55"/>
<circle cx="424.59" cy="350.24" r="1.55"/>
<circle cx="437.27" cy="336.49" r="1.55"/>
<circle cx="438.34" cy="333.55" r="1.55"/>
<circle cx="417.89" cy="344.05" r="1.55"/>
<circle cx="441.83" cy="328.34" r="1.55"/>
<circle cx="414.34" cy="338.11" r="1.55"/>
<circle cx="423.58" cy="349" r="1.55"/>
</g>
<rect x="410" y="285.4" width="74.4" height="111.3" fill="none" stroke="#222" stroke-width="1"/>
<line x1="408.5" y1="301.1" x2="410" y2="301.1" stroke="#222" stroke-width="1"/>
<text x="406.5" y="304.2" font-size="8.6" text-anchor="end">2</text>
<line x1="408.5" y1="323.05" x2="410" y2="323.05" stroke="#222" stroke-width="1"/>
<text x="406.5" y="326.15" font-size="8.6" text-anchor="end">1</text>
<line x1="408.5" y1="345" x2="410" y2="345" stroke="#222" stroke-width="1"/>
<text x="406.5" y="348.1" font-size="8.6" text-anchor="end">0</text>
<line x1="408.5" y1="366.95" x2="410" y2="366.95" stroke="#222" stroke-width="1"/>
<text x="406.5" y="370.05" font-size="8.6" text-anchor="end">−1</text>
<line x1="408.5" y1="388.9" x2="410" y2="388.9" stroke="#222" stroke-width="1"/>
<text x="406.5" y="392" font-size="8.6" text-anchor="end">−2</text>
<line x1="413.4" y1="396.7" x2="413.4" y2="398.2" stroke="#222" stroke-width="1"/>
<text x="413.4" y="406.4" font-size="8.6" text-anchor="middle">0.0</text>
<line x1="440.8" y1="396.7" x2="440.8" y2="398.2" stroke="#222" stroke-width="1"/>
<text x="440.8" y="406.4" font-size="8.6" text-anchor="middle">0.1</text>
<line x1="468.2" y1="396.7" x2="468.2" y2="398.2" stroke="#222" stroke-width="1"/>
<text x="468.2" y="406.4" font-size="8.6" text-anchor="middle">0.2</text>
<text x="480.8" y="294" font-size="8.6" text-anchor="end">SKCM</text>
<text x="440" y="381.1" font-size="8.6">ρ = 0.6,</text>
<text x="479.7" y="392.2" font-size="8.6" text-anchor="end"><tspan font-style="italic">P</tspan> = 8e−46</text>
<text x="446.4" y="416.6" font-size="8.6" text-anchor="middle">Tregs</text>
<clipPath id="f1"><rect x="292.2" y="439" width="108" height="103"/></clipPath>
<g clip-path="url(#f1)">
<polygon points="296.5,443.5 298.7,443.5 298.7,444.22 300.3,444.22 300.3,446.93 302.5,446.93 302.5,450.17 304.7,450.17 304.7,458.04 307,458.04 307,463.82 310.3,463.82 310.3,466.27 313.7,466.27 313.7,469.58 317,469.58 317,472.86 320.3,472.86 320.3,478.43 323.7,478.43 323.7,480.62 327,480.62 327,482.21 329.8,482.21 329.8,483.11 332.6,483.11 332.6,484 336,484 336,485.68 339.33,485.68 339.33,486.22 342.67,486.22 342.67,486.77 346,486.77 346,487.31 349.35,487.31 349.35,488.16 352.7,488.16 352.7,489.02 353.8,489.02 353.8,494.8 354.9,494.8 354.9,501.4 386.1,501.4 386.1,540.4 354.9,540.4 354.9,529.58 353.8,529.58 353.8,520.1 352.7,520.1 352.7,518.71 349.35,518.71 349.35,517.31 346,517.31 346,516.42 342.67,516.42 342.67,515.53 339.33,515.53 339.33,514.63 336,514.63 336,511.99 332.6,511.99 332.6,511.03 329.8,511.03 329.8,510.08 327,510.08 327,508.38 323.7,508.38 323.7,506.04 320.3,506.04 320.3,500.1 317,500.1 317,496.59 313.7,496.59 313.7,492.94 310.3,492.94 310.3,488.95 307,488.95 307,479.5 304.7,479.5 304.7,465.32 302.5,465.32 302.5,454.73 300.3,454.73 300.3,445.87 298.7,445.87 298.7,443.5 296.5,443.5" fill="#e8704e" fill-opacity="0.3"/>
<polygon points="296.5,443.5 300.3,443.5 300.3,443.97 303.6,443.97 303.6,445.5 307,445.5 307,447.24 310.3,447.24 310.3,450.39 313.7,450.39 313.7,453.18 317,453.18 317,455.23 321.5,455.23 321.5,457.3 324.8,457.3 324.8,461.54 328.2,461.54 328.2,464.74 332.6,464.74 332.6,467.85 336,467.85 336,470.97 337.1,470.97 337.1,473.83 351.6,473.83 352.7,473.83 352.7,475.41 363.8,475.41 363.8,479.6 396.2,479.6 396.2,515.3 363.8,515.3 363.8,506.02 352.7,506.02 352.7,499.88 351.6,499.88 337.1,499.88 337.1,495.89 336,495.89 336,492.11 332.6,492.11 332.6,488.34 328.2,488.34 328.2,484.45 324.8,484.45 324.8,479.31 321.5,479.31 321.5,474.52 317,474.52 317,469.72 313.7,469.72 313.7,463.17 310.3,463.17 310.3,454.63 307,454.63 307,449.46 303.6,449.46 303.6,444.91 300.3,444.91 300.3,443.5 296.5,443.5" fill="#4a8fc0" fill-opacity="0.3"/>
<polyline points="296.5,443.5 298.7,443.5 298.7,445 300.3,445 300.3,450.6 302.5,450.6 302.5,457.3 304.7,457.3 304.7,468.5 307,468.5 307,476.3 310.3,476.3 310.3,479.6 313.7,479.6 313.7,483 317,483 317,486.3 320.3,486.3 320.3,491.9 323.7,491.9 323.7,494.1 327,494.1 327,495.7 329.8,495.7 329.8,496.6 332.6,496.6 332.6,497.5 336,497.5 336,499.7 339.33,499.7 339.33,500.43 342.67,500.43 342.67,501.17 346,501.17 346,501.9 349.35,501.9 349.35,503.05 352.7,503.05 352.7,504.2 353.8,504.2 353.8,512 354.9,512 354.9,520.9 386.1,520.9" fill="none" stroke="#c4512a" stroke-width="1.45" stroke-linejoin="miter"/>
<polyline points="296.5,443.5 300.3,443.5 300.3,444.4 303.6,444.4 303.6,447.3 307,447.3 307,450.6 310.3,450.6 310.3,456.2 313.7,456.2 313.7,460.7 317,460.7 317,464 321.5,464 321.5,467.3 324.8,467.3 324.8,471.8 328.2,471.8 328.2,475.2 332.6,475.2 332.6,478.5 336,478.5 336,481.8 337.1,481.8 337.1,485.2 351.6,485.2 352.7,485.2 352.7,489.7 363.8,489.7 363.8,496.3 396.2,496.3" fill="none" stroke="#3a80b0" stroke-width="1.45" stroke-linejoin="miter"/>
</g>
<rect x="292.2" y="439" width="108" height="103" fill="none" stroke="#222" stroke-width="1"/>
<line x1="289.7" y1="443.9" x2="292.2" y2="443.9" stroke="#222" stroke-width="1"/>
<text x="287.9" y="447" font-size="8.6" text-anchor="end">1.0</text>
<line x1="289.7" y1="462.9" x2="292.2" y2="462.9" stroke="#222" stroke-width="1"/>
<text x="287.9" y="466" font-size="8.6" text-anchor="end">0.8</text>
<line x1="289.7" y1="481.9" x2="292.2" y2="481.9" stroke="#222" stroke-width="1"/>
<text x="287.9" y="485" font-size="8.6" text-anchor="end">0.6</text>
<line x1="289.7" y1="500.9" x2="292.2" y2="500.9" stroke="#222" stroke-width="1"/>
<text x="287.9" y="504" font-size="8.6" text-anchor="end">0.4</text>
<line x1="289.7" y1="519.9" x2="292.2" y2="519.9" stroke="#222" stroke-width="1"/>
<text x="287.9" y="523" font-size="8.6" text-anchor="end">0.2</text>
<line x1="289.7" y1="538.9" x2="292.2" y2="538.9" stroke="#222" stroke-width="1"/>
<text x="287.9" y="542" font-size="8.6" text-anchor="end">0.0</text>
<line x1="296.3" y1="542" x2="296.3" y2="544.5" stroke="#222" stroke-width="1"/>
<text x="296.3" y="552.8" font-size="8.6" text-anchor="middle">0</text>
<line x1="326.4" y1="542" x2="326.4" y2="544.5" stroke="#222" stroke-width="1"/>
<text x="326.4" y="552.8" font-size="8.6" text-anchor="middle">500</text>
<line x1="356.5" y1="542" x2="356.5" y2="544.5" stroke="#222" stroke-width="1"/>
<text x="356.5" y="552.8" font-size="8.6" text-anchor="middle">1,000</text>
<line x1="386.6" y1="542" x2="386.6" y2="544.5" stroke="#222" stroke-width="1"/>
<text x="386.6" y="552.8" font-size="8.6" text-anchor="middle">1,500</text>
<line x1="351.2" y1="445.7" x2="359" y2="445.7" stroke="#3a80b0" stroke-width="2.6"/>
<text x="360.2" y="448.3" font-size="7.1">High, <tspan font-style="italic">n</tspan> = 61</text>
<line x1="351.2" y1="456.2" x2="359" y2="456.2" stroke="#c4512a" stroke-width="2.6"/>
<text x="360.2" y="458.8" font-size="7.1">Low, <tspan font-style="italic">n</tspan> = 60</text>
<text x="295.8" y="535.6" font-size="8.6"><tspan font-style="italic">P</tspan> = 6.9e−3</text>
<clipPath id="f2"><rect x="407.6" y="438.8" width="109.7" height="102.9"/></clipPath>
<g clip-path="url(#f2)">
<polygon points="412.8,440.7 415,440.7 415.5,440.7 415.5,444.47 416.3,444.47 416.3,453.1 417.7,453.1 417.7,458.69 419.8,458.69 419.8,462.93 420.9,462.93 420.9,467.25 422.5,467.25 422.5,473.73 424.4,473.73 424.4,479.14 428.5,479.14 431.2,479.14 431.2,484.72 432.5,484.72 432.5,490.21 451.4,490.21 451.4,494 462.1,494 464.8,494 464.8,497.77 466.2,497.77 466.2,501.9 480.2,501.9 480.2,536.9 466.2,536.9 466.2,532.06 464.8,532.06 464.8,527.64 462.1,527.64 451.4,527.64 451.4,523.2 432.5,523.2 432.5,516.78 431.2,516.78 431.2,510.27 428.5,510.27 424.4,510.27 424.4,503.45 422.5,503.45 422.5,494.8 420.9,494.8 420.9,489.03 419.8,489.03 419.8,483.37 417.7,483.37 417.7,473.1 416.3,473.1 416.3,454.73 415.5,454.73 415.5,446.7 415,446.7 412.8,446.7" fill="#e8704e" fill-opacity="0.3"/>
<polygon points="412.8,440.7 417.7,440.7 417.7,443.55 421.7,443.55 423.1,443.55 423.1,448.67 425.8,448.67 425.8,453.75 431.2,453.75 431.2,457.75 437.9,457.75 440.6,457.75 440.6,463.44 456.7,463.44 460.8,463.44 460.8,466.71 463.5,466.71 463.5,469.54 485,469.54 485,476.2 512.5,476.2 512.5,519.2 485,519.2 485,507.49 463.5,507.49 463.5,504.15 460.8,504.15 460.8,500.42 456.7,500.42 440.6,500.42 440.6,494.55 437.9,494.55 431.2,494.55 431.2,489.5 425.8,489.5 425.8,472.64 423.1,472.64 423.1,455.68 421.7,455.68 417.7,455.68 417.7,446.7 412.8,446.7" fill="#4a8fc0" fill-opacity="0.3"/>
<polyline points="412.8,443.7 415,443.7 415.5,443.7 415.5,449.6 416.3,449.6 416.3,463.1 417.7,463.1 417.7,471.2 419.8,471.2 419.8,476.5 420.9,476.5 420.9,481.9 422.5,481.9 422.5,490 424.4,490 424.4,496.7 428.5,496.7 431.2,496.7 431.2,503.5 432.5,503.5 432.5,510.2 451.4,510.2 451.4,515.6 462.1,515.6 464.8,515.6 464.8,521 466.2,521 466.2,526.9 480.2,526.9" fill="none" stroke="#c4512a" stroke-width="1.45" stroke-linejoin="miter"/>
<polyline points="412.8,443.7 417.7,443.7 417.7,448.3 421.7,448.3 423.1,448.3 423.1,457.7 425.8,457.7 425.8,467.1 431.2,467.1 431.2,471.2 437.9,471.2 440.6,471.2 440.6,476.5 456.7,476.5 460.8,476.5 460.8,481.9 463.5,481.9 463.5,487.3 485,487.3 485,496.2 512.5,496.2" fill="none" stroke="#3a80b0" stroke-width="1.45" stroke-linejoin="miter"/>
</g>
<rect x="407.6" y="438.8" width="109.7" height="102.9" fill="none" stroke="#222" stroke-width="1"/>
<line x1="406.4" y1="443.9" x2="407.6" y2="443.9" stroke="#222" stroke-width="1"/>
<text x="404.6" y="447" font-size="8.6" text-anchor="end"></text>
<line x1="406.4" y1="462.9" x2="407.6" y2="462.9" stroke="#222" stroke-width="1"/>
<text x="404.6" y="466" font-size="8.6" text-anchor="end"></text>
<line x1="406.4" y1="481.9" x2="407.6" y2="481.9" stroke="#222" stroke-width="1"/>
<text x="404.6" y="485" font-size="8.6" text-anchor="end"></text>
<line x1="406.4" y1="500.9" x2="407.6" y2="500.9" stroke="#222" stroke-width="1"/>
<text x="404.6" y="504" font-size="8.6" text-anchor="end"></text>
<line x1="406.4" y1="519.9" x2="407.6" y2="519.9" stroke="#222" stroke-width="1"/>
<text x="404.6" y="523" font-size="8.6" text-anchor="end"></text>
<line x1="406.4" y1="538.9" x2="407.6" y2="538.9" stroke="#222" stroke-width="1"/>
<text x="404.6" y="542" font-size="8.6" text-anchor="end"></text>
<line x1="413.1" y1="541.7" x2="413.1" y2="544.2" stroke="#222" stroke-width="1"/>
<text x="413.1" y="553.3" font-size="8.6" text-anchor="middle">0</text>
<line x1="431.3" y1="541.7" x2="431.3" y2="544.2" stroke="#222" stroke-width="1"/>
<text x="431.3" y="553.3" font-size="8.6" text-anchor="middle">10</text>
<line x1="449.5" y1="541.7" x2="449.5" y2="544.2" stroke="#222" stroke-width="1"/>
<text x="449.5" y="553.3" font-size="8.6" text-anchor="middle">20</text>
<line x1="467.7" y1="541.7" x2="467.7" y2="544.2" stroke="#222" stroke-width="1"/>
<text x="467.7" y="553.3" font-size="8.6" text-anchor="middle">30</text>
<line x1="485.9" y1="541.7" x2="485.9" y2="544.2" stroke="#222" stroke-width="1"/>
<text x="485.9" y="553.3" font-size="8.6" text-anchor="middle">40</text>
<line x1="504.1" y1="541.7" x2="504.1" y2="544.2" stroke="#222" stroke-width="1"/>
<text x="504.1" y="553.3" font-size="8.6" text-anchor="middle">50</text>
<line x1="470.2" y1="446.1" x2="478" y2="446.1" stroke="#3a80b0" stroke-width="2.6"/>
<text x="479.2" y="448.7" font-size="7.1">High, <tspan font-style="italic">n</tspan> = 20</text>
<line x1="470.2" y1="455.8" x2="478" y2="455.8" stroke="#c4512a" stroke-width="2.6"/>
<text x="479.2" y="458.4" font-size="7.1">Low, <tspan font-style="italic">n</tspan> = 20</text>
<text x="409.6" y="535.6" font-size="8.6"><tspan font-style="italic">P</tspan> = 2.6e−3</text>
<text x="346.2" y="436.5" font-size="8.6" text-anchor="middle">Liu et al. Anti–PD-1</text>
<text x="461.8" y="436" font-size="8.6" text-anchor="middle">Hugo et al. Anti–PD-1</text>
<text x="350" y="564" font-size="8.6" text-anchor="middle">Days</text>
<text x="464" y="564.1" font-size="8.6" text-anchor="middle">Months</text>
<text x="272.3" y="490" font-size="8.8" text-anchor="middle" transform="rotate(-90 272.3 490)">OS probability</text>
</svg>
</body></html>
